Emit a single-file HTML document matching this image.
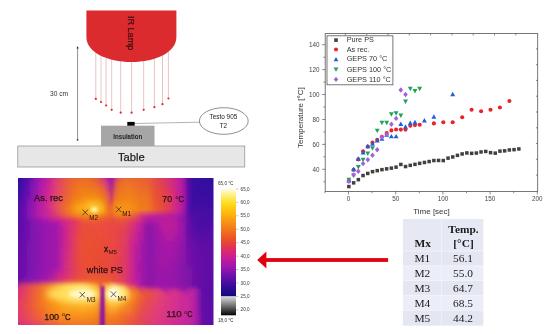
<!DOCTYPE html>
<html><head><meta charset="utf-8"><title>IR heating figure</title>
<style>
html,body{margin:0;padding:0;background:#fff;}
body{width:550px;height:334px;overflow:hidden;}
svg{display:block;}
.tk{font-family:"Liberation Sans",Arial,sans-serif;font-size:6.3px;fill:#444;}
.ax{font-family:"Liberation Sans",Arial,sans-serif;font-size:8px;fill:#333;}
.lg{font-family:"Liberation Sans",Arial,sans-serif;font-size:7.3px;fill:#333;}
.cal{font-family:"Liberation Sans",Arial,sans-serif;}
.c{width:3.2px;height:3.2px;}
.ser{font-family:"Liberation Serif","Times New Roman",serif;}
</style></head><body>
<svg width="550" height="334" viewBox="0 0 550 334">
<rect width="550" height="334" fill="#fff"/>
<g id="diagram">
<line x1="95.8" y1="45" x2="95.8" y2="98.9" stroke="#dfa4a4" stroke-width="0.65"/><circle cx="95.8" cy="98.9" r="1.1" fill="#e0262c"/><line x1="101.0" y1="45" x2="101.0" y2="102" stroke="#dfa4a4" stroke-width="0.65"/><circle cx="101.0" cy="102" r="1.1" fill="#e0262c"/><line x1="106.1" y1="45" x2="106.1" y2="105.5" stroke="#dfa4a4" stroke-width="0.65"/><circle cx="106.1" cy="105.5" r="1.1" fill="#e0262c"/><line x1="111.7" y1="45" x2="111.7" y2="109.8" stroke="#dfa4a4" stroke-width="0.65"/><circle cx="111.7" cy="109.8" r="1.1" fill="#e0262c"/><line x1="120.7" y1="45" x2="120.7" y2="112.7" stroke="#dfa4a4" stroke-width="0.65"/><circle cx="120.7" cy="112.7" r="1.1" fill="#e0262c"/><line x1="131.6" y1="45" x2="131.6" y2="112.7" stroke="#dfa4a4" stroke-width="0.65"/><circle cx="131.6" cy="112.7" r="1.1" fill="#e0262c"/><line x1="143.7" y1="45" x2="143.7" y2="109.8" stroke="#dfa4a4" stroke-width="0.65"/><circle cx="143.7" cy="109.8" r="1.1" fill="#e0262c"/><line x1="154.4" y1="45" x2="154.4" y2="107.2" stroke="#dfa4a4" stroke-width="0.65"/><circle cx="154.4" cy="107.2" r="1.1" fill="#e0262c"/><line x1="162.5" y1="45" x2="162.5" y2="104.2" stroke="#dfa4a4" stroke-width="0.65"/><circle cx="162.5" cy="104.2" r="1.1" fill="#e0262c"/><line x1="168.4" y1="45" x2="168.4" y2="98.5" stroke="#dfa4a4" stroke-width="0.65"/><circle cx="168.4" cy="98.5" r="1.1" fill="#e0262c"/>
<path d="M86.4,10.5 H176.4 V37 C176.4,52 156,62 131.4,62 C106.8,62 86.4,52 86.4,37 Z" fill="#dc2b2f"/>
<text transform="translate(127.9,15.9) rotate(90)" class="cal" font-size="8.4" textLength="34.4" lengthAdjust="spacingAndGlyphs" fill="#3a0c10" stroke="#3a0c10" stroke-width="0.2">IR Lamp</text>
<line x1="77.6" y1="48" x2="77.6" y2="139.5" stroke="#444" stroke-width="0.6"/>
<polygon points="77.6,46 76.5,48.6 78.7,48.6" fill="#333"/>
<circle cx="77.6" cy="139.8" r="0.9" fill="#333"/>
<text x="50" y="96.3" class="cal" font-size="6.6" textLength="18" lengthAdjust="spacingAndGlyphs" fill="#333">30 cm</text>
<rect x="17.8" y="146" width="227" height="21" fill="#e7e7e7" stroke="#8a8a8a" stroke-width="0.7"/>
<rect x="101" y="125.7" width="53.5" height="20.3" fill="#a6a6a6"/>
<rect x="127.3" y="121.9" width="7.4" height="3.8" fill="#000"/>
<line x1="134.7" y1="123.5" x2="199.5" y2="122.2" stroke="#666" stroke-width="0.5"/>
<ellipse cx="223.8" cy="121" rx="24.4" ry="13.3" fill="#fff" stroke="#444" stroke-width="0.6"/>
<text x="223.4" y="119.4" text-anchor="middle" class="cal" font-size="6.4" fill="#222">Testo 905</text>
<text x="223.4" y="128.1" text-anchor="middle" class="cal" font-size="6.4" fill="#222">T2</text>
<text x="113.3" y="138.5" class="cal" font-size="6.4" font-weight="bold" textLength="29" lengthAdjust="spacingAndGlyphs" fill="#222">Insulation</text>
<text x="117.9" y="160.8" class="cal" font-size="11.8" textLength="26.8" lengthAdjust="spacingAndGlyphs" fill="#222" stroke="#222" stroke-width="0.25">Table</text>
</g>
<g id="thermal">
<defs>
<clipPath id="tc"><rect x="18" y="178" width="195.5" height="147"/></clipPath>
<filter id="b8" x="-50%" y="-50%" width="200%" height="200%"><feGaussianBlur stdDeviation="8"/></filter>
<filter id="b5" x="-50%" y="-50%" width="200%" height="200%"><feGaussianBlur stdDeviation="5"/></filter>
<filter id="b3" x="-50%" y="-50%" width="200%" height="200%"><feGaussianBlur stdDeviation="3"/></filter>
<filter id="b2" x="-50%" y="-50%" width="200%" height="200%"><feGaussianBlur stdDeviation="1.8"/></filter>
<filter id="bc" x="-5%" y="-5%" width="110%" height="110%"><feGaussianBlur stdDeviation="1.3"/></filter>
<filter id="b1" x="-50%" y="-50%" width="200%" height="200%"><feGaussianBlur stdDeviation="1"/></filter>
<linearGradient id="bg" x1="0" x2="1" y1="0" y2="0">
<stop offset="0" stop-color="#4a0ca6"/><stop offset="0.12" stop-color="#7410ae"/><stop offset="0.25" stop-color="#a018b0"/>
<stop offset="0.7" stop-color="#a818a8"/><stop offset="0.86" stop-color="#8012a8"/><stop offset="0.92" stop-color="#5a0ea6"/><stop offset="1" stop-color="#4a0ca4"/>
</linearGradient>
<linearGradient id="cb" x1="0" x2="0" y1="0" y2="1">
<stop offset="0" stop-color="#fffbe6"/><stop offset="0.06" stop-color="#fff07a"/><stop offset="0.14" stop-color="#ffd91a"/>
<stop offset="0.24" stop-color="#fdb10c"/><stop offset="0.34" stop-color="#f6851a"/><stop offset="0.46" stop-color="#ec5424"/>
<stop offset="0.55" stop-color="#e0305a"/><stop offset="0.63" stop-color="#cc1e92"/><stop offset="0.72" stop-color="#a216b0"/>
<stop offset="0.82" stop-color="#6410a8"/><stop offset="0.92" stop-color="#2e0a96"/><stop offset="1" stop-color="#12087a"/>
</linearGradient>
<linearGradient id="cg" x1="0" x2="0" y1="0" y2="1">
<stop offset="0" stop-color="#dcdcdc"/><stop offset="1" stop-color="#050505"/>
</linearGradient>
</defs>
<g clip-path="url(#tc)"><g filter="url(#bc)"><rect class="c" x="12" y="172" fill="#2c08a0"/><rect class="c" x="15" y="172" fill="#2c08a0"/><rect class="c" x="18" y="172" fill="#3008a1"/><rect class="c" x="21" y="172" fill="#3408a2"/><rect class="c" x="24" y="172" fill="#4c0ca9"/><rect class="c" x="27" y="172" fill="#6410b0"/><rect class="c" x="30" y="172" fill="#6410b0"/><rect class="c" x="33" y="172" fill="#8014b0"/><rect class="c" x="36" y="172" fill="#9c18b0"/><rect class="c" x="39" y="172" fill="#9c18b0"/><rect class="c" x="42" y="172" fill="#b01ca6"/><rect class="c" x="45" y="172" fill="#c4209c"/><rect class="c" x="48" y="172" fill="#c4209c"/><rect class="c" x="51" y="172" fill="#d03086"/><rect class="c" x="54" y="172" fill="#dc4070"/><rect class="c" x="57" y="172" fill="#dc4070"/><rect class="c" x="60" y="172" fill="#e14b5c"/><rect class="c" x="63" y="172" fill="#e65648"/><rect class="c" x="66" y="172" fill="#e65648"/><rect class="c" x="69" y="172" fill="#e85e3c"/><rect class="c" x="72" y="172" fill="#ea6630"/><rect class="c" x="75" y="172" fill="#ea6630"/><rect class="c" x="78" y="172" fill="#eb6a2a"/><rect class="c" x="81" y="172" fill="#ec6e24"/><rect class="c" x="84" y="172" fill="#ec6e24"/><rect class="c" x="87" y="172" fill="#ea672c"/><rect class="c" x="90" y="172" fill="#e86034"/><rect class="c" x="93" y="172" fill="#e86034"/><rect class="c" x="96" y="172" fill="#e86034"/><rect class="c" x="99" y="172" fill="#de465c"/><rect class="c" x="102" y="172" fill="#d42c84"/><rect class="c" x="105" y="172" fill="#d42c84"/><rect class="c" x="108" y="172" fill="#b82296"/><rect class="c" x="111" y="172" fill="#9c18a8"/><rect class="c" x="114" y="172" fill="#c03976"/><rect class="c" x="117" y="172" fill="#e45a44"/><rect class="c" x="120" y="172" fill="#e86337"/><rect class="c" x="123" y="172" fill="#ec6c2a"/><rect class="c" x="126" y="172" fill="#ec6c2a"/><rect class="c" x="129" y="172" fill="#eb692d"/><rect class="c" x="132" y="172" fill="#ea6630"/><rect class="c" x="135" y="172" fill="#ea6630"/><rect class="c" x="138" y="172" fill="#ea6630"/><rect class="c" x="141" y="172" fill="#e86234"/><rect class="c" x="144" y="172" fill="#e65e38"/><rect class="c" x="147" y="172" fill="#e65e38"/><rect class="c" x="150" y="172" fill="#e65e38"/><rect class="c" x="153" y="172" fill="#e34f46"/><rect class="c" x="156" y="172" fill="#e04054"/><rect class="c" x="159" y="172" fill="#e04054"/><rect class="c" x="162" y="172" fill="#da366a"/><rect class="c" x="165" y="172" fill="#d42c80"/><rect class="c" x="168" y="172" fill="#d42c80"/><rect class="c" x="171" y="172" fill="#cb268d"/><rect class="c" x="174" y="172" fill="#c2209a"/><rect class="c" x="177" y="172" fill="#c2209a"/><rect class="c" x="180" y="172" fill="#b31ca1"/><rect class="c" x="183" y="172" fill="#8614a8"/><rect class="c" x="186" y="172" fill="#510da4"/><rect class="c" x="189" y="172" fill="#3a0aa0"/><rect class="c" x="192" y="172" fill="#3809a0"/><rect class="c" x="195" y="172" fill="#3608a0"/><rect class="c" x="198" y="172" fill="#3608a0"/><rect class="c" x="201" y="172" fill="#3308a0"/><rect class="c" x="204" y="172" fill="#3008a0"/><rect class="c" x="207" y="172" fill="#3008a0"/><rect class="c" x="210" y="172" fill="#3008a0"/><rect class="c" x="213" y="172" fill="#3008a0"/><rect class="c" x="216" y="172" fill="#3008a0"/><rect class="c" x="12" y="175" fill="#2c08a0"/><rect class="c" x="15" y="175" fill="#2c08a0"/><rect class="c" x="18" y="175" fill="#3008a1"/><rect class="c" x="21" y="175" fill="#3c09a4"/><rect class="c" x="24" y="175" fill="#440ba7"/><rect class="c" x="27" y="175" fill="#6410b0"/><rect class="c" x="30" y="175" fill="#6d11b0"/><rect class="c" x="33" y="175" fill="#7713b0"/><rect class="c" x="36" y="175" fill="#9c18b0"/><rect class="c" x="39" y="175" fill="#a319ad"/><rect class="c" x="42" y="175" fill="#a91ba9"/><rect class="c" x="45" y="175" fill="#c4209c"/><rect class="c" x="48" y="175" fill="#c82595"/><rect class="c" x="51" y="175" fill="#cc2b8d"/><rect class="c" x="54" y="175" fill="#dc4070"/><rect class="c" x="57" y="175" fill="#de4469"/><rect class="c" x="60" y="175" fill="#df4763"/><rect class="c" x="63" y="175" fill="#e65648"/><rect class="c" x="66" y="175" fill="#e75944"/><rect class="c" x="69" y="175" fill="#e75b40"/><rect class="c" x="72" y="175" fill="#ea6630"/><rect class="c" x="75" y="175" fill="#ea672e"/><rect class="c" x="78" y="175" fill="#eb692c"/><rect class="c" x="81" y="175" fill="#ec6e24"/><rect class="c" x="84" y="175" fill="#eb6c26"/><rect class="c" x="87" y="175" fill="#eb6a28"/><rect class="c" x="90" y="175" fill="#e86133"/><rect class="c" x="93" y="175" fill="#e75d38"/><rect class="c" x="96" y="175" fill="#e45644"/><rect class="c" x="99" y="175" fill="#e14e50"/><rect class="c" x="102" y="175" fill="#d42c84"/><rect class="c" x="105" y="175" fill="#c6278d"/><rect class="c" x="108" y="175" fill="#b82296"/><rect class="c" x="111" y="175" fill="#ab2693"/><rect class="c" x="114" y="175" fill="#bb347d"/><rect class="c" x="117" y="175" fill="#e55d40"/><rect class="c" x="120" y="175" fill="#e7603b"/><rect class="c" x="123" y="175" fill="#ec6c2a"/><rect class="c" x="126" y="175" fill="#ec6b2b"/><rect class="c" x="129" y="175" fill="#eb6a2c"/><rect class="c" x="132" y="175" fill="#ea6630"/><rect class="c" x="135" y="175" fill="#ea6531"/><rect class="c" x="138" y="175" fill="#e96432"/><rect class="c" x="141" y="175" fill="#e96333"/><rect class="c" x="144" y="175" fill="#e65e38"/><rect class="c" x="147" y="175" fill="#e65c3a"/><rect class="c" x="150" y="175" fill="#e5583e"/><rect class="c" x="153" y="175" fill="#e45441"/><rect class="c" x="156" y="175" fill="#e04153"/><rect class="c" x="159" y="175" fill="#df3e58"/><rect class="c" x="162" y="175" fill="#dd3b5f"/><rect class="c" x="165" y="175" fill="#d52e7c"/><rect class="c" x="168" y="175" fill="#d32b82"/><rect class="c" x="171" y="175" fill="#d02986"/><rect class="c" x="174" y="175" fill="#c32198"/><rect class="c" x="177" y="175" fill="#bd1f9c"/><rect class="c" x="180" y="175" fill="#b61da0"/><rect class="c" x="183" y="175" fill="#9015a8"/><rect class="c" x="186" y="175" fill="#590ea5"/><rect class="c" x="189" y="175" fill="#390aa0"/><rect class="c" x="192" y="175" fill="#3809a0"/><rect class="c" x="195" y="175" fill="#3608a0"/><rect class="c" x="198" y="175" fill="#3508a0"/><rect class="c" x="201" y="175" fill="#3408a0"/><rect class="c" x="204" y="175" fill="#3108a0"/><rect class="c" x="207" y="175" fill="#3008a0"/><rect class="c" x="210" y="175" fill="#3008a0"/><rect class="c" x="213" y="175" fill="#3008a0"/><rect class="c" x="216" y="175" fill="#3008a0"/><rect class="c" x="12" y="178" fill="#2e08a1"/><rect class="c" x="15" y="178" fill="#2e08a1"/><rect class="c" x="18" y="178" fill="#3309a2"/><rect class="c" x="21" y="178" fill="#3f0aa5"/><rect class="c" x="24" y="178" fill="#4f0ca9"/><rect class="c" x="27" y="178" fill="#5f0fae"/><rect class="c" x="30" y="178" fill="#7011b0"/><rect class="c" x="33" y="178" fill="#8214b0"/><rect class="c" x="36" y="178" fill="#9517b0"/><rect class="c" x="39" y="178" fill="#a519ac"/><rect class="c" x="42" y="178" fill="#b21ca5"/><rect class="c" x="45" y="178" fill="#bf1f9e"/><rect class="c" x="48" y="178" fill="#ca2594"/><rect class="c" x="51" y="178" fill="#d23086"/><rect class="c" x="54" y="178" fill="#da3b77"/><rect class="c" x="57" y="178" fill="#df4468"/><rect class="c" x="60" y="178" fill="#e24c5a"/><rect class="c" x="63" y="178" fill="#e5534c"/><rect class="c" x="66" y="178" fill="#e85a41"/><rect class="c" x="69" y="178" fill="#e96038"/><rect class="c" x="72" y="178" fill="#ea6530"/><rect class="c" x="75" y="178" fill="#eb692b"/><rect class="c" x="78" y="178" fill="#ec6c27"/><rect class="c" x="81" y="178" fill="#ed6e24"/><rect class="c" x="84" y="178" fill="#ed6e24"/><rect class="c" x="87" y="178" fill="#eb6a28"/><rect class="c" x="90" y="178" fill="#ea672d"/><rect class="c" x="93" y="178" fill="#e86134"/><rect class="c" x="96" y="178" fill="#e45844"/><rect class="c" x="99" y="178" fill="#df4b5b"/><rect class="c" x="102" y="178" fill="#d93e72"/><rect class="c" x="105" y="178" fill="#c82c8a"/><rect class="c" x="108" y="178" fill="#ac1d9f"/><rect class="c" x="111" y="178" fill="#ad2790"/><rect class="c" x="114" y="178" fill="#cc4563"/><rect class="c" x="117" y="178" fill="#e25b43"/><rect class="c" x="120" y="178" fill="#e96535"/><rect class="c" x="123" y="178" fill="#ec6b2d"/><rect class="c" x="126" y="178" fill="#ec6c2a"/><rect class="c" x="129" y="178" fill="#ec6b2c"/><rect class="c" x="132" y="178" fill="#eb692d"/><rect class="c" x="135" y="178" fill="#eb672f"/><rect class="c" x="138" y="178" fill="#ea6531"/><rect class="c" x="141" y="178" fill="#e96333"/><rect class="c" x="144" y="178" fill="#e86134"/><rect class="c" x="147" y="178" fill="#e75d38"/><rect class="c" x="150" y="178" fill="#e5563e"/><rect class="c" x="153" y="178" fill="#e44f45"/><rect class="c" x="156" y="178" fill="#e2474c"/><rect class="c" x="159" y="178" fill="#e04055"/><rect class="c" x="162" y="178" fill="#dd3a61"/><rect class="c" x="165" y="178" fill="#d9346f"/><rect class="c" x="168" y="178" fill="#d52e7b"/><rect class="c" x="171" y="178" fill="#cf2987"/><rect class="c" x="174" y="178" fill="#c92491"/><rect class="c" x="177" y="178" fill="#bf1f9a"/><rect class="c" x="180" y="178" fill="#b21ba2"/><rect class="c" x="183" y="178" fill="#9416a7"/><rect class="c" x="186" y="178" fill="#640fa5"/><rect class="c" x="189" y="178" fill="#420ba1"/><rect class="c" x="192" y="178" fill="#390aa0"/><rect class="c" x="195" y="178" fill="#3709a0"/><rect class="c" x="198" y="178" fill="#3609a0"/><rect class="c" x="201" y="178" fill="#3508a0"/><rect class="c" x="204" y="178" fill="#3408a0"/><rect class="c" x="207" y="178" fill="#3308a0"/><rect class="c" x="210" y="178" fill="#3208a0"/><rect class="c" x="213" y="178" fill="#3108a0"/><rect class="c" x="216" y="178" fill="#3108a0"/><rect class="c" x="12" y="181" fill="#3008a2"/><rect class="c" x="15" y="181" fill="#3208a3"/><rect class="c" x="18" y="181" fill="#3609a3"/><rect class="c" x="21" y="181" fill="#440ba6"/><rect class="c" x="24" y="181" fill="#540daa"/><rect class="c" x="27" y="181" fill="#640fae"/><rect class="c" x="30" y="181" fill="#7412b0"/><rect class="c" x="33" y="181" fill="#8614b0"/><rect class="c" x="36" y="181" fill="#9817af"/><rect class="c" x="39" y="181" fill="#a71aab"/><rect class="c" x="42" y="181" fill="#b51da4"/><rect class="c" x="45" y="181" fill="#c21f9d"/><rect class="c" x="48" y="181" fill="#cd2692"/><rect class="c" x="51" y="181" fill="#d53184"/><rect class="c" x="54" y="181" fill="#dc3c76"/><rect class="c" x="57" y="181" fill="#e24567"/><rect class="c" x="60" y="181" fill="#e44d58"/><rect class="c" x="63" y="181" fill="#e75549"/><rect class="c" x="66" y="181" fill="#e95c3d"/><rect class="c" x="69" y="181" fill="#ea6234"/><rect class="c" x="72" y="181" fill="#ec682b"/><rect class="c" x="75" y="181" fill="#ed6d25"/><rect class="c" x="78" y="181" fill="#ee7023"/><rect class="c" x="81" y="181" fill="#ee7220"/><rect class="c" x="84" y="181" fill="#ee7221"/><rect class="c" x="87" y="181" fill="#ed6f25"/><rect class="c" x="90" y="181" fill="#ec6b29"/><rect class="c" x="93" y="181" fill="#eb682c"/><rect class="c" x="96" y="181" fill="#e8603a"/><rect class="c" x="99" y="181" fill="#e2554f"/><rect class="c" x="102" y="181" fill="#dd4a65"/><rect class="c" x="105" y="181" fill="#cc3b7c"/><rect class="c" x="108" y="181" fill="#b32696"/><rect class="c" x="111" y="181" fill="#b32c89"/><rect class="c" x="114" y="181" fill="#d24b59"/><rect class="c" x="117" y="181" fill="#e4603b"/><rect class="c" x="120" y="181" fill="#ec6b2d"/><rect class="c" x="123" y="181" fill="#ee6f29"/><rect class="c" x="126" y="181" fill="#ee7027"/><rect class="c" x="129" y="181" fill="#ed6f29"/><rect class="c" x="132" y="181" fill="#ed6c2a"/><rect class="c" x="135" y="181" fill="#ec6a2c"/><rect class="c" x="138" y="181" fill="#eb682d"/><rect class="c" x="141" y="181" fill="#ea662f"/><rect class="c" x="144" y="181" fill="#e96331"/><rect class="c" x="147" y="181" fill="#e85e34"/><rect class="c" x="150" y="181" fill="#e7583a"/><rect class="c" x="153" y="181" fill="#e55041"/><rect class="c" x="156" y="181" fill="#e44948"/><rect class="c" x="159" y="181" fill="#e24250"/><rect class="c" x="162" y="181" fill="#df3c5c"/><rect class="c" x="165" y="181" fill="#db3669"/><rect class="c" x="168" y="181" fill="#d73077"/><rect class="c" x="171" y="181" fill="#d12b82"/><rect class="c" x="174" y="181" fill="#cb258d"/><rect class="c" x="177" y="181" fill="#c12098"/><rect class="c" x="180" y="181" fill="#b41ba1"/><rect class="c" x="183" y="181" fill="#9716a6"/><rect class="c" x="186" y="181" fill="#650fa6"/><rect class="c" x="189" y="181" fill="#440ba2"/><rect class="c" x="192" y="181" fill="#3b0aa0"/><rect class="c" x="195" y="181" fill="#390aa0"/><rect class="c" x="198" y="181" fill="#380aa0"/><rect class="c" x="201" y="181" fill="#3709a0"/><rect class="c" x="204" y="181" fill="#3509a0"/><rect class="c" x="207" y="181" fill="#3409a0"/><rect class="c" x="210" y="181" fill="#3308a0"/><rect class="c" x="213" y="181" fill="#3208a0"/><rect class="c" x="216" y="181" fill="#3208a0"/><rect class="c" x="12" y="184" fill="#3008a2"/><rect class="c" x="15" y="184" fill="#3409a3"/><rect class="c" x="18" y="184" fill="#3a0aa4"/><rect class="c" x="21" y="184" fill="#460ca6"/><rect class="c" x="24" y="184" fill="#560eaa"/><rect class="c" x="27" y="184" fill="#6610ae"/><rect class="c" x="30" y="184" fill="#7812b0"/><rect class="c" x="33" y="184" fill="#8a15b0"/><rect class="c" x="36" y="184" fill="#9c17ae"/><rect class="c" x="39" y="184" fill="#aa1baa"/><rect class="c" x="42" y="184" fill="#b61ea2"/><rect class="c" x="45" y="184" fill="#c4219b"/><rect class="c" x="48" y="184" fill="#ce2890"/><rect class="c" x="51" y="184" fill="#d63282"/><rect class="c" x="54" y="184" fill="#dd3d75"/><rect class="c" x="57" y="184" fill="#e24666"/><rect class="c" x="60" y="184" fill="#e54e56"/><rect class="c" x="63" y="184" fill="#e75647"/><rect class="c" x="66" y="184" fill="#e95d3b"/><rect class="c" x="69" y="184" fill="#eb6332"/><rect class="c" x="72" y="184" fill="#ec6b28"/><rect class="c" x="75" y="184" fill="#ee7123"/><rect class="c" x="78" y="184" fill="#ef7420"/><rect class="c" x="81" y="184" fill="#ef771e"/><rect class="c" x="84" y="184" fill="#ef761e"/><rect class="c" x="87" y="184" fill="#ee7322"/><rect class="c" x="90" y="184" fill="#ed7125"/><rect class="c" x="93" y="184" fill="#ed6e28"/><rect class="c" x="96" y="184" fill="#eb692c"/><rect class="c" x="99" y="184" fill="#e65f3f"/><rect class="c" x="102" y="184" fill="#e15454"/><rect class="c" x="105" y="184" fill="#d0456b"/><rect class="c" x="108" y="184" fill="#bb3088"/><rect class="c" x="111" y="184" fill="#bd357c"/><rect class="c" x="114" y="184" fill="#d8534e"/><rect class="c" x="117" y="184" fill="#e96731"/><rect class="c" x="120" y="184" fill="#ed6f28"/><rect class="c" x="123" y="184" fill="#ef7324"/><rect class="c" x="126" y="184" fill="#ef7424"/><rect class="c" x="129" y="184" fill="#ee7325"/><rect class="c" x="132" y="184" fill="#ee7027"/><rect class="c" x="135" y="184" fill="#ed6d29"/><rect class="c" x="138" y="184" fill="#ec6a2b"/><rect class="c" x="141" y="184" fill="#eb682c"/><rect class="c" x="144" y="184" fill="#ea672e"/><rect class="c" x="147" y="184" fill="#e96131"/><rect class="c" x="150" y="184" fill="#e85936"/><rect class="c" x="153" y="184" fill="#e6513d"/><rect class="c" x="156" y="184" fill="#e54a44"/><rect class="c" x="159" y="184" fill="#e3444a"/><rect class="c" x="162" y="184" fill="#e03e55"/><rect class="c" x="165" y="184" fill="#dc3862"/><rect class="c" x="168" y="184" fill="#d93271"/><rect class="c" x="171" y="184" fill="#d32c7d"/><rect class="c" x="174" y="184" fill="#cc268a"/><rect class="c" x="177" y="184" fill="#c32095"/><rect class="c" x="180" y="184" fill="#b61ba0"/><rect class="c" x="183" y="184" fill="#9916a5"/><rect class="c" x="186" y="184" fill="#670fa5"/><rect class="c" x="189" y="184" fill="#440ba2"/><rect class="c" x="192" y="184" fill="#3b0aa0"/><rect class="c" x="195" y="184" fill="#390aa0"/><rect class="c" x="198" y="184" fill="#380aa0"/><rect class="c" x="201" y="184" fill="#3709a0"/><rect class="c" x="204" y="184" fill="#3609a0"/><rect class="c" x="207" y="184" fill="#3509a0"/><rect class="c" x="210" y="184" fill="#3409a0"/><rect class="c" x="213" y="184" fill="#3308a0"/><rect class="c" x="216" y="184" fill="#3208a0"/><rect class="c" x="12" y="187" fill="#3b0aa5"/><rect class="c" x="15" y="187" fill="#3609a4"/><rect class="c" x="18" y="187" fill="#3e0aa5"/><rect class="c" x="21" y="187" fill="#4a0ca7"/><rect class="c" x="24" y="187" fill="#5a0eaa"/><rect class="c" x="27" y="187" fill="#6a10ae"/><rect class="c" x="30" y="187" fill="#7a12b0"/><rect class="c" x="33" y="187" fill="#8c15af"/><rect class="c" x="36" y="187" fill="#9e18ae"/><rect class="c" x="39" y="187" fill="#ad1ba8"/><rect class="c" x="42" y="187" fill="#b820a0"/><rect class="c" x="45" y="187" fill="#c52299"/><rect class="c" x="48" y="187" fill="#d0298e"/><rect class="c" x="51" y="187" fill="#d73481"/><rect class="c" x="54" y="187" fill="#dd3f73"/><rect class="c" x="57" y="187" fill="#e24864"/><rect class="c" x="60" y="187" fill="#e55054"/><rect class="c" x="63" y="187" fill="#e85845"/><rect class="c" x="66" y="187" fill="#ea5f39"/><rect class="c" x="69" y="187" fill="#eb6630"/><rect class="c" x="72" y="187" fill="#ed6d26"/><rect class="c" x="75" y="187" fill="#ef7420"/><rect class="c" x="78" y="187" fill="#f0781e"/><rect class="c" x="81" y="187" fill="#f07b1b"/><rect class="c" x="84" y="187" fill="#f07a1c"/><rect class="c" x="87" y="187" fill="#ef781f"/><rect class="c" x="90" y="187" fill="#ef7621"/><rect class="c" x="93" y="187" fill="#ee7523"/><rect class="c" x="96" y="187" fill="#ed7125"/><rect class="c" x="99" y="187" fill="#ea692e"/><rect class="c" x="102" y="187" fill="#e55e44"/><rect class="c" x="105" y="187" fill="#d54e5c"/><rect class="c" x="108" y="187" fill="#c2397a"/><rect class="c" x="111" y="187" fill="#c63e70"/><rect class="c" x="114" y="187" fill="#dd5a44"/><rect class="c" x="117" y="187" fill="#ec6d2a"/><rect class="c" x="120" y="187" fill="#ee7323"/><rect class="c" x="123" y="187" fill="#ef7720"/><rect class="c" x="126" y="187" fill="#f07821"/><rect class="c" x="129" y="187" fill="#ef7722"/><rect class="c" x="132" y="187" fill="#ee7424"/><rect class="c" x="135" y="187" fill="#ed7026"/><rect class="c" x="138" y="187" fill="#ec6d28"/><rect class="c" x="141" y="187" fill="#eb6b29"/><rect class="c" x="144" y="187" fill="#eb6a2a"/><rect class="c" x="147" y="187" fill="#ea652d"/><rect class="c" x="150" y="187" fill="#e95a33"/><rect class="c" x="153" y="187" fill="#e7523a"/><rect class="c" x="156" y="187" fill="#e64c40"/><rect class="c" x="159" y="187" fill="#e44646"/><rect class="c" x="162" y="187" fill="#e2414e"/><rect class="c" x="165" y="187" fill="#de3b5b"/><rect class="c" x="168" y="187" fill="#da346a"/><rect class="c" x="171" y="187" fill="#d52e78"/><rect class="c" x="174" y="187" fill="#ce2786"/><rect class="c" x="177" y="187" fill="#c42094"/><rect class="c" x="180" y="187" fill="#b81b9e"/><rect class="c" x="183" y="187" fill="#9a16a5"/><rect class="c" x="186" y="187" fill="#680fa5"/><rect class="c" x="189" y="187" fill="#450ba2"/><rect class="c" x="192" y="187" fill="#3b0aa0"/><rect class="c" x="195" y="187" fill="#390aa0"/><rect class="c" x="198" y="187" fill="#380aa0"/><rect class="c" x="201" y="187" fill="#3709a0"/><rect class="c" x="204" y="187" fill="#3609a0"/><rect class="c" x="207" y="187" fill="#3609a0"/><rect class="c" x="210" y="187" fill="#3609a1"/><rect class="c" x="213" y="187" fill="#3809a1"/><rect class="c" x="216" y="187" fill="#3609a1"/><rect class="c" x="12" y="190" fill="#460ca8"/><rect class="c" x="15" y="190" fill="#430ca7"/><rect class="c" x="18" y="190" fill="#410ba6"/><rect class="c" x="21" y="190" fill="#4c0ca8"/><rect class="c" x="24" y="190" fill="#5c0eab"/><rect class="c" x="27" y="190" fill="#6c10ae"/><rect class="c" x="30" y="190" fill="#7e13b0"/><rect class="c" x="33" y="190" fill="#9015ae"/><rect class="c" x="36" y="190" fill="#a218ac"/><rect class="c" x="39" y="190" fill="#b01ca7"/><rect class="c" x="42" y="190" fill="#ba209f"/><rect class="c" x="45" y="190" fill="#c72497"/><rect class="c" x="48" y="190" fill="#d12b8d"/><rect class="c" x="51" y="190" fill="#d8367f"/><rect class="c" x="54" y="190" fill="#dd4171"/><rect class="c" x="57" y="190" fill="#e24a63"/><rect class="c" x="60" y="190" fill="#e55253"/><rect class="c" x="63" y="190" fill="#e85943"/><rect class="c" x="66" y="190" fill="#ea6137"/><rect class="c" x="69" y="190" fill="#ec682d"/><rect class="c" x="72" y="190" fill="#ee7023"/><rect class="c" x="75" y="190" fill="#ef771d"/><rect class="c" x="78" y="190" fill="#f17b1b"/><rect class="c" x="81" y="190" fill="#f27f18"/><rect class="c" x="84" y="190" fill="#f17f19"/><rect class="c" x="87" y="190" fill="#f17e1b"/><rect class="c" x="90" y="190" fill="#f17d1c"/><rect class="c" x="93" y="190" fill="#f07d1d"/><rect class="c" x="96" y="190" fill="#ef7820"/><rect class="c" x="99" y="190" fill="#ed7124"/><rect class="c" x="102" y="190" fill="#e96833"/><rect class="c" x="105" y="190" fill="#dd584d"/><rect class="c" x="108" y="190" fill="#ca426c"/><rect class="c" x="111" y="190" fill="#cf4763"/><rect class="c" x="114" y="190" fill="#e2613b"/><rect class="c" x="117" y="190" fill="#ed7224"/><rect class="c" x="120" y="190" fill="#ef771f"/><rect class="c" x="123" y="190" fill="#f07a1e"/><rect class="c" x="126" y="190" fill="#f07b1e"/><rect class="c" x="129" y="190" fill="#f07a1f"/><rect class="c" x="132" y="190" fill="#ef7720"/><rect class="c" x="135" y="190" fill="#ee7323"/><rect class="c" x="138" y="190" fill="#ed7025"/><rect class="c" x="141" y="190" fill="#ec6e26"/><rect class="c" x="144" y="190" fill="#ec6d27"/><rect class="c" x="147" y="190" fill="#eb6929"/><rect class="c" x="150" y="190" fill="#ea5d2f"/><rect class="c" x="153" y="190" fill="#e85336"/><rect class="c" x="156" y="190" fill="#e74d3c"/><rect class="c" x="159" y="190" fill="#e54841"/><rect class="c" x="162" y="190" fill="#e34348"/><rect class="c" x="165" y="190" fill="#e03d55"/><rect class="c" x="168" y="190" fill="#dc3665"/><rect class="c" x="171" y="190" fill="#d72f74"/><rect class="c" x="174" y="190" fill="#d02883"/><rect class="c" x="177" y="190" fill="#c62092"/><rect class="c" x="180" y="190" fill="#ba1b9d"/><rect class="c" x="183" y="190" fill="#9c16a5"/><rect class="c" x="186" y="190" fill="#690fa5"/><rect class="c" x="189" y="190" fill="#460ba2"/><rect class="c" x="192" y="190" fill="#3c0aa1"/><rect class="c" x="195" y="190" fill="#390aa0"/><rect class="c" x="198" y="190" fill="#380aa0"/><rect class="c" x="201" y="190" fill="#3809a0"/><rect class="c" x="204" y="190" fill="#3709a0"/><rect class="c" x="207" y="190" fill="#3709a1"/><rect class="c" x="210" y="190" fill="#3709a1"/><rect class="c" x="213" y="190" fill="#380aa2"/><rect class="c" x="216" y="190" fill="#3a0aa2"/><rect class="c" x="12" y="193" fill="#460ca8"/><rect class="c" x="15" y="193" fill="#450ca8"/><rect class="c" x="18" y="193" fill="#450ba7"/><rect class="c" x="21" y="193" fill="#500da9"/><rect class="c" x="24" y="193" fill="#600fab"/><rect class="c" x="27" y="193" fill="#7011ae"/><rect class="c" x="30" y="193" fill="#8013af"/><rect class="c" x="33" y="193" fill="#9216ad"/><rect class="c" x="36" y="193" fill="#a418ab"/><rect class="c" x="39" y="193" fill="#b31ca5"/><rect class="c" x="42" y="193" fill="#be219d"/><rect class="c" x="45" y="193" fill="#c82595"/><rect class="c" x="48" y="193" fill="#d22c8b"/><rect class="c" x="51" y="193" fill="#d8377d"/><rect class="c" x="54" y="193" fill="#dd4370"/><rect class="c" x="57" y="193" fill="#e24c61"/><rect class="c" x="60" y="193" fill="#e55351"/><rect class="c" x="63" y="193" fill="#e85b41"/><rect class="c" x="66" y="193" fill="#eb6334"/><rect class="c" x="69" y="193" fill="#ec6a2a"/><rect class="c" x="72" y="193" fill="#ee7320"/><rect class="c" x="75" y="193" fill="#f07a1a"/><rect class="c" x="78" y="193" fill="#f17e18"/><rect class="c" x="81" y="193" fill="#f38316"/><rect class="c" x="84" y="193" fill="#f38415"/><rect class="c" x="87" y="193" fill="#f28317"/><rect class="c" x="90" y="193" fill="#f28417"/><rect class="c" x="93" y="193" fill="#f28417"/><rect class="c" x="96" y="193" fill="#f1801a"/><rect class="c" x="99" y="193" fill="#ef791e"/><rect class="c" x="102" y="193" fill="#ed7124"/><rect class="c" x="105" y="193" fill="#e4613f"/><rect class="c" x="108" y="193" fill="#d54c60"/><rect class="c" x="111" y="193" fill="#d95056"/><rect class="c" x="114" y="193" fill="#e76831"/><rect class="c" x="117" y="193" fill="#ee7620"/><rect class="c" x="120" y="193" fill="#f07b1a"/><rect class="c" x="123" y="193" fill="#f17d1a"/><rect class="c" x="126" y="193" fill="#f17e1a"/><rect class="c" x="129" y="193" fill="#f17e1b"/><rect class="c" x="132" y="193" fill="#f07a1d"/><rect class="c" x="135" y="193" fill="#ef7620"/><rect class="c" x="138" y="193" fill="#ee7322"/><rect class="c" x="141" y="193" fill="#ed7123"/><rect class="c" x="144" y="193" fill="#ed7123"/><rect class="c" x="147" y="193" fill="#ec6c25"/><rect class="c" x="150" y="193" fill="#eb612b"/><rect class="c" x="153" y="193" fill="#e95532"/><rect class="c" x="156" y="193" fill="#e84f38"/><rect class="c" x="159" y="193" fill="#e64a3d"/><rect class="c" x="162" y="193" fill="#e44542"/><rect class="c" x="165" y="193" fill="#e13f4e"/><rect class="c" x="168" y="193" fill="#de385f"/><rect class="c" x="171" y="193" fill="#d93070"/><rect class="c" x="174" y="193" fill="#d12881"/><rect class="c" x="177" y="193" fill="#c82091"/><rect class="c" x="180" y="193" fill="#bc1b9c"/><rect class="c" x="183" y="193" fill="#9e16a4"/><rect class="c" x="186" y="193" fill="#6a0fa5"/><rect class="c" x="189" y="193" fill="#460ba3"/><rect class="c" x="192" y="193" fill="#3c0aa1"/><rect class="c" x="195" y="193" fill="#3a0aa0"/><rect class="c" x="198" y="193" fill="#390aa0"/><rect class="c" x="201" y="193" fill="#390aa1"/><rect class="c" x="204" y="193" fill="#390aa1"/><rect class="c" x="207" y="193" fill="#390aa1"/><rect class="c" x="210" y="193" fill="#390aa2"/><rect class="c" x="213" y="193" fill="#390aa2"/><rect class="c" x="216" y="193" fill="#3a0aa2"/><rect class="c" x="12" y="196" fill="#460ca8"/><rect class="c" x="15" y="196" fill="#470ca8"/><rect class="c" x="18" y="196" fill="#490ca8"/><rect class="c" x="21" y="196" fill="#530da9"/><rect class="c" x="24" y="196" fill="#630fac"/><rect class="c" x="27" y="196" fill="#7311af"/><rect class="c" x="30" y="196" fill="#8313af"/><rect class="c" x="33" y="196" fill="#9516ac"/><rect class="c" x="36" y="196" fill="#a719aa"/><rect class="c" x="39" y="196" fill="#b51ca4"/><rect class="c" x="42" y="196" fill="#c0219c"/><rect class="c" x="45" y="196" fill="#ca2694"/><rect class="c" x="48" y="196" fill="#d22e8a"/><rect class="c" x="51" y="196" fill="#d8397c"/><rect class="c" x="54" y="196" fill="#de456e"/><rect class="c" x="57" y="196" fill="#e24f5f"/><rect class="c" x="60" y="196" fill="#e6564f"/><rect class="c" x="63" y="196" fill="#e95d3f"/><rect class="c" x="66" y="196" fill="#eb6532"/><rect class="c" x="69" y="196" fill="#ed6e27"/><rect class="c" x="72" y="196" fill="#f0781d"/><rect class="c" x="75" y="196" fill="#f17f17"/><rect class="c" x="78" y="196" fill="#f28315"/><rect class="c" x="81" y="196" fill="#f48814"/><rect class="c" x="84" y="196" fill="#f58d14"/><rect class="c" x="87" y="196" fill="#f48e15"/><rect class="c" x="90" y="196" fill="#f48f15"/><rect class="c" x="93" y="196" fill="#f48f15"/><rect class="c" x="96" y="196" fill="#f38b18"/><rect class="c" x="99" y="196" fill="#f1841c"/><rect class="c" x="102" y="196" fill="#ef791e"/><rect class="c" x="105" y="196" fill="#e86933"/><rect class="c" x="108" y="196" fill="#dd5453"/><rect class="c" x="111" y="196" fill="#e0584c"/><rect class="c" x="114" y="196" fill="#eb7027"/><rect class="c" x="117" y="196" fill="#f07b1c"/><rect class="c" x="120" y="196" fill="#f17f18"/><rect class="c" x="123" y="196" fill="#f18018"/><rect class="c" x="126" y="196" fill="#f28218"/><rect class="c" x="129" y="196" fill="#f28119"/><rect class="c" x="132" y="196" fill="#f17e1b"/><rect class="c" x="135" y="196" fill="#f07a1d"/><rect class="c" x="138" y="196" fill="#ee7520"/><rect class="c" x="141" y="196" fill="#ee7420"/><rect class="c" x="144" y="196" fill="#ee7420"/><rect class="c" x="147" y="196" fill="#ed6f23"/><rect class="c" x="150" y="196" fill="#ec6429"/><rect class="c" x="153" y="196" fill="#ea572f"/><rect class="c" x="156" y="196" fill="#e85035"/><rect class="c" x="159" y="196" fill="#e74b3a"/><rect class="c" x="162" y="196" fill="#e5463f"/><rect class="c" x="165" y="196" fill="#e2404a"/><rect class="c" x="168" y="196" fill="#df3a5b"/><rect class="c" x="171" y="196" fill="#d9316d"/><rect class="c" x="174" y="196" fill="#d22880"/><rect class="c" x="177" y="196" fill="#c82090"/><rect class="c" x="180" y="196" fill="#bd1b9c"/><rect class="c" x="183" y="196" fill="#9e16a4"/><rect class="c" x="186" y="196" fill="#6b0fa5"/><rect class="c" x="189" y="196" fill="#470ba3"/><rect class="c" x="192" y="196" fill="#3d0aa1"/><rect class="c" x="195" y="196" fill="#3b0aa0"/><rect class="c" x="198" y="196" fill="#3b0aa1"/><rect class="c" x="201" y="196" fill="#3b0aa1"/><rect class="c" x="204" y="196" fill="#3b0aa1"/><rect class="c" x="207" y="196" fill="#3b0aa2"/><rect class="c" x="210" y="196" fill="#3a0aa2"/><rect class="c" x="213" y="196" fill="#3a0aa2"/><rect class="c" x="216" y="196" fill="#3a0aa2"/><rect class="c" x="12" y="199" fill="#460ca8"/><rect class="c" x="15" y="199" fill="#490ca8"/><rect class="c" x="18" y="199" fill="#4d0da9"/><rect class="c" x="21" y="199" fill="#570eaa"/><rect class="c" x="24" y="199" fill="#6710ac"/><rect class="c" x="27" y="199" fill="#7712af"/><rect class="c" x="30" y="199" fill="#8614af"/><rect class="c" x="33" y="199" fill="#9717ac"/><rect class="c" x="36" y="199" fill="#a919a9"/><rect class="c" x="39" y="199" fill="#b61da4"/><rect class="c" x="42" y="199" fill="#c0229c"/><rect class="c" x="45" y="199" fill="#cb2694"/><rect class="c" x="48" y="199" fill="#d32e89"/><rect class="c" x="51" y="199" fill="#d83a7b"/><rect class="c" x="54" y="199" fill="#de466b"/><rect class="c" x="57" y="199" fill="#e3515b"/><rect class="c" x="60" y="199" fill="#e75a4b"/><rect class="c" x="63" y="199" fill="#ea613b"/><rect class="c" x="66" y="199" fill="#ed692e"/><rect class="c" x="69" y="199" fill="#ef7224"/><rect class="c" x="72" y="199" fill="#f17e1a"/><rect class="c" x="75" y="199" fill="#f38616"/><rect class="c" x="78" y="199" fill="#f48b15"/><rect class="c" x="81" y="199" fill="#f59013"/><rect class="c" x="84" y="199" fill="#f69a17"/><rect class="c" x="87" y="199" fill="#f79e18"/><rect class="c" x="90" y="199" fill="#f79f19"/><rect class="c" x="93" y="199" fill="#f7a11a"/><rect class="c" x="96" y="199" fill="#f69c1b"/><rect class="c" x="99" y="199" fill="#f4951f"/><rect class="c" x="102" y="199" fill="#f1841d"/><rect class="c" x="105" y="199" fill="#eb702d"/><rect class="c" x="108" y="199" fill="#e15a49"/><rect class="c" x="111" y="199" fill="#e35f43"/><rect class="c" x="114" y="199" fill="#ee7821"/><rect class="c" x="117" y="199" fill="#f18118"/><rect class="c" x="120" y="199" fill="#f28416"/><rect class="c" x="123" y="199" fill="#f28516"/><rect class="c" x="126" y="199" fill="#f38616"/><rect class="c" x="129" y="199" fill="#f38517"/><rect class="c" x="132" y="199" fill="#f28118"/><rect class="c" x="135" y="199" fill="#f17d1b"/><rect class="c" x="138" y="199" fill="#ef781e"/><rect class="c" x="141" y="199" fill="#ef761f"/><rect class="c" x="144" y="199" fill="#ef761f"/><rect class="c" x="147" y="199" fill="#ee7122"/><rect class="c" x="150" y="199" fill="#ed6628"/><rect class="c" x="153" y="199" fill="#eb592f"/><rect class="c" x="156" y="199" fill="#e95135"/><rect class="c" x="159" y="199" fill="#e74c3a"/><rect class="c" x="162" y="199" fill="#e5473f"/><rect class="c" x="165" y="199" fill="#e2414a"/><rect class="c" x="168" y="199" fill="#df3a5b"/><rect class="c" x="171" y="199" fill="#d9326e"/><rect class="c" x="174" y="199" fill="#d22981"/><rect class="c" x="177" y="199" fill="#c82091"/><rect class="c" x="180" y="199" fill="#bc1b9c"/><rect class="c" x="183" y="199" fill="#9d16a4"/><rect class="c" x="186" y="199" fill="#6a0fa6"/><rect class="c" x="189" y="199" fill="#470ba3"/><rect class="c" x="192" y="199" fill="#3e0ba2"/><rect class="c" x="195" y="199" fill="#3d0ba1"/><rect class="c" x="198" y="199" fill="#3d0ba2"/><rect class="c" x="201" y="199" fill="#3d0ba2"/><rect class="c" x="204" y="199" fill="#3d0ba2"/><rect class="c" x="207" y="199" fill="#3d0ba2"/><rect class="c" x="210" y="199" fill="#3c0ba3"/><rect class="c" x="213" y="199" fill="#3b0aa2"/><rect class="c" x="216" y="199" fill="#3a0aa2"/><rect class="c" x="12" y="202" fill="#4e0da9"/><rect class="c" x="15" y="202" fill="#4b0da9"/><rect class="c" x="18" y="202" fill="#510da9"/><rect class="c" x="21" y="202" fill="#5b0eaa"/><rect class="c" x="24" y="202" fill="#6b10ad"/><rect class="c" x="27" y="202" fill="#7b12af"/><rect class="c" x="30" y="202" fill="#8a14af"/><rect class="c" x="33" y="202" fill="#9a17ac"/><rect class="c" x="36" y="202" fill="#ab1aa9"/><rect class="c" x="39" y="202" fill="#b81da4"/><rect class="c" x="42" y="202" fill="#c0229c"/><rect class="c" x="45" y="202" fill="#cb2794"/><rect class="c" x="48" y="202" fill="#d32f89"/><rect class="c" x="51" y="202" fill="#d93b79"/><rect class="c" x="54" y="202" fill="#df4769"/><rect class="c" x="57" y="202" fill="#e45357"/><rect class="c" x="60" y="202" fill="#e85d47"/><rect class="c" x="63" y="202" fill="#ec6537"/><rect class="c" x="66" y="202" fill="#ee6d2a"/><rect class="c" x="69" y="202" fill="#f17821"/><rect class="c" x="72" y="202" fill="#f38418"/><rect class="c" x="75" y="202" fill="#f58e14"/><rect class="c" x="78" y="202" fill="#f59414"/><rect class="c" x="81" y="202" fill="#f69912"/><rect class="c" x="84" y="202" fill="#f8a317"/><rect class="c" x="87" y="202" fill="#f9af1e"/><rect class="c" x="90" y="202" fill="#f9b626"/><rect class="c" x="93" y="202" fill="#f9b524"/><rect class="c" x="96" y="202" fill="#f8af21"/><rect class="c" x="99" y="202" fill="#f7a51d"/><rect class="c" x="102" y="202" fill="#f3911e"/><rect class="c" x="105" y="202" fill="#ed7628"/><rect class="c" x="108" y="202" fill="#e45f3f"/><rect class="c" x="111" y="202" fill="#e66539"/><rect class="c" x="114" y="202" fill="#f07f1e"/><rect class="c" x="117" y="202" fill="#f38915"/><rect class="c" x="120" y="202" fill="#f38a15"/><rect class="c" x="123" y="202" fill="#f48a15"/><rect class="c" x="126" y="202" fill="#f48a15"/><rect class="c" x="129" y="202" fill="#f48915"/><rect class="c" x="132" y="202" fill="#f38516"/><rect class="c" x="135" y="202" fill="#f1801a"/><rect class="c" x="138" y="202" fill="#f07b1e"/><rect class="c" x="141" y="202" fill="#ef771f"/><rect class="c" x="144" y="202" fill="#ef771f"/><rect class="c" x="147" y="202" fill="#ef7321"/><rect class="c" x="150" y="202" fill="#ed6728"/><rect class="c" x="153" y="202" fill="#eb5b2f"/><rect class="c" x="156" y="202" fill="#e95235"/><rect class="c" x="159" y="202" fill="#e74c3b"/><rect class="c" x="162" y="202" fill="#e54740"/><rect class="c" x="165" y="202" fill="#e2424b"/><rect class="c" x="168" y="202" fill="#de3a5d"/><rect class="c" x="171" y="202" fill="#d93270"/><rect class="c" x="174" y="202" fill="#d12983"/><rect class="c" x="177" y="202" fill="#c72292"/><rect class="c" x="180" y="202" fill="#ba1c9d"/><rect class="c" x="183" y="202" fill="#9c16a4"/><rect class="c" x="186" y="202" fill="#6a10a6"/><rect class="c" x="189" y="202" fill="#470ca3"/><rect class="c" x="192" y="202" fill="#3f0ba2"/><rect class="c" x="195" y="202" fill="#3f0ba2"/><rect class="c" x="198" y="202" fill="#3f0ba2"/><rect class="c" x="201" y="202" fill="#3f0ba3"/><rect class="c" x="204" y="202" fill="#3f0ba3"/><rect class="c" x="207" y="202" fill="#3f0ba3"/><rect class="c" x="210" y="202" fill="#3f0ba3"/><rect class="c" x="213" y="202" fill="#400ba3"/><rect class="c" x="216" y="202" fill="#3e0ba3"/><rect class="c" x="12" y="205" fill="#560eaa"/><rect class="c" x="15" y="205" fill="#550eaa"/><rect class="c" x="18" y="205" fill="#550eaa"/><rect class="c" x="21" y="205" fill="#5f0fab"/><rect class="c" x="24" y="205" fill="#6f11ad"/><rect class="c" x="27" y="205" fill="#7f13af"/><rect class="c" x="30" y="205" fill="#8e15af"/><rect class="c" x="33" y="205" fill="#9e18ac"/><rect class="c" x="36" y="205" fill="#ad1aa9"/><rect class="c" x="39" y="205" fill="#ba1ea4"/><rect class="c" x="42" y="205" fill="#c2239c"/><rect class="c" x="45" y="205" fill="#cb2794"/><rect class="c" x="48" y="205" fill="#d33087"/><rect class="c" x="51" y="205" fill="#d93c77"/><rect class="c" x="54" y="205" fill="#e04865"/><rect class="c" x="57" y="205" fill="#e55453"/><rect class="c" x="60" y="205" fill="#e95f43"/><rect class="c" x="63" y="205" fill="#ed6933"/><rect class="c" x="66" y="205" fill="#f07327"/><rect class="c" x="69" y="205" fill="#f27e1e"/><rect class="c" x="72" y="205" fill="#f58c16"/><rect class="c" x="75" y="205" fill="#f79612"/><rect class="c" x="78" y="205" fill="#f79c12"/><rect class="c" x="81" y="205" fill="#f8a112"/><rect class="c" x="84" y="205" fill="#f9ac16"/><rect class="c" x="87" y="205" fill="#fbbd21"/><rect class="c" x="90" y="205" fill="#fccc33"/><rect class="c" x="93" y="205" fill="#fcce36"/><rect class="c" x="96" y="205" fill="#fbc429"/><rect class="c" x="99" y="205" fill="#fab51b"/><rect class="c" x="102" y="205" fill="#f69b19"/><rect class="c" x="105" y="205" fill="#ef7d20"/><rect class="c" x="108" y="205" fill="#e86534"/><rect class="c" x="111" y="205" fill="#e96b30"/><rect class="c" x="114" y="205" fill="#f2861a"/><rect class="c" x="117" y="205" fill="#f59113"/><rect class="c" x="120" y="205" fill="#f59113"/><rect class="c" x="123" y="205" fill="#f58f13"/><rect class="c" x="126" y="205" fill="#f58e14"/><rect class="c" x="129" y="205" fill="#f48c14"/><rect class="c" x="132" y="205" fill="#f48915"/><rect class="c" x="135" y="205" fill="#f28319"/><rect class="c" x="138" y="205" fill="#f07d1d"/><rect class="c" x="141" y="205" fill="#ef791f"/><rect class="c" x="144" y="205" fill="#f0791f"/><rect class="c" x="147" y="205" fill="#ef7421"/><rect class="c" x="150" y="205" fill="#ee6927"/><rect class="c" x="153" y="205" fill="#ec5c2f"/><rect class="c" x="156" y="205" fill="#ea5435"/><rect class="c" x="159" y="205" fill="#e74e3b"/><rect class="c" x="162" y="205" fill="#e54841"/><rect class="c" x="165" y="205" fill="#e2424c"/><rect class="c" x="168" y="205" fill="#de3a5f"/><rect class="c" x="171" y="205" fill="#d83271"/><rect class="c" x="174" y="205" fill="#d02a84"/><rect class="c" x="177" y="205" fill="#c62293"/><rect class="c" x="180" y="205" fill="#b81c9e"/><rect class="c" x="183" y="205" fill="#9a16a5"/><rect class="c" x="186" y="205" fill="#6910a6"/><rect class="c" x="189" y="205" fill="#480ca4"/><rect class="c" x="192" y="205" fill="#410ca3"/><rect class="c" x="195" y="205" fill="#410ca3"/><rect class="c" x="198" y="205" fill="#420ca3"/><rect class="c" x="201" y="205" fill="#420ca3"/><rect class="c" x="204" y="205" fill="#410ca4"/><rect class="c" x="207" y="205" fill="#410ca4"/><rect class="c" x="210" y="205" fill="#410ca4"/><rect class="c" x="213" y="205" fill="#410ca4"/><rect class="c" x="216" y="205" fill="#420ca4"/><rect class="c" x="12" y="208" fill="#560eaa"/><rect class="c" x="15" y="208" fill="#560eaa"/><rect class="c" x="18" y="208" fill="#570eaa"/><rect class="c" x="21" y="208" fill="#610fab"/><rect class="c" x="24" y="208" fill="#7111ad"/><rect class="c" x="27" y="208" fill="#8113af"/><rect class="c" x="30" y="208" fill="#9015af"/><rect class="c" x="33" y="208" fill="#a018ac"/><rect class="c" x="36" y="208" fill="#af1ba9"/><rect class="c" x="39" y="208" fill="#bb1ea4"/><rect class="c" x="42" y="208" fill="#c3239c"/><rect class="c" x="45" y="208" fill="#ca2795"/><rect class="c" x="48" y="208" fill="#d22e8a"/><rect class="c" x="51" y="208" fill="#d83b78"/><rect class="c" x="54" y="208" fill="#df4766"/><rect class="c" x="57" y="208" fill="#e45354"/><rect class="c" x="60" y="208" fill="#e85e44"/><rect class="c" x="63" y="208" fill="#ed6834"/><rect class="c" x="66" y="208" fill="#f07327"/><rect class="c" x="69" y="208" fill="#f3801e"/><rect class="c" x="72" y="208" fill="#f58e16"/><rect class="c" x="75" y="208" fill="#f79612"/><rect class="c" x="78" y="208" fill="#f89b12"/><rect class="c" x="81" y="208" fill="#f8a112"/><rect class="c" x="84" y="208" fill="#f9ad17"/><rect class="c" x="87" y="208" fill="#fbb91f"/><rect class="c" x="90" y="208" fill="#fcc72c"/><rect class="c" x="93" y="208" fill="#fcd039"/><rect class="c" x="96" y="208" fill="#fbc72f"/><rect class="c" x="99" y="208" fill="#fab820"/><rect class="c" x="102" y="208" fill="#f79f16"/><rect class="c" x="105" y="208" fill="#f1821c"/><rect class="c" x="108" y="208" fill="#eb6a2a"/><rect class="c" x="111" y="208" fill="#ec7127"/><rect class="c" x="114" y="208" fill="#f2881a"/><rect class="c" x="117" y="208" fill="#f69514"/><rect class="c" x="120" y="208" fill="#f69513"/><rect class="c" x="123" y="208" fill="#f59214"/><rect class="c" x="126" y="208" fill="#f58f14"/><rect class="c" x="129" y="208" fill="#f48c15"/><rect class="c" x="132" y="208" fill="#f38915"/><rect class="c" x="135" y="208" fill="#f38518"/><rect class="c" x="138" y="208" fill="#f17e1d"/><rect class="c" x="141" y="208" fill="#f07a20"/><rect class="c" x="144" y="208" fill="#ef7822"/><rect class="c" x="147" y="208" fill="#ef7323"/><rect class="c" x="150" y="208" fill="#ed6829"/><rect class="c" x="153" y="208" fill="#eb5c30"/><rect class="c" x="156" y="208" fill="#e95436"/><rect class="c" x="159" y="208" fill="#e74e3c"/><rect class="c" x="162" y="208" fill="#e44842"/><rect class="c" x="165" y="208" fill="#e1414f"/><rect class="c" x="168" y="208" fill="#dd3a61"/><rect class="c" x="171" y="208" fill="#d73373"/><rect class="c" x="174" y="208" fill="#cf2a85"/><rect class="c" x="177" y="208" fill="#c42394"/><rect class="c" x="180" y="208" fill="#b71d9e"/><rect class="c" x="183" y="208" fill="#9816a5"/><rect class="c" x="186" y="208" fill="#6910a6"/><rect class="c" x="189" y="208" fill="#4a0da5"/><rect class="c" x="192" y="208" fill="#440ca4"/><rect class="c" x="195" y="208" fill="#450ca4"/><rect class="c" x="198" y="208" fill="#440ca4"/><rect class="c" x="201" y="208" fill="#440ca4"/><rect class="c" x="204" y="208" fill="#440ca4"/><rect class="c" x="207" y="208" fill="#430ca4"/><rect class="c" x="210" y="208" fill="#420ca4"/><rect class="c" x="213" y="208" fill="#420ca4"/><rect class="c" x="216" y="208" fill="#420ca4"/><rect class="c" x="12" y="211" fill="#570eaa"/><rect class="c" x="15" y="211" fill="#570eaa"/><rect class="c" x="18" y="211" fill="#580eaa"/><rect class="c" x="21" y="211" fill="#620fab"/><rect class="c" x="24" y="211" fill="#7211ad"/><rect class="c" x="27" y="211" fill="#8213af"/><rect class="c" x="30" y="211" fill="#9115af"/><rect class="c" x="33" y="211" fill="#9f18ac"/><rect class="c" x="36" y="211" fill="#ae1ba9"/><rect class="c" x="39" y="211" fill="#b91ea5"/><rect class="c" x="42" y="211" fill="#c0219e"/><rect class="c" x="45" y="211" fill="#c82598"/><rect class="c" x="48" y="211" fill="#ce2c8e"/><rect class="c" x="51" y="211" fill="#d5367f"/><rect class="c" x="54" y="211" fill="#dc426e"/><rect class="c" x="57" y="211" fill="#e14e5d"/><rect class="c" x="60" y="211" fill="#e6584c"/><rect class="c" x="63" y="211" fill="#ea633d"/><rect class="c" x="66" y="211" fill="#ee6e2f"/><rect class="c" x="69" y="211" fill="#f07825"/><rect class="c" x="72" y="211" fill="#f3851c"/><rect class="c" x="75" y="211" fill="#f58e17"/><rect class="c" x="78" y="211" fill="#f59016"/><rect class="c" x="81" y="211" fill="#f69415"/><rect class="c" x="84" y="211" fill="#f79a16"/><rect class="c" x="87" y="211" fill="#f8a41c"/><rect class="c" x="90" y="211" fill="#f8a91e"/><rect class="c" x="93" y="211" fill="#f9ae25"/><rect class="c" x="96" y="211" fill="#f8a925"/><rect class="c" x="99" y="211" fill="#f69f21"/><rect class="c" x="102" y="211" fill="#f4931c"/><rect class="c" x="105" y="211" fill="#f07c1e"/><rect class="c" x="108" y="211" fill="#ec6d26"/><rect class="c" x="111" y="211" fill="#ec6f26"/><rect class="c" x="114" y="211" fill="#f1841b"/><rect class="c" x="117" y="211" fill="#f38d19"/><rect class="c" x="120" y="211" fill="#f48d18"/><rect class="c" x="123" y="211" fill="#f38918"/><rect class="c" x="126" y="211" fill="#f2841b"/><rect class="c" x="129" y="211" fill="#f07e1f"/><rect class="c" x="132" y="211" fill="#ef7824"/><rect class="c" x="135" y="211" fill="#e96c36"/><rect class="c" x="138" y="211" fill="#e66343"/><rect class="c" x="141" y="211" fill="#e25c4b"/><rect class="c" x="144" y="211" fill="#de5950"/><rect class="c" x="147" y="211" fill="#dd5353"/><rect class="c" x="150" y="211" fill="#db4d56"/><rect class="c" x="153" y="211" fill="#d94659"/><rect class="c" x="156" y="211" fill="#d7405e"/><rect class="c" x="159" y="211" fill="#d53c62"/><rect class="c" x="162" y="211" fill="#d33867"/><rect class="c" x="165" y="211" fill="#d0336e"/><rect class="c" x="168" y="211" fill="#cd2f78"/><rect class="c" x="171" y="211" fill="#c92a85"/><rect class="c" x="174" y="211" fill="#c3268e"/><rect class="c" x="177" y="211" fill="#ba2099"/><rect class="c" x="180" y="211" fill="#ad1ca0"/><rect class="c" x="183" y="211" fill="#9216a6"/><rect class="c" x="186" y="211" fill="#6c11a7"/><rect class="c" x="189" y="211" fill="#4f0da5"/><rect class="c" x="192" y="211" fill="#490da5"/><rect class="c" x="195" y="211" fill="#490da5"/><rect class="c" x="198" y="211" fill="#490ca4"/><rect class="c" x="201" y="211" fill="#470ca4"/><rect class="c" x="204" y="211" fill="#460ca4"/><rect class="c" x="207" y="211" fill="#450ca4"/><rect class="c" x="210" y="211" fill="#440ca4"/><rect class="c" x="213" y="211" fill="#430ca4"/><rect class="c" x="216" y="211" fill="#430ca4"/><rect class="c" x="12" y="214" fill="#590eaa"/><rect class="c" x="15" y="214" fill="#590eaa"/><rect class="c" x="18" y="214" fill="#590eaa"/><rect class="c" x="21" y="214" fill="#620fab"/><rect class="c" x="24" y="214" fill="#7211ad"/><rect class="c" x="27" y="214" fill="#8213af"/><rect class="c" x="30" y="214" fill="#9215af"/><rect class="c" x="33" y="214" fill="#a018ac"/><rect class="c" x="36" y="214" fill="#af1ba9"/><rect class="c" x="39" y="214" fill="#b91ea5"/><rect class="c" x="42" y="214" fill="#c0219f"/><rect class="c" x="45" y="214" fill="#c72599"/><rect class="c" x="48" y="214" fill="#cd2a90"/><rect class="c" x="51" y="214" fill="#d33183"/><rect class="c" x="54" y="214" fill="#d93876"/><rect class="c" x="57" y="214" fill="#df4366"/><rect class="c" x="60" y="214" fill="#e34d54"/><rect class="c" x="63" y="214" fill="#e75743"/><rect class="c" x="66" y="214" fill="#eb6237"/><rect class="c" x="69" y="214" fill="#ed6c2e"/><rect class="c" x="72" y="214" fill="#f07726"/><rect class="c" x="75" y="214" fill="#f27e21"/><rect class="c" x="78" y="214" fill="#f27f20"/><rect class="c" x="81" y="214" fill="#f2801f"/><rect class="c" x="84" y="214" fill="#f3811d"/><rect class="c" x="87" y="214" fill="#f3851d"/><rect class="c" x="90" y="214" fill="#f4871d"/><rect class="c" x="93" y="214" fill="#f4881e"/><rect class="c" x="96" y="214" fill="#f3831f"/><rect class="c" x="99" y="214" fill="#f17d21"/><rect class="c" x="102" y="214" fill="#f07724"/><rect class="c" x="105" y="214" fill="#ee6f25"/><rect class="c" x="108" y="214" fill="#eb642b"/><rect class="c" x="111" y="214" fill="#eb642c"/><rect class="c" x="114" y="214" fill="#ef7424"/><rect class="c" x="117" y="214" fill="#f07821"/><rect class="c" x="120" y="214" fill="#f07722"/><rect class="c" x="123" y="214" fill="#ef7325"/><rect class="c" x="126" y="214" fill="#ee6e29"/><rect class="c" x="129" y="214" fill="#ec6730"/><rect class="c" x="132" y="214" fill="#e85f3c"/><rect class="c" x="135" y="214" fill="#e4564a"/><rect class="c" x="138" y="214" fill="#da416c"/><rect class="c" x="141" y="214" fill="#d1367d"/><rect class="c" x="144" y="214" fill="#c93087"/><rect class="c" x="147" y="214" fill="#c52b8e"/><rect class="c" x="150" y="214" fill="#c22790"/><rect class="c" x="153" y="214" fill="#c12690"/><rect class="c" x="156" y="214" fill="#c02491"/><rect class="c" x="159" y="214" fill="#bf2393"/><rect class="c" x="162" y="214" fill="#bf2393"/><rect class="c" x="165" y="214" fill="#bd2196"/><rect class="c" x="168" y="214" fill="#ba1f9b"/><rect class="c" x="171" y="214" fill="#b71e9c"/><rect class="c" x="174" y="214" fill="#b21ca1"/><rect class="c" x="177" y="214" fill="#ab1aa2"/><rect class="c" x="180" y="214" fill="#a018a5"/><rect class="c" x="183" y="214" fill="#8b15a7"/><rect class="c" x="186" y="214" fill="#6c11a7"/><rect class="c" x="189" y="214" fill="#550ea6"/><rect class="c" x="192" y="214" fill="#500ea6"/><rect class="c" x="195" y="214" fill="#4e0da5"/><rect class="c" x="198" y="214" fill="#4c0da5"/><rect class="c" x="201" y="214" fill="#490ca4"/><rect class="c" x="204" y="214" fill="#470ca4"/><rect class="c" x="207" y="214" fill="#460ca4"/><rect class="c" x="210" y="214" fill="#450ca4"/><rect class="c" x="213" y="214" fill="#450ca4"/><rect class="c" x="216" y="214" fill="#450ca4"/><rect class="c" x="12" y="217" fill="#5a0eaa"/><rect class="c" x="15" y="217" fill="#5a0eaa"/><rect class="c" x="18" y="217" fill="#5a0eaa"/><rect class="c" x="21" y="217" fill="#600fab"/><rect class="c" x="24" y="217" fill="#6e10ad"/><rect class="c" x="27" y="217" fill="#7c12af"/><rect class="c" x="30" y="217" fill="#8814b0"/><rect class="c" x="33" y="217" fill="#9516ae"/><rect class="c" x="36" y="217" fill="#a017ad"/><rect class="c" x="39" y="217" fill="#ab19ab"/><rect class="c" x="42" y="217" fill="#b11ca7"/><rect class="c" x="45" y="217" fill="#b81ea3"/><rect class="c" x="48" y="217" fill="#bf219d"/><rect class="c" x="51" y="217" fill="#c72693"/><rect class="c" x="54" y="217" fill="#cc298c"/><rect class="c" x="57" y="217" fill="#d42d82"/><rect class="c" x="60" y="217" fill="#d93476"/><rect class="c" x="63" y="217" fill="#dd3b68"/><rect class="c" x="66" y="217" fill="#e24259"/><rect class="c" x="69" y="217" fill="#e54950"/><rect class="c" x="72" y="217" fill="#e85147"/><rect class="c" x="75" y="217" fill="#eb5c3c"/><rect class="c" x="78" y="217" fill="#ed6334"/><rect class="c" x="81" y="217" fill="#ef682d"/><rect class="c" x="84" y="217" fill="#ef692b"/><rect class="c" x="87" y="217" fill="#ef6928"/><rect class="c" x="90" y="217" fill="#ef6a26"/><rect class="c" x="93" y="217" fill="#ef6b26"/><rect class="c" x="96" y="217" fill="#ef6828"/><rect class="c" x="99" y="217" fill="#ed622b"/><rect class="c" x="102" y="217" fill="#ec5e2e"/><rect class="c" x="105" y="217" fill="#eb5b31"/><rect class="c" x="108" y="217" fill="#ea5733"/><rect class="c" x="111" y="217" fill="#e95335"/><rect class="c" x="114" y="217" fill="#eb5c31"/><rect class="c" x="117" y="217" fill="#ec602f"/><rect class="c" x="120" y="217" fill="#ec5f31"/><rect class="c" x="123" y="217" fill="#eb5b35"/><rect class="c" x="126" y="217" fill="#ea563c"/><rect class="c" x="129" y="217" fill="#e74f48"/><rect class="c" x="132" y="217" fill="#e34755"/><rect class="c" x="135" y="217" fill="#de4065"/><rect class="c" x="138" y="217" fill="#d63875"/><rect class="c" x="141" y="217" fill="#ca2a8a"/><rect class="c" x="144" y="217" fill="#be2396"/><rect class="c" x="147" y="217" fill="#b91f9d"/><rect class="c" x="150" y="217" fill="#b61d9f"/><rect class="c" x="153" y="217" fill="#b41c9f"/><rect class="c" x="156" y="217" fill="#b61c9f"/><rect class="c" x="159" y="217" fill="#ba1d9e"/><rect class="c" x="162" y="217" fill="#ba1d9e"/><rect class="c" x="165" y="217" fill="#ba1d9d"/><rect class="c" x="168" y="217" fill="#b71c9f"/><rect class="c" x="171" y="217" fill="#b41ba1"/><rect class="c" x="174" y="217" fill="#ae1aa4"/><rect class="c" x="177" y="217" fill="#a618a5"/><rect class="c" x="180" y="217" fill="#9a17a6"/><rect class="c" x="183" y="217" fill="#8b14a7"/><rect class="c" x="186" y="217" fill="#7111a7"/><rect class="c" x="189" y="217" fill="#5c0fa6"/><rect class="c" x="192" y="217" fill="#520ea6"/><rect class="c" x="195" y="217" fill="#500da5"/><rect class="c" x="198" y="217" fill="#4d0da5"/><rect class="c" x="201" y="217" fill="#4a0ca4"/><rect class="c" x="204" y="217" fill="#490ca4"/><rect class="c" x="207" y="217" fill="#480ca4"/><rect class="c" x="210" y="217" fill="#470ca4"/><rect class="c" x="213" y="217" fill="#460ca4"/><rect class="c" x="216" y="217" fill="#460ca4"/><rect class="c" x="12" y="220" fill="#590eaa"/><rect class="c" x="15" y="220" fill="#590eaa"/><rect class="c" x="18" y="220" fill="#5b0eaa"/><rect class="c" x="21" y="220" fill="#600fab"/><rect class="c" x="24" y="220" fill="#6a10ac"/><rect class="c" x="27" y="220" fill="#7611ae"/><rect class="c" x="30" y="220" fill="#8113af"/><rect class="c" x="33" y="220" fill="#8814af"/><rect class="c" x="36" y="220" fill="#9015af"/><rect class="c" x="39" y="220" fill="#9716ae"/><rect class="c" x="42" y="220" fill="#9d17ad"/><rect class="c" x="45" y="220" fill="#a318ac"/><rect class="c" x="48" y="220" fill="#a91aa9"/><rect class="c" x="51" y="220" fill="#b01ba5"/><rect class="c" x="54" y="220" fill="#b51ca2"/><rect class="c" x="57" y="220" fill="#c01f9b"/><rect class="c" x="60" y="220" fill="#cc2392"/><rect class="c" x="63" y="220" fill="#d12789"/><rect class="c" x="66" y="220" fill="#d72c7e"/><rect class="c" x="69" y="220" fill="#dc3272"/><rect class="c" x="72" y="220" fill="#e03766"/><rect class="c" x="75" y="220" fill="#e43e5a"/><rect class="c" x="78" y="220" fill="#e8494b"/><rect class="c" x="81" y="220" fill="#ea523e"/><rect class="c" x="84" y="220" fill="#ec5834"/><rect class="c" x="87" y="220" fill="#ec5932"/><rect class="c" x="90" y="220" fill="#ec5931"/><rect class="c" x="93" y="220" fill="#ec5931"/><rect class="c" x="96" y="220" fill="#ec5832"/><rect class="c" x="99" y="220" fill="#eb5435"/><rect class="c" x="102" y="220" fill="#ea5238"/><rect class="c" x="105" y="220" fill="#ea503a"/><rect class="c" x="108" y="220" fill="#e94e3c"/><rect class="c" x="111" y="220" fill="#e84b3d"/><rect class="c" x="114" y="220" fill="#e94e3c"/><rect class="c" x="117" y="220" fill="#e9503c"/><rect class="c" x="120" y="220" fill="#e9513d"/><rect class="c" x="123" y="220" fill="#e84d43"/><rect class="c" x="126" y="220" fill="#e5474d"/><rect class="c" x="129" y="220" fill="#e24158"/><rect class="c" x="132" y="220" fill="#de3969"/><rect class="c" x="135" y="220" fill="#d73278"/><rect class="c" x="138" y="220" fill="#ce2b86"/><rect class="c" x="141" y="220" fill="#bc2591"/><rect class="c" x="144" y="220" fill="#b11e9c"/><rect class="c" x="147" y="220" fill="#a91aa2"/><rect class="c" x="150" y="220" fill="#ad19a3"/><rect class="c" x="153" y="220" fill="#ac19a3"/><rect class="c" x="156" y="220" fill="#b01aa1"/><rect class="c" x="159" y="220" fill="#b61c9f"/><rect class="c" x="162" y="220" fill="#bc1d9c"/><rect class="c" x="165" y="220" fill="#bc1d9c"/><rect class="c" x="168" y="220" fill="#ba1d9c"/><rect class="c" x="171" y="220" fill="#b71c9f"/><rect class="c" x="174" y="220" fill="#b11aa2"/><rect class="c" x="177" y="220" fill="#a618a6"/><rect class="c" x="180" y="220" fill="#9b16a7"/><rect class="c" x="183" y="220" fill="#8914a7"/><rect class="c" x="186" y="220" fill="#7311a7"/><rect class="c" x="189" y="220" fill="#600fa6"/><rect class="c" x="192" y="220" fill="#530ea6"/><rect class="c" x="195" y="220" fill="#4f0da5"/><rect class="c" x="198" y="220" fill="#4c0da5"/><rect class="c" x="201" y="220" fill="#4a0ca4"/><rect class="c" x="204" y="220" fill="#4a0ca4"/><rect class="c" x="207" y="220" fill="#4b0da5"/><rect class="c" x="210" y="220" fill="#4b0da5"/><rect class="c" x="213" y="220" fill="#4c0da5"/><rect class="c" x="216" y="220" fill="#4b0da5"/><rect class="c" x="12" y="223" fill="#580eaa"/><rect class="c" x="15" y="223" fill="#580eaa"/><rect class="c" x="18" y="223" fill="#5b0eaa"/><rect class="c" x="21" y="223" fill="#610fab"/><rect class="c" x="24" y="223" fill="#6b10ac"/><rect class="c" x="27" y="223" fill="#7511ad"/><rect class="c" x="30" y="223" fill="#7d12ae"/><rect class="c" x="33" y="223" fill="#8513ae"/><rect class="c" x="36" y="223" fill="#8a14ae"/><rect class="c" x="39" y="223" fill="#9015ae"/><rect class="c" x="42" y="223" fill="#9516ad"/><rect class="c" x="45" y="223" fill="#9b17ac"/><rect class="c" x="48" y="223" fill="#a018ac"/><rect class="c" x="51" y="223" fill="#a419a9"/><rect class="c" x="54" y="223" fill="#a619a7"/><rect class="c" x="57" y="223" fill="#af1ba2"/><rect class="c" x="60" y="223" fill="#c02098"/><rect class="c" x="63" y="223" fill="#cd258e"/><rect class="c" x="66" y="223" fill="#d32a83"/><rect class="c" x="69" y="223" fill="#da3075"/><rect class="c" x="72" y="223" fill="#df3768"/><rect class="c" x="75" y="223" fill="#e33e5a"/><rect class="c" x="78" y="223" fill="#e7454c"/><rect class="c" x="81" y="223" fill="#ea4d40"/><rect class="c" x="84" y="223" fill="#ea503a"/><rect class="c" x="87" y="223" fill="#eb5138"/><rect class="c" x="90" y="223" fill="#eb5138"/><rect class="c" x="93" y="223" fill="#eb5039"/><rect class="c" x="96" y="223" fill="#eb503a"/><rect class="c" x="99" y="223" fill="#ea4f3b"/><rect class="c" x="102" y="223" fill="#ea4d3d"/><rect class="c" x="105" y="223" fill="#e94c3f"/><rect class="c" x="108" y="223" fill="#e94b41"/><rect class="c" x="111" y="223" fill="#e84a42"/><rect class="c" x="114" y="223" fill="#e84845"/><rect class="c" x="117" y="223" fill="#e84a45"/><rect class="c" x="120" y="223" fill="#e64948"/><rect class="c" x="123" y="223" fill="#e4464e"/><rect class="c" x="126" y="223" fill="#e24058"/><rect class="c" x="129" y="223" fill="#dd3967"/><rect class="c" x="132" y="223" fill="#d83275"/><rect class="c" x="135" y="223" fill="#d12a84"/><rect class="c" x="138" y="223" fill="#c62491"/><rect class="c" x="141" y="223" fill="#b41e9b"/><rect class="c" x="144" y="223" fill="#a01aa1"/><rect class="c" x="147" y="223" fill="#9516a7"/><rect class="c" x="150" y="223" fill="#9a16a7"/><rect class="c" x="153" y="223" fill="#a517a6"/><rect class="c" x="156" y="223" fill="#a918a4"/><rect class="c" x="159" y="223" fill="#b21ba0"/><rect class="c" x="162" y="223" fill="#bc1d9b"/><rect class="c" x="165" y="223" fill="#be1d9a"/><rect class="c" x="168" y="223" fill="#bc1d9b"/><rect class="c" x="171" y="223" fill="#ba1c9d"/><rect class="c" x="174" y="223" fill="#b51b9f"/><rect class="c" x="177" y="223" fill="#ab19a3"/><rect class="c" x="180" y="223" fill="#9e17a7"/><rect class="c" x="183" y="223" fill="#8b14a7"/><rect class="c" x="186" y="223" fill="#7111a7"/><rect class="c" x="189" y="223" fill="#5e0fa6"/><rect class="c" x="192" y="223" fill="#540da5"/><rect class="c" x="195" y="223" fill="#4f0da5"/><rect class="c" x="198" y="223" fill="#4b0ca4"/><rect class="c" x="201" y="223" fill="#4a0ca4"/><rect class="c" x="204" y="223" fill="#4b0da5"/><rect class="c" x="207" y="223" fill="#4d0da5"/><rect class="c" x="210" y="223" fill="#4f0ea6"/><rect class="c" x="213" y="223" fill="#4e0ea6"/><rect class="c" x="216" y="223" fill="#500ea6"/><rect class="c" x="12" y="226" fill="#580eaa"/><rect class="c" x="15" y="226" fill="#590eaa"/><rect class="c" x="18" y="226" fill="#5b0eaa"/><rect class="c" x="21" y="226" fill="#620fab"/><rect class="c" x="24" y="226" fill="#6c10ac"/><rect class="c" x="27" y="226" fill="#7511ad"/><rect class="c" x="30" y="226" fill="#7d12ae"/><rect class="c" x="33" y="226" fill="#8213ae"/><rect class="c" x="36" y="226" fill="#8814ae"/><rect class="c" x="39" y="226" fill="#8d14ae"/><rect class="c" x="42" y="226" fill="#9215ad"/><rect class="c" x="45" y="226" fill="#9817ad"/><rect class="c" x="48" y="226" fill="#9c18ac"/><rect class="c" x="51" y="226" fill="#9f18ab"/><rect class="c" x="54" y="226" fill="#a017aa"/><rect class="c" x="57" y="226" fill="#a91aa5"/><rect class="c" x="60" y="226" fill="#b91e9b"/><rect class="c" x="63" y="226" fill="#c82491"/><rect class="c" x="66" y="226" fill="#d22984"/><rect class="c" x="69" y="226" fill="#d93076"/><rect class="c" x="72" y="226" fill="#de3767"/><rect class="c" x="75" y="226" fill="#e33e59"/><rect class="c" x="78" y="226" fill="#e7454b"/><rect class="c" x="81" y="226" fill="#e94b40"/><rect class="c" x="84" y="226" fill="#ea4d3a"/><rect class="c" x="87" y="226" fill="#ea4e39"/><rect class="c" x="90" y="226" fill="#ea4d3a"/><rect class="c" x="93" y="226" fill="#ea4d3b"/><rect class="c" x="96" y="226" fill="#ea4d3c"/><rect class="c" x="99" y="226" fill="#ea4c3d"/><rect class="c" x="102" y="226" fill="#ea4b3e"/><rect class="c" x="105" y="226" fill="#e94b40"/><rect class="c" x="108" y="226" fill="#e94a42"/><rect class="c" x="111" y="226" fill="#e84944"/><rect class="c" x="114" y="226" fill="#e74748"/><rect class="c" x="117" y="226" fill="#e6464c"/><rect class="c" x="120" y="226" fill="#e5444e"/><rect class="c" x="123" y="226" fill="#e34254"/><rect class="c" x="126" y="226" fill="#df3c60"/><rect class="c" x="129" y="226" fill="#da356e"/><rect class="c" x="132" y="226" fill="#d42d7d"/><rect class="c" x="135" y="226" fill="#cc268b"/><rect class="c" x="138" y="226" fill="#c22196"/><rect class="c" x="141" y="226" fill="#b11c9f"/><rect class="c" x="144" y="226" fill="#9c17a5"/><rect class="c" x="147" y="226" fill="#8e15a8"/><rect class="c" x="150" y="226" fill="#9115a8"/><rect class="c" x="153" y="226" fill="#9c16a8"/><rect class="c" x="156" y="226" fill="#a517a6"/><rect class="c" x="159" y="226" fill="#af1aa1"/><rect class="c" x="162" y="226" fill="#b81c9c"/><rect class="c" x="165" y="226" fill="#bd1d9a"/><rect class="c" x="168" y="226" fill="#bb1d9b"/><rect class="c" x="171" y="226" fill="#ba1c9c"/><rect class="c" x="174" y="226" fill="#b51b9f"/><rect class="c" x="177" y="226" fill="#aa19a2"/><rect class="c" x="180" y="226" fill="#9f17a6"/><rect class="c" x="183" y="226" fill="#8b14a8"/><rect class="c" x="186" y="226" fill="#7011a7"/><rect class="c" x="189" y="226" fill="#5f0fa6"/><rect class="c" x="192" y="226" fill="#570ea6"/><rect class="c" x="195" y="226" fill="#510da5"/><rect class="c" x="198" y="226" fill="#4d0da5"/><rect class="c" x="201" y="226" fill="#4d0da5"/><rect class="c" x="204" y="226" fill="#4e0da5"/><rect class="c" x="207" y="226" fill="#500ea6"/><rect class="c" x="210" y="226" fill="#510ea6"/><rect class="c" x="213" y="226" fill="#500ea6"/><rect class="c" x="216" y="226" fill="#500ea6"/><rect class="c" x="12" y="229" fill="#580eaa"/><rect class="c" x="15" y="229" fill="#590eaa"/><rect class="c" x="18" y="229" fill="#5d0eaa"/><rect class="c" x="21" y="229" fill="#620fab"/><rect class="c" x="24" y="229" fill="#6c10ac"/><rect class="c" x="27" y="229" fill="#7511ad"/><rect class="c" x="30" y="229" fill="#7d12ae"/><rect class="c" x="33" y="229" fill="#8213ae"/><rect class="c" x="36" y="229" fill="#8814ae"/><rect class="c" x="39" y="229" fill="#8d14ae"/><rect class="c" x="42" y="229" fill="#9215ad"/><rect class="c" x="45" y="229" fill="#9817ad"/><rect class="c" x="48" y="229" fill="#9c18ac"/><rect class="c" x="51" y="229" fill="#9f18ab"/><rect class="c" x="54" y="229" fill="#a017aa"/><rect class="c" x="57" y="229" fill="#a91aa5"/><rect class="c" x="60" y="229" fill="#ba1f9b"/><rect class="c" x="63" y="229" fill="#c82490"/><rect class="c" x="66" y="229" fill="#d22a84"/><rect class="c" x="69" y="229" fill="#d93076"/><rect class="c" x="72" y="229" fill="#df3866"/><rect class="c" x="75" y="229" fill="#e33f57"/><rect class="c" x="78" y="229" fill="#e74649"/><rect class="c" x="81" y="229" fill="#e94c3d"/><rect class="c" x="84" y="229" fill="#ea4e38"/><rect class="c" x="87" y="229" fill="#ea4e38"/><rect class="c" x="90" y="229" fill="#ea4e38"/><rect class="c" x="93" y="229" fill="#ea4d39"/><rect class="c" x="96" y="229" fill="#ea4d3a"/><rect class="c" x="99" y="229" fill="#ea4c3b"/><rect class="c" x="102" y="229" fill="#ea4c3d"/><rect class="c" x="105" y="229" fill="#e94b3e"/><rect class="c" x="108" y="229" fill="#e94a40"/><rect class="c" x="111" y="229" fill="#e84942"/><rect class="c" x="114" y="229" fill="#e74747"/><rect class="c" x="117" y="229" fill="#e6444e"/><rect class="c" x="120" y="229" fill="#e44351"/><rect class="c" x="123" y="229" fill="#e24156"/><rect class="c" x="126" y="229" fill="#dd3b63"/><rect class="c" x="129" y="229" fill="#d83372"/><rect class="c" x="132" y="229" fill="#d32c81"/><rect class="c" x="135" y="229" fill="#ca258e"/><rect class="c" x="138" y="229" fill="#c02098"/><rect class="c" x="141" y="229" fill="#b01c9f"/><rect class="c" x="144" y="229" fill="#9c17a5"/><rect class="c" x="147" y="229" fill="#8e15a8"/><rect class="c" x="150" y="229" fill="#9115a8"/><rect class="c" x="153" y="229" fill="#9b16a8"/><rect class="c" x="156" y="229" fill="#a217a7"/><rect class="c" x="159" y="229" fill="#ab19a3"/><rect class="c" x="162" y="229" fill="#b51b9e"/><rect class="c" x="165" y="229" fill="#b91c9c"/><rect class="c" x="168" y="229" fill="#b81c9d"/><rect class="c" x="171" y="229" fill="#b71b9e"/><rect class="c" x="174" y="229" fill="#b21aa0"/><rect class="c" x="177" y="229" fill="#a718a4"/><rect class="c" x="180" y="229" fill="#9c16a7"/><rect class="c" x="183" y="229" fill="#8914a8"/><rect class="c" x="186" y="229" fill="#7111a7"/><rect class="c" x="189" y="229" fill="#610fa6"/><rect class="c" x="192" y="229" fill="#5a0ea6"/><rect class="c" x="195" y="229" fill="#550da5"/><rect class="c" x="198" y="229" fill="#510da5"/><rect class="c" x="201" y="229" fill="#500da5"/><rect class="c" x="204" y="229" fill="#520da5"/><rect class="c" x="207" y="229" fill="#530ea6"/><rect class="c" x="210" y="229" fill="#540ea6"/><rect class="c" x="213" y="229" fill="#510ea6"/><rect class="c" x="216" y="229" fill="#500ea6"/><rect class="c" x="12" y="232" fill="#5c0eaa"/><rect class="c" x="15" y="232" fill="#5a0eaa"/><rect class="c" x="18" y="232" fill="#5e0faa"/><rect class="c" x="21" y="232" fill="#640fab"/><rect class="c" x="24" y="232" fill="#6c10ac"/><rect class="c" x="27" y="232" fill="#7511ad"/><rect class="c" x="30" y="232" fill="#7d12ae"/><rect class="c" x="33" y="232" fill="#8213ae"/><rect class="c" x="36" y="232" fill="#8814ae"/><rect class="c" x="39" y="232" fill="#8d14ae"/><rect class="c" x="42" y="232" fill="#9215ad"/><rect class="c" x="45" y="232" fill="#9817ad"/><rect class="c" x="48" y="232" fill="#9c18ac"/><rect class="c" x="51" y="232" fill="#9f18ab"/><rect class="c" x="54" y="232" fill="#a017aa"/><rect class="c" x="57" y="232" fill="#a91aa5"/><rect class="c" x="60" y="232" fill="#bb1f9b"/><rect class="c" x="63" y="232" fill="#c82490"/><rect class="c" x="66" y="232" fill="#d22a84"/><rect class="c" x="69" y="232" fill="#d93175"/><rect class="c" x="72" y="232" fill="#df3965"/><rect class="c" x="75" y="232" fill="#e44155"/><rect class="c" x="78" y="232" fill="#e74746"/><rect class="c" x="81" y="232" fill="#e94c3b"/><rect class="c" x="84" y="232" fill="#ea4f36"/><rect class="c" x="87" y="232" fill="#ea4e36"/><rect class="c" x="90" y="232" fill="#ea4e37"/><rect class="c" x="93" y="232" fill="#ea4e37"/><rect class="c" x="96" y="232" fill="#ea4d38"/><rect class="c" x="99" y="232" fill="#ea4d39"/><rect class="c" x="102" y="232" fill="#ea4c3b"/><rect class="c" x="105" y="232" fill="#e94b3c"/><rect class="c" x="108" y="232" fill="#e94a3f"/><rect class="c" x="111" y="232" fill="#e84842"/><rect class="c" x="114" y="232" fill="#e74647"/><rect class="c" x="117" y="232" fill="#e5444f"/><rect class="c" x="120" y="232" fill="#e44253"/><rect class="c" x="123" y="232" fill="#e14059"/><rect class="c" x="126" y="232" fill="#dc3966"/><rect class="c" x="129" y="232" fill="#d73176"/><rect class="c" x="132" y="232" fill="#d12a84"/><rect class="c" x="135" y="232" fill="#c82491"/><rect class="c" x="138" y="232" fill="#bd1f9b"/><rect class="c" x="141" y="232" fill="#af1ba0"/><rect class="c" x="144" y="232" fill="#9c17a5"/><rect class="c" x="147" y="232" fill="#8e15a8"/><rect class="c" x="150" y="232" fill="#9015a8"/><rect class="c" x="153" y="232" fill="#9a16a8"/><rect class="c" x="156" y="232" fill="#a116a8"/><rect class="c" x="159" y="232" fill="#a718a5"/><rect class="c" x="162" y="232" fill="#b11aa0"/><rect class="c" x="165" y="232" fill="#b61b9e"/><rect class="c" x="168" y="232" fill="#b51b9e"/><rect class="c" x="171" y="232" fill="#b41b9f"/><rect class="c" x="174" y="232" fill="#af1aa2"/><rect class="c" x="177" y="232" fill="#a418a5"/><rect class="c" x="180" y="232" fill="#9a16a8"/><rect class="c" x="183" y="232" fill="#8713a8"/><rect class="c" x="186" y="232" fill="#7211a7"/><rect class="c" x="189" y="232" fill="#640fa7"/><rect class="c" x="192" y="232" fill="#5e0ea6"/><rect class="c" x="195" y="232" fill="#580ea6"/><rect class="c" x="198" y="232" fill="#540da5"/><rect class="c" x="201" y="232" fill="#540da5"/><rect class="c" x="204" y="232" fill="#550ea6"/><rect class="c" x="207" y="232" fill="#560ea6"/><rect class="c" x="210" y="232" fill="#560ea6"/><rect class="c" x="213" y="232" fill="#520ea6"/><rect class="c" x="216" y="232" fill="#500ea6"/><rect class="c" x="12" y="235" fill="#600eaa"/><rect class="c" x="15" y="235" fill="#5f0eaa"/><rect class="c" x="18" y="235" fill="#5f0faa"/><rect class="c" x="21" y="235" fill="#6510ab"/><rect class="c" x="24" y="235" fill="#6c10ac"/><rect class="c" x="27" y="235" fill="#7511ad"/><rect class="c" x="30" y="235" fill="#7d12ae"/><rect class="c" x="33" y="235" fill="#8213ae"/><rect class="c" x="36" y="235" fill="#8814ae"/><rect class="c" x="39" y="235" fill="#8d14ae"/><rect class="c" x="42" y="235" fill="#9215ad"/><rect class="c" x="45" y="235" fill="#9817ad"/><rect class="c" x="48" y="235" fill="#9c18ac"/><rect class="c" x="51" y="235" fill="#9f18ab"/><rect class="c" x="54" y="235" fill="#a017aa"/><rect class="c" x="57" y="235" fill="#aa1aa5"/><rect class="c" x="60" y="235" fill="#bb1f9a"/><rect class="c" x="63" y="235" fill="#c82490"/><rect class="c" x="66" y="235" fill="#d22a83"/><rect class="c" x="69" y="235" fill="#d93175"/><rect class="c" x="72" y="235" fill="#df3a63"/><rect class="c" x="75" y="235" fill="#e44253"/><rect class="c" x="78" y="235" fill="#e84844"/><rect class="c" x="81" y="235" fill="#ea4d39"/><rect class="c" x="84" y="235" fill="#ea4f35"/><rect class="c" x="87" y="235" fill="#ea4f35"/><rect class="c" x="90" y="235" fill="#ea4e35"/><rect class="c" x="93" y="235" fill="#ea4e36"/><rect class="c" x="96" y="235" fill="#ea4d36"/><rect class="c" x="99" y="235" fill="#ea4d38"/><rect class="c" x="102" y="235" fill="#ea4c39"/><rect class="c" x="105" y="235" fill="#e94b3b"/><rect class="c" x="108" y="235" fill="#e94a3e"/><rect class="c" x="111" y="235" fill="#e84841"/><rect class="c" x="114" y="235" fill="#e74646"/><rect class="c" x="117" y="235" fill="#e5434e"/><rect class="c" x="120" y="235" fill="#e34156"/><rect class="c" x="123" y="235" fill="#e13e5b"/><rect class="c" x="126" y="235" fill="#db3868"/><rect class="c" x="129" y="235" fill="#d52f79"/><rect class="c" x="132" y="235" fill="#cf2888"/><rect class="c" x="135" y="235" fill="#c62294"/><rect class="c" x="138" y="235" fill="#ba1e9c"/><rect class="c" x="141" y="235" fill="#ae1ba1"/><rect class="c" x="144" y="235" fill="#9c17a5"/><rect class="c" x="147" y="235" fill="#8e15a8"/><rect class="c" x="150" y="235" fill="#9015a8"/><rect class="c" x="153" y="235" fill="#9916a8"/><rect class="c" x="156" y="235" fill="#9f16a8"/><rect class="c" x="159" y="235" fill="#a517a7"/><rect class="c" x="162" y="235" fill="#ad19a2"/><rect class="c" x="165" y="235" fill="#b21ba0"/><rect class="c" x="168" y="235" fill="#b11ba0"/><rect class="c" x="171" y="235" fill="#b01aa1"/><rect class="c" x="174" y="235" fill="#ab19a3"/><rect class="c" x="177" y="235" fill="#a217a6"/><rect class="c" x="180" y="235" fill="#9816a8"/><rect class="c" x="183" y="235" fill="#8713a8"/><rect class="c" x="186" y="235" fill="#7311a7"/><rect class="c" x="189" y="235" fill="#670fa7"/><rect class="c" x="192" y="235" fill="#610ea6"/><rect class="c" x="195" y="235" fill="#5c0ea6"/><rect class="c" x="198" y="235" fill="#580da5"/><rect class="c" x="201" y="235" fill="#570ea6"/><rect class="c" x="204" y="235" fill="#580ea6"/><rect class="c" x="207" y="235" fill="#580ea6"/><rect class="c" x="210" y="235" fill="#570ea6"/><rect class="c" x="213" y="235" fill="#590ea6"/><rect class="c" x="216" y="235" fill="#560ea6"/><rect class="c" x="12" y="238" fill="#600eaa"/><rect class="c" x="15" y="238" fill="#5f0eaa"/><rect class="c" x="18" y="238" fill="#610faa"/><rect class="c" x="21" y="238" fill="#6710ab"/><rect class="c" x="24" y="238" fill="#6d11ac"/><rect class="c" x="27" y="238" fill="#7511ad"/><rect class="c" x="30" y="238" fill="#7d12ae"/><rect class="c" x="33" y="238" fill="#8213ae"/><rect class="c" x="36" y="238" fill="#8814ae"/><rect class="c" x="39" y="238" fill="#8d14ae"/><rect class="c" x="42" y="238" fill="#9215ad"/><rect class="c" x="45" y="238" fill="#9817ad"/><rect class="c" x="48" y="238" fill="#9c18ac"/><rect class="c" x="51" y="238" fill="#9f18ab"/><rect class="c" x="54" y="238" fill="#a017aa"/><rect class="c" x="57" y="238" fill="#aa1aa5"/><rect class="c" x="60" y="238" fill="#bb1f9a"/><rect class="c" x="63" y="238" fill="#c8248f"/><rect class="c" x="66" y="238" fill="#d12a83"/><rect class="c" x="69" y="238" fill="#d93274"/><rect class="c" x="72" y="238" fill="#df3a62"/><rect class="c" x="75" y="238" fill="#e44351"/><rect class="c" x="78" y="238" fill="#e84942"/><rect class="c" x="81" y="238" fill="#ea4e37"/><rect class="c" x="84" y="238" fill="#ea4f33"/><rect class="c" x="87" y="238" fill="#ea4f33"/><rect class="c" x="90" y="238" fill="#ea4f34"/><rect class="c" x="93" y="238" fill="#ea4e34"/><rect class="c" x="96" y="238" fill="#ea4e35"/><rect class="c" x="99" y="238" fill="#ea4d36"/><rect class="c" x="102" y="238" fill="#ea4c38"/><rect class="c" x="105" y="238" fill="#e94b3a"/><rect class="c" x="108" y="238" fill="#e9493d"/><rect class="c" x="111" y="238" fill="#e84840"/><rect class="c" x="114" y="238" fill="#e74646"/><rect class="c" x="117" y="238" fill="#e5434e"/><rect class="c" x="120" y="238" fill="#e34057"/><rect class="c" x="123" y="238" fill="#e03d5e"/><rect class="c" x="126" y="238" fill="#db376b"/><rect class="c" x="129" y="238" fill="#d42e7c"/><rect class="c" x="132" y="238" fill="#cd278b"/><rect class="c" x="135" y="238" fill="#c32196"/><rect class="c" x="138" y="238" fill="#b71d9e"/><rect class="c" x="141" y="238" fill="#ab1aa2"/><rect class="c" x="144" y="238" fill="#9c17a5"/><rect class="c" x="147" y="238" fill="#8e15a8"/><rect class="c" x="150" y="238" fill="#8f15a8"/><rect class="c" x="153" y="238" fill="#9816a8"/><rect class="c" x="156" y="238" fill="#9e16a8"/><rect class="c" x="159" y="238" fill="#a317a7"/><rect class="c" x="162" y="238" fill="#aa18a5"/><rect class="c" x="165" y="238" fill="#ae1aa2"/><rect class="c" x="168" y="238" fill="#ae1aa2"/><rect class="c" x="171" y="238" fill="#ad1aa2"/><rect class="c" x="174" y="238" fill="#a818a4"/><rect class="c" x="177" y="238" fill="#9f17a6"/><rect class="c" x="180" y="238" fill="#9615a8"/><rect class="c" x="183" y="238" fill="#8713a8"/><rect class="c" x="186" y="238" fill="#7511a7"/><rect class="c" x="189" y="238" fill="#6a10a7"/><rect class="c" x="192" y="238" fill="#640fa7"/><rect class="c" x="195" y="238" fill="#600ea6"/><rect class="c" x="198" y="238" fill="#5c0ea6"/><rect class="c" x="201" y="238" fill="#5a0ea6"/><rect class="c" x="204" y="238" fill="#5b0ea6"/><rect class="c" x="207" y="238" fill="#5a0ea6"/><rect class="c" x="210" y="238" fill="#590ea6"/><rect class="c" x="213" y="238" fill="#5a0ea6"/><rect class="c" x="216" y="238" fill="#5c0ea6"/><rect class="c" x="12" y="241" fill="#600eaa"/><rect class="c" x="15" y="241" fill="#600eaa"/><rect class="c" x="18" y="241" fill="#620faa"/><rect class="c" x="21" y="241" fill="#6810ab"/><rect class="c" x="24" y="241" fill="#6f11ac"/><rect class="c" x="27" y="241" fill="#7612ad"/><rect class="c" x="30" y="241" fill="#7d12ae"/><rect class="c" x="33" y="241" fill="#8213ae"/><rect class="c" x="36" y="241" fill="#8814ae"/><rect class="c" x="39" y="241" fill="#8d14ae"/><rect class="c" x="42" y="241" fill="#9215ad"/><rect class="c" x="45" y="241" fill="#9817ad"/><rect class="c" x="48" y="241" fill="#9c18ac"/><rect class="c" x="51" y="241" fill="#9f18ab"/><rect class="c" x="54" y="241" fill="#a017aa"/><rect class="c" x="57" y="241" fill="#aa1aa5"/><rect class="c" x="60" y="241" fill="#bb1f9a"/><rect class="c" x="63" y="241" fill="#c8258e"/><rect class="c" x="66" y="241" fill="#d12b82"/><rect class="c" x="69" y="241" fill="#d93274"/><rect class="c" x="72" y="241" fill="#df3b61"/><rect class="c" x="75" y="241" fill="#e4444f"/><rect class="c" x="78" y="241" fill="#e84a40"/><rect class="c" x="81" y="241" fill="#ea4e35"/><rect class="c" x="84" y="241" fill="#ea5032"/><rect class="c" x="87" y="241" fill="#ea4f32"/><rect class="c" x="90" y="241" fill="#ea4f32"/><rect class="c" x="93" y="241" fill="#ea4e33"/><rect class="c" x="96" y="241" fill="#ea4e33"/><rect class="c" x="99" y="241" fill="#ea4d34"/><rect class="c" x="102" y="241" fill="#ea4c36"/><rect class="c" x="105" y="241" fill="#e94b39"/><rect class="c" x="108" y="241" fill="#e9493d"/><rect class="c" x="111" y="241" fill="#e84840"/><rect class="c" x="114" y="241" fill="#e74645"/><rect class="c" x="117" y="241" fill="#e5434d"/><rect class="c" x="120" y="241" fill="#e34056"/><rect class="c" x="123" y="241" fill="#e03c60"/><rect class="c" x="126" y="241" fill="#da366d"/><rect class="c" x="129" y="241" fill="#d32c7f"/><rect class="c" x="132" y="241" fill="#ca258e"/><rect class="c" x="135" y="241" fill="#c02098"/><rect class="c" x="138" y="241" fill="#b41ca0"/><rect class="c" x="141" y="241" fill="#a819a4"/><rect class="c" x="144" y="241" fill="#9b17a6"/><rect class="c" x="147" y="241" fill="#8e15a8"/><rect class="c" x="150" y="241" fill="#8e15a8"/><rect class="c" x="153" y="241" fill="#9716a8"/><rect class="c" x="156" y="241" fill="#9d16a8"/><rect class="c" x="159" y="241" fill="#a217a7"/><rect class="c" x="162" y="241" fill="#a718a6"/><rect class="c" x="165" y="241" fill="#ab19a4"/><rect class="c" x="168" y="241" fill="#aa19a4"/><rect class="c" x="171" y="241" fill="#aa19a4"/><rect class="c" x="174" y="241" fill="#a618a5"/><rect class="c" x="177" y="241" fill="#9d16a7"/><rect class="c" x="180" y="241" fill="#9415a8"/><rect class="c" x="183" y="241" fill="#8813a8"/><rect class="c" x="186" y="241" fill="#7811a8"/><rect class="c" x="189" y="241" fill="#6e10a8"/><rect class="c" x="192" y="241" fill="#680fa7"/><rect class="c" x="195" y="241" fill="#630ea6"/><rect class="c" x="198" y="241" fill="#5f0ea6"/><rect class="c" x="201" y="241" fill="#5d0ea6"/><rect class="c" x="204" y="241" fill="#5d0ea6"/><rect class="c" x="207" y="241" fill="#5c0ea6"/><rect class="c" x="210" y="241" fill="#5b0ea6"/><rect class="c" x="213" y="241" fill="#5b0ea6"/><rect class="c" x="216" y="241" fill="#5c0ea6"/><rect class="c" x="12" y="244" fill="#600eaa"/><rect class="c" x="15" y="244" fill="#600eaa"/><rect class="c" x="18" y="244" fill="#630faa"/><rect class="c" x="21" y="244" fill="#6910ab"/><rect class="c" x="24" y="244" fill="#7011ac"/><rect class="c" x="27" y="244" fill="#7612ad"/><rect class="c" x="30" y="244" fill="#7d12ae"/><rect class="c" x="33" y="244" fill="#8213ae"/><rect class="c" x="36" y="244" fill="#8814ae"/><rect class="c" x="39" y="244" fill="#8d14ae"/><rect class="c" x="42" y="244" fill="#9215ad"/><rect class="c" x="45" y="244" fill="#9817ad"/><rect class="c" x="48" y="244" fill="#9c18ac"/><rect class="c" x="51" y="244" fill="#9f18ab"/><rect class="c" x="54" y="244" fill="#a017aa"/><rect class="c" x="57" y="244" fill="#aa1aa5"/><rect class="c" x="60" y="244" fill="#bb1f99"/><rect class="c" x="63" y="244" fill="#c8258e"/><rect class="c" x="66" y="244" fill="#d12b82"/><rect class="c" x="69" y="244" fill="#d93373"/><rect class="c" x="72" y="244" fill="#df3c60"/><rect class="c" x="75" y="244" fill="#e4444e"/><rect class="c" x="78" y="244" fill="#e84b3f"/><rect class="c" x="81" y="244" fill="#ea4f34"/><rect class="c" x="84" y="244" fill="#ea5031"/><rect class="c" x="87" y="244" fill="#ea4f31"/><rect class="c" x="90" y="244" fill="#ea4f31"/><rect class="c" x="93" y="244" fill="#ea4e32"/><rect class="c" x="96" y="244" fill="#ea4e32"/><rect class="c" x="99" y="244" fill="#ea4d33"/><rect class="c" x="102" y="244" fill="#ea4c36"/><rect class="c" x="105" y="244" fill="#e94a39"/><rect class="c" x="108" y="244" fill="#e9493c"/><rect class="c" x="111" y="244" fill="#e8473f"/><rect class="c" x="114" y="244" fill="#e74545"/><rect class="c" x="117" y="244" fill="#e5424d"/><rect class="c" x="120" y="244" fill="#e33f56"/><rect class="c" x="123" y="244" fill="#df3b60"/><rect class="c" x="126" y="244" fill="#da356f"/><rect class="c" x="129" y="244" fill="#d22c81"/><rect class="c" x="132" y="244" fill="#c92490"/><rect class="c" x="135" y="244" fill="#be1f9a"/><rect class="c" x="138" y="244" fill="#b21ba1"/><rect class="c" x="141" y="244" fill="#a518a6"/><rect class="c" x="144" y="244" fill="#9917a7"/><rect class="c" x="147" y="244" fill="#8e15a8"/><rect class="c" x="150" y="244" fill="#8e15a8"/><rect class="c" x="153" y="244" fill="#9616a8"/><rect class="c" x="156" y="244" fill="#9c16a8"/><rect class="c" x="159" y="244" fill="#a117a7"/><rect class="c" x="162" y="244" fill="#a618a6"/><rect class="c" x="165" y="244" fill="#a818a6"/><rect class="c" x="168" y="244" fill="#a818a6"/><rect class="c" x="171" y="244" fill="#a718a6"/><rect class="c" x="174" y="244" fill="#a318a6"/><rect class="c" x="177" y="244" fill="#9b16a7"/><rect class="c" x="180" y="244" fill="#9215a8"/><rect class="c" x="183" y="244" fill="#8813a8"/><rect class="c" x="186" y="244" fill="#7a11a8"/><rect class="c" x="189" y="244" fill="#7010a8"/><rect class="c" x="192" y="244" fill="#6a0fa7"/><rect class="c" x="195" y="244" fill="#650fa7"/><rect class="c" x="198" y="244" fill="#610ea6"/><rect class="c" x="201" y="244" fill="#5f0ea6"/><rect class="c" x="204" y="244" fill="#5e0ea6"/><rect class="c" x="207" y="244" fill="#5d0ea6"/><rect class="c" x="210" y="244" fill="#5c0ea6"/><rect class="c" x="213" y="244" fill="#5c0ea6"/><rect class="c" x="216" y="244" fill="#5c0ea6"/><rect class="c" x="12" y="247" fill="#600eaa"/><rect class="c" x="15" y="247" fill="#610eaa"/><rect class="c" x="18" y="247" fill="#640faa"/><rect class="c" x="21" y="247" fill="#6a10ab"/><rect class="c" x="24" y="247" fill="#7011ac"/><rect class="c" x="27" y="247" fill="#7712ad"/><rect class="c" x="30" y="247" fill="#7d12ae"/><rect class="c" x="33" y="247" fill="#8213ae"/><rect class="c" x="36" y="247" fill="#8814ae"/><rect class="c" x="39" y="247" fill="#8d14ae"/><rect class="c" x="42" y="247" fill="#9215ad"/><rect class="c" x="45" y="247" fill="#9817ad"/><rect class="c" x="48" y="247" fill="#9c18ac"/><rect class="c" x="51" y="247" fill="#9f18ab"/><rect class="c" x="54" y="247" fill="#a017aa"/><rect class="c" x="57" y="247" fill="#aa1aa5"/><rect class="c" x="60" y="247" fill="#bc2099"/><rect class="c" x="63" y="247" fill="#c9268d"/><rect class="c" x="66" y="247" fill="#d22c81"/><rect class="c" x="69" y="247" fill="#d93372"/><rect class="c" x="72" y="247" fill="#e03d5f"/><rect class="c" x="75" y="247" fill="#e4454e"/><rect class="c" x="78" y="247" fill="#e84b3e"/><rect class="c" x="81" y="247" fill="#ea4f34"/><rect class="c" x="84" y="247" fill="#ea4f31"/><rect class="c" x="87" y="247" fill="#ea4f31"/><rect class="c" x="90" y="247" fill="#ea4e32"/><rect class="c" x="93" y="247" fill="#ea4e32"/><rect class="c" x="96" y="247" fill="#ea4e32"/><rect class="c" x="99" y="247" fill="#ea4d33"/><rect class="c" x="102" y="247" fill="#ea4c36"/><rect class="c" x="105" y="247" fill="#e94a39"/><rect class="c" x="108" y="247" fill="#e9493c"/><rect class="c" x="111" y="247" fill="#e8473f"/><rect class="c" x="114" y="247" fill="#e74545"/><rect class="c" x="117" y="247" fill="#e5424d"/><rect class="c" x="120" y="247" fill="#e23f56"/><rect class="c" x="123" y="247" fill="#df3b61"/><rect class="c" x="126" y="247" fill="#d93470"/><rect class="c" x="129" y="247" fill="#d22b82"/><rect class="c" x="132" y="247" fill="#c82491"/><rect class="c" x="135" y="247" fill="#bd1f9b"/><rect class="c" x="138" y="247" fill="#b01ba2"/><rect class="c" x="141" y="247" fill="#a418a6"/><rect class="c" x="144" y="247" fill="#9816a8"/><rect class="c" x="147" y="247" fill="#8e15a8"/><rect class="c" x="150" y="247" fill="#8e15a8"/><rect class="c" x="153" y="247" fill="#9616a8"/><rect class="c" x="156" y="247" fill="#9c16a8"/><rect class="c" x="159" y="247" fill="#a117a7"/><rect class="c" x="162" y="247" fill="#a518a6"/><rect class="c" x="165" y="247" fill="#a718a6"/><rect class="c" x="168" y="247" fill="#a618a6"/><rect class="c" x="171" y="247" fill="#a518a6"/><rect class="c" x="174" y="247" fill="#a117a6"/><rect class="c" x="177" y="247" fill="#9916a7"/><rect class="c" x="180" y="247" fill="#9114a8"/><rect class="c" x="183" y="247" fill="#8713a8"/><rect class="c" x="186" y="247" fill="#7a11a8"/><rect class="c" x="189" y="247" fill="#7110a8"/><rect class="c" x="192" y="247" fill="#6b0fa7"/><rect class="c" x="195" y="247" fill="#660fa7"/><rect class="c" x="198" y="247" fill="#620ea6"/><rect class="c" x="201" y="247" fill="#600ea6"/><rect class="c" x="204" y="247" fill="#5f0ea6"/><rect class="c" x="207" y="247" fill="#5e0ea6"/><rect class="c" x="210" y="247" fill="#5d0ea6"/><rect class="c" x="213" y="247" fill="#5c0ea6"/><rect class="c" x="216" y="247" fill="#5c0ea6"/><rect class="c" x="12" y="250" fill="#600eaa"/><rect class="c" x="15" y="250" fill="#610eaa"/><rect class="c" x="18" y="250" fill="#650fab"/><rect class="c" x="21" y="250" fill="#6a10ab"/><rect class="c" x="24" y="250" fill="#7011ac"/><rect class="c" x="27" y="250" fill="#7712ad"/><rect class="c" x="30" y="250" fill="#7d12ae"/><rect class="c" x="33" y="250" fill="#8213ae"/><rect class="c" x="36" y="250" fill="#8814ae"/><rect class="c" x="39" y="250" fill="#8d14ae"/><rect class="c" x="42" y="250" fill="#9215ad"/><rect class="c" x="45" y="250" fill="#9817ad"/><rect class="c" x="48" y="250" fill="#9c18ac"/><rect class="c" x="51" y="250" fill="#9f18ab"/><rect class="c" x="54" y="250" fill="#a017aa"/><rect class="c" x="57" y="250" fill="#aa1aa5"/><rect class="c" x="60" y="250" fill="#bc2099"/><rect class="c" x="63" y="250" fill="#ca268d"/><rect class="c" x="66" y="250" fill="#d22d80"/><rect class="c" x="69" y="250" fill="#da3470"/><rect class="c" x="72" y="250" fill="#e03d5e"/><rect class="c" x="75" y="250" fill="#e4454d"/><rect class="c" x="78" y="250" fill="#e84b3e"/><rect class="c" x="81" y="250" fill="#ea4f34"/><rect class="c" x="84" y="250" fill="#ea4f31"/><rect class="c" x="87" y="250" fill="#ea4e32"/><rect class="c" x="90" y="250" fill="#e94e32"/><rect class="c" x="93" y="250" fill="#e94d33"/><rect class="c" x="96" y="250" fill="#e94d33"/><rect class="c" x="99" y="250" fill="#e94c34"/><rect class="c" x="102" y="250" fill="#e94b36"/><rect class="c" x="105" y="250" fill="#e94a39"/><rect class="c" x="108" y="250" fill="#e9483c"/><rect class="c" x="111" y="250" fill="#e8473f"/><rect class="c" x="114" y="250" fill="#e74545"/><rect class="c" x="117" y="250" fill="#e5424e"/><rect class="c" x="120" y="250" fill="#e23f57"/><rect class="c" x="123" y="250" fill="#df3b61"/><rect class="c" x="126" y="250" fill="#d93470"/><rect class="c" x="129" y="250" fill="#d12b82"/><rect class="c" x="132" y="250" fill="#c82391"/><rect class="c" x="135" y="250" fill="#bb1e9b"/><rect class="c" x="138" y="250" fill="#af1aa3"/><rect class="c" x="141" y="250" fill="#a318a7"/><rect class="c" x="144" y="250" fill="#9816a8"/><rect class="c" x="147" y="250" fill="#8e15a8"/><rect class="c" x="150" y="250" fill="#8e15a8"/><rect class="c" x="153" y="250" fill="#9616a8"/><rect class="c" x="156" y="250" fill="#9d16a8"/><rect class="c" x="159" y="250" fill="#a117a7"/><rect class="c" x="162" y="250" fill="#a518a6"/><rect class="c" x="165" y="250" fill="#a618a6"/><rect class="c" x="168" y="250" fill="#a618a6"/><rect class="c" x="171" y="250" fill="#a418a6"/><rect class="c" x="174" y="250" fill="#9f17a7"/><rect class="c" x="177" y="250" fill="#9716a8"/><rect class="c" x="180" y="250" fill="#8f14a8"/><rect class="c" x="183" y="250" fill="#8613a8"/><rect class="c" x="186" y="250" fill="#7b11a8"/><rect class="c" x="189" y="250" fill="#7110a8"/><rect class="c" x="192" y="250" fill="#6b10a8"/><rect class="c" x="195" y="250" fill="#660fa7"/><rect class="c" x="198" y="250" fill="#630fa7"/><rect class="c" x="201" y="250" fill="#610ea6"/><rect class="c" x="204" y="250" fill="#600ea6"/><rect class="c" x="207" y="250" fill="#5f0ea6"/><rect class="c" x="210" y="250" fill="#5e0ea6"/><rect class="c" x="213" y="250" fill="#5c0ea6"/><rect class="c" x="216" y="250" fill="#5c0ea6"/><rect class="c" x="12" y="253" fill="#630fab"/><rect class="c" x="15" y="253" fill="#620fab"/><rect class="c" x="18" y="253" fill="#6610ab"/><rect class="c" x="21" y="253" fill="#6b10ab"/><rect class="c" x="24" y="253" fill="#7011ac"/><rect class="c" x="27" y="253" fill="#7712ad"/><rect class="c" x="30" y="253" fill="#7d12ae"/><rect class="c" x="33" y="253" fill="#8213ae"/><rect class="c" x="36" y="253" fill="#8814ae"/><rect class="c" x="39" y="253" fill="#8d14ae"/><rect class="c" x="42" y="253" fill="#9215ad"/><rect class="c" x="45" y="253" fill="#9817ad"/><rect class="c" x="48" y="253" fill="#9c18ac"/><rect class="c" x="51" y="253" fill="#9f18ab"/><rect class="c" x="54" y="253" fill="#a017aa"/><rect class="c" x="57" y="253" fill="#a91aa4"/><rect class="c" x="60" y="253" fill="#bc2099"/><rect class="c" x="63" y="253" fill="#cb278c"/><rect class="c" x="66" y="253" fill="#d32d7f"/><rect class="c" x="69" y="253" fill="#db356f"/><rect class="c" x="72" y="253" fill="#e03d5d"/><rect class="c" x="75" y="253" fill="#e4454c"/><rect class="c" x="78" y="253" fill="#e74b3e"/><rect class="c" x="81" y="253" fill="#ea4e34"/><rect class="c" x="84" y="253" fill="#ea4f32"/><rect class="c" x="87" y="253" fill="#ea4e32"/><rect class="c" x="90" y="253" fill="#e94d33"/><rect class="c" x="93" y="253" fill="#e94d33"/><rect class="c" x="96" y="253" fill="#e94c34"/><rect class="c" x="99" y="253" fill="#e94c35"/><rect class="c" x="102" y="253" fill="#e94b37"/><rect class="c" x="105" y="253" fill="#e94a39"/><rect class="c" x="108" y="253" fill="#e9483c"/><rect class="c" x="111" y="253" fill="#e8463f"/><rect class="c" x="114" y="253" fill="#e74445"/><rect class="c" x="117" y="253" fill="#e4424e"/><rect class="c" x="120" y="253" fill="#e23f57"/><rect class="c" x="123" y="253" fill="#df3b62"/><rect class="c" x="126" y="253" fill="#d93471"/><rect class="c" x="129" y="253" fill="#d12b83"/><rect class="c" x="132" y="253" fill="#c72392"/><rect class="c" x="135" y="253" fill="#ba1e9c"/><rect class="c" x="138" y="253" fill="#ae1aa3"/><rect class="c" x="141" y="253" fill="#a218a7"/><rect class="c" x="144" y="253" fill="#9816a8"/><rect class="c" x="147" y="253" fill="#8e15a8"/><rect class="c" x="150" y="253" fill="#8e15a8"/><rect class="c" x="153" y="253" fill="#9716a8"/><rect class="c" x="156" y="253" fill="#9d16a8"/><rect class="c" x="159" y="253" fill="#a117a7"/><rect class="c" x="162" y="253" fill="#a518a6"/><rect class="c" x="165" y="253" fill="#a618a6"/><rect class="c" x="168" y="253" fill="#a418a6"/><rect class="c" x="171" y="253" fill="#a218a6"/><rect class="c" x="174" y="253" fill="#9d17a7"/><rect class="c" x="177" y="253" fill="#9515a8"/><rect class="c" x="180" y="253" fill="#8e14a8"/><rect class="c" x="183" y="253" fill="#8513a8"/><rect class="c" x="186" y="253" fill="#7b11a8"/><rect class="c" x="189" y="253" fill="#7210a8"/><rect class="c" x="192" y="253" fill="#6b10a8"/><rect class="c" x="195" y="253" fill="#670fa7"/><rect class="c" x="198" y="253" fill="#640fa7"/><rect class="c" x="201" y="253" fill="#620ea6"/><rect class="c" x="204" y="253" fill="#600ea6"/><rect class="c" x="207" y="253" fill="#5f0ea6"/><rect class="c" x="210" y="253" fill="#5e0ea6"/><rect class="c" x="213" y="253" fill="#5f0ea6"/><rect class="c" x="216" y="253" fill="#5e0ea6"/><rect class="c" x="12" y="256" fill="#6610ac"/><rect class="c" x="15" y="256" fill="#6510ac"/><rect class="c" x="18" y="256" fill="#6710ab"/><rect class="c" x="21" y="256" fill="#6c10ac"/><rect class="c" x="24" y="256" fill="#7111ac"/><rect class="c" x="27" y="256" fill="#7712ad"/><rect class="c" x="30" y="256" fill="#7d12ae"/><rect class="c" x="33" y="256" fill="#8213ae"/><rect class="c" x="36" y="256" fill="#8814ae"/><rect class="c" x="39" y="256" fill="#8d14ae"/><rect class="c" x="42" y="256" fill="#9215ad"/><rect class="c" x="45" y="256" fill="#9817ad"/><rect class="c" x="48" y="256" fill="#9c18ac"/><rect class="c" x="51" y="256" fill="#9f18ab"/><rect class="c" x="54" y="256" fill="#a017aa"/><rect class="c" x="57" y="256" fill="#a91aa4"/><rect class="c" x="60" y="256" fill="#bc2198"/><rect class="c" x="63" y="256" fill="#cb278c"/><rect class="c" x="66" y="256" fill="#d42e7d"/><rect class="c" x="69" y="256" fill="#db366d"/><rect class="c" x="72" y="256" fill="#e13e5c"/><rect class="c" x="75" y="256" fill="#e4454c"/><rect class="c" x="78" y="256" fill="#e74b3e"/><rect class="c" x="81" y="256" fill="#e94e34"/><rect class="c" x="84" y="256" fill="#ea4e32"/><rect class="c" x="87" y="256" fill="#ea4e32"/><rect class="c" x="90" y="256" fill="#e94d33"/><rect class="c" x="93" y="256" fill="#e94c34"/><rect class="c" x="96" y="256" fill="#e94c34"/><rect class="c" x="99" y="256" fill="#e94b35"/><rect class="c" x="102" y="256" fill="#e94a37"/><rect class="c" x="105" y="256" fill="#e9493a"/><rect class="c" x="108" y="256" fill="#e9483c"/><rect class="c" x="111" y="256" fill="#e8463f"/><rect class="c" x="114" y="256" fill="#e74445"/><rect class="c" x="117" y="256" fill="#e4414e"/><rect class="c" x="120" y="256" fill="#e23e58"/><rect class="c" x="123" y="256" fill="#de3a62"/><rect class="c" x="126" y="256" fill="#d83372"/><rect class="c" x="129" y="256" fill="#d02a84"/><rect class="c" x="132" y="256" fill="#c62392"/><rect class="c" x="135" y="256" fill="#ba1e9c"/><rect class="c" x="138" y="256" fill="#ad1aa4"/><rect class="c" x="141" y="256" fill="#a217a7"/><rect class="c" x="144" y="256" fill="#9816a8"/><rect class="c" x="147" y="256" fill="#8e15a8"/><rect class="c" x="150" y="256" fill="#8e15a8"/><rect class="c" x="153" y="256" fill="#9716a8"/><rect class="c" x="156" y="256" fill="#9d17a8"/><rect class="c" x="159" y="256" fill="#a117a7"/><rect class="c" x="162" y="256" fill="#a418a6"/><rect class="c" x="165" y="256" fill="#a518a6"/><rect class="c" x="168" y="256" fill="#a318a6"/><rect class="c" x="171" y="256" fill="#a017a7"/><rect class="c" x="174" y="256" fill="#9b16a7"/><rect class="c" x="177" y="256" fill="#9415a8"/><rect class="c" x="180" y="256" fill="#8d14a8"/><rect class="c" x="183" y="256" fill="#8413a8"/><rect class="c" x="186" y="256" fill="#7b11a8"/><rect class="c" x="189" y="256" fill="#7311a8"/><rect class="c" x="192" y="256" fill="#6c10a8"/><rect class="c" x="195" y="256" fill="#680fa7"/><rect class="c" x="198" y="256" fill="#650fa7"/><rect class="c" x="201" y="256" fill="#630fa7"/><rect class="c" x="204" y="256" fill="#610ea6"/><rect class="c" x="207" y="256" fill="#600ea6"/><rect class="c" x="210" y="256" fill="#5f0ea6"/><rect class="c" x="213" y="256" fill="#5f0ea6"/><rect class="c" x="216" y="256" fill="#600ea6"/><rect class="c" x="12" y="259" fill="#6610ac"/><rect class="c" x="15" y="259" fill="#6610ac"/><rect class="c" x="18" y="259" fill="#6710ac"/><rect class="c" x="21" y="259" fill="#6d10ac"/><rect class="c" x="24" y="259" fill="#7111ad"/><rect class="c" x="27" y="259" fill="#7712ad"/><rect class="c" x="30" y="259" fill="#7d12ae"/><rect class="c" x="33" y="259" fill="#8213ae"/><rect class="c" x="36" y="259" fill="#8814ae"/><rect class="c" x="39" y="259" fill="#8d14ae"/><rect class="c" x="42" y="259" fill="#9215ad"/><rect class="c" x="45" y="259" fill="#9817ad"/><rect class="c" x="48" y="259" fill="#9c18ac"/><rect class="c" x="51" y="259" fill="#9f18ab"/><rect class="c" x="54" y="259" fill="#a017aa"/><rect class="c" x="57" y="259" fill="#a91aa4"/><rect class="c" x="60" y="259" fill="#bb2198"/><rect class="c" x="63" y="259" fill="#cb288b"/><rect class="c" x="66" y="259" fill="#d52f7c"/><rect class="c" x="69" y="259" fill="#dc376b"/><rect class="c" x="72" y="259" fill="#e13e5b"/><rect class="c" x="75" y="259" fill="#e4454b"/><rect class="c" x="78" y="259" fill="#e74a3e"/><rect class="c" x="81" y="259" fill="#e94e35"/><rect class="c" x="84" y="259" fill="#ea4e32"/><rect class="c" x="87" y="259" fill="#ea4e32"/><rect class="c" x="90" y="259" fill="#e94d33"/><rect class="c" x="93" y="259" fill="#e94c34"/><rect class="c" x="96" y="259" fill="#e84b35"/><rect class="c" x="99" y="259" fill="#e84b36"/><rect class="c" x="102" y="259" fill="#e84a38"/><rect class="c" x="105" y="259" fill="#e8483a"/><rect class="c" x="108" y="259" fill="#e8473d"/><rect class="c" x="111" y="259" fill="#e8463f"/><rect class="c" x="114" y="259" fill="#e74445"/><rect class="c" x="117" y="259" fill="#e4414e"/><rect class="c" x="120" y="259" fill="#e23e58"/><rect class="c" x="123" y="259" fill="#de3a63"/><rect class="c" x="126" y="259" fill="#d83372"/><rect class="c" x="129" y="259" fill="#d02a84"/><rect class="c" x="132" y="259" fill="#c62393"/><rect class="c" x="135" y="259" fill="#b91d9d"/><rect class="c" x="138" y="259" fill="#ac1aa5"/><rect class="c" x="141" y="259" fill="#a117a8"/><rect class="c" x="144" y="259" fill="#9816a8"/><rect class="c" x="147" y="259" fill="#8e15a8"/><rect class="c" x="150" y="259" fill="#8f15a8"/><rect class="c" x="153" y="259" fill="#9716a8"/><rect class="c" x="156" y="259" fill="#9d16a8"/><rect class="c" x="159" y="259" fill="#a017a7"/><rect class="c" x="162" y="259" fill="#a318a6"/><rect class="c" x="165" y="259" fill="#a418a6"/><rect class="c" x="168" y="259" fill="#a218a6"/><rect class="c" x="171" y="259" fill="#9e17a7"/><rect class="c" x="174" y="259" fill="#9916a8"/><rect class="c" x="177" y="259" fill="#9215a8"/><rect class="c" x="180" y="259" fill="#8b14a8"/><rect class="c" x="183" y="259" fill="#8412a8"/><rect class="c" x="186" y="259" fill="#7b11a8"/><rect class="c" x="189" y="259" fill="#7311a8"/><rect class="c" x="192" y="259" fill="#6d10a8"/><rect class="c" x="195" y="259" fill="#6810a8"/><rect class="c" x="198" y="259" fill="#660fa7"/><rect class="c" x="201" y="259" fill="#640fa7"/><rect class="c" x="204" y="259" fill="#630fa7"/><rect class="c" x="207" y="259" fill="#610ea6"/><rect class="c" x="210" y="259" fill="#600ea6"/><rect class="c" x="213" y="259" fill="#5f0ea6"/><rect class="c" x="216" y="259" fill="#600ea6"/><rect class="c" x="12" y="262" fill="#6610ac"/><rect class="c" x="15" y="262" fill="#6610ac"/><rect class="c" x="18" y="262" fill="#6810ac"/><rect class="c" x="21" y="262" fill="#6e10ac"/><rect class="c" x="24" y="262" fill="#7211ad"/><rect class="c" x="27" y="262" fill="#7712ae"/><rect class="c" x="30" y="262" fill="#7d12ae"/><rect class="c" x="33" y="262" fill="#8213ae"/><rect class="c" x="36" y="262" fill="#8814ae"/><rect class="c" x="39" y="262" fill="#8d14ae"/><rect class="c" x="42" y="262" fill="#9215ad"/><rect class="c" x="45" y="262" fill="#9817ad"/><rect class="c" x="48" y="262" fill="#9c18ac"/><rect class="c" x="51" y="262" fill="#9f18ab"/><rect class="c" x="54" y="262" fill="#a017aa"/><rect class="c" x="57" y="262" fill="#a91ba4"/><rect class="c" x="60" y="262" fill="#bb2197"/><rect class="c" x="63" y="262" fill="#cb298a"/><rect class="c" x="66" y="262" fill="#d5307b"/><rect class="c" x="69" y="262" fill="#dc386a"/><rect class="c" x="72" y="262" fill="#e13f5a"/><rect class="c" x="75" y="262" fill="#e4454b"/><rect class="c" x="78" y="262" fill="#e74a3e"/><rect class="c" x="81" y="262" fill="#e94d36"/><rect class="c" x="84" y="262" fill="#ea4e33"/><rect class="c" x="87" y="262" fill="#ea4d33"/><rect class="c" x="90" y="262" fill="#e94c34"/><rect class="c" x="93" y="262" fill="#e94c34"/><rect class="c" x="96" y="262" fill="#e84b35"/><rect class="c" x="99" y="262" fill="#e84a36"/><rect class="c" x="102" y="262" fill="#e84938"/><rect class="c" x="105" y="262" fill="#e8483b"/><rect class="c" x="108" y="262" fill="#e8463d"/><rect class="c" x="111" y="262" fill="#e84540"/><rect class="c" x="114" y="262" fill="#e74345"/><rect class="c" x="117" y="262" fill="#e4414e"/><rect class="c" x="120" y="262" fill="#e23e58"/><rect class="c" x="123" y="262" fill="#de3a64"/><rect class="c" x="126" y="262" fill="#d73373"/><rect class="c" x="129" y="262" fill="#cf2a85"/><rect class="c" x="132" y="262" fill="#c52294"/><rect class="c" x="135" y="262" fill="#b81d9e"/><rect class="c" x="138" y="262" fill="#ab19a5"/><rect class="c" x="141" y="262" fill="#a017a8"/><rect class="c" x="144" y="262" fill="#9816a8"/><rect class="c" x="147" y="262" fill="#8e15a8"/><rect class="c" x="150" y="262" fill="#8f15a8"/><rect class="c" x="153" y="262" fill="#9716a8"/><rect class="c" x="156" y="262" fill="#9d16a8"/><rect class="c" x="159" y="262" fill="#a017a7"/><rect class="c" x="162" y="262" fill="#a318a6"/><rect class="c" x="165" y="262" fill="#a218a6"/><rect class="c" x="168" y="262" fill="#a017a7"/><rect class="c" x="171" y="262" fill="#9c17a7"/><rect class="c" x="174" y="262" fill="#9716a8"/><rect class="c" x="177" y="262" fill="#9115a8"/><rect class="c" x="180" y="262" fill="#8a13a8"/><rect class="c" x="183" y="262" fill="#8412a8"/><rect class="c" x="186" y="262" fill="#7c11a8"/><rect class="c" x="189" y="262" fill="#7411a8"/><rect class="c" x="192" y="262" fill="#6d10a8"/><rect class="c" x="195" y="262" fill="#6910a8"/><rect class="c" x="198" y="262" fill="#670fa7"/><rect class="c" x="201" y="262" fill="#650fa7"/><rect class="c" x="204" y="262" fill="#640fa7"/><rect class="c" x="207" y="262" fill="#620ea6"/><rect class="c" x="210" y="262" fill="#600ea6"/><rect class="c" x="213" y="262" fill="#600ea6"/><rect class="c" x="216" y="262" fill="#600ea6"/><rect class="c" x="12" y="265" fill="#6610ac"/><rect class="c" x="15" y="265" fill="#6610ac"/><rect class="c" x="18" y="265" fill="#6810ac"/><rect class="c" x="21" y="265" fill="#6e10ac"/><rect class="c" x="24" y="265" fill="#7311ad"/><rect class="c" x="27" y="265" fill="#7812ae"/><rect class="c" x="30" y="265" fill="#7d12ae"/><rect class="c" x="33" y="265" fill="#8213ae"/><rect class="c" x="36" y="265" fill="#8814ae"/><rect class="c" x="39" y="265" fill="#8d14ae"/><rect class="c" x="42" y="265" fill="#9215ad"/><rect class="c" x="45" y="265" fill="#9817ad"/><rect class="c" x="48" y="265" fill="#9c18ac"/><rect class="c" x="51" y="265" fill="#9f18ab"/><rect class="c" x="54" y="265" fill="#a519a8"/><rect class="c" x="57" y="265" fill="#ae1ba2"/><rect class="c" x="60" y="265" fill="#bf2295"/><rect class="c" x="63" y="265" fill="#cb2989"/><rect class="c" x="66" y="265" fill="#d6307b"/><rect class="c" x="69" y="265" fill="#dc376a"/><rect class="c" x="72" y="265" fill="#e13e5b"/><rect class="c" x="75" y="265" fill="#e4444c"/><rect class="c" x="78" y="265" fill="#e74940"/><rect class="c" x="81" y="265" fill="#e94c38"/><rect class="c" x="84" y="265" fill="#ea4e35"/><rect class="c" x="87" y="265" fill="#ea4e34"/><rect class="c" x="90" y="265" fill="#e94d35"/><rect class="c" x="93" y="265" fill="#e94c36"/><rect class="c" x="96" y="265" fill="#e94c36"/><rect class="c" x="99" y="265" fill="#e84b38"/><rect class="c" x="102" y="265" fill="#e8493a"/><rect class="c" x="105" y="265" fill="#e8483c"/><rect class="c" x="108" y="265" fill="#e8473e"/><rect class="c" x="111" y="265" fill="#e84541"/><rect class="c" x="114" y="265" fill="#e74446"/><rect class="c" x="117" y="265" fill="#e4414f"/><rect class="c" x="120" y="265" fill="#e23e58"/><rect class="c" x="123" y="265" fill="#de3a64"/><rect class="c" x="126" y="265" fill="#d73273"/><rect class="c" x="129" y="265" fill="#cf2a85"/><rect class="c" x="132" y="265" fill="#c52294"/><rect class="c" x="135" y="265" fill="#b81d9e"/><rect class="c" x="138" y="265" fill="#ab19a5"/><rect class="c" x="141" y="265" fill="#a017a8"/><rect class="c" x="144" y="265" fill="#9816a8"/><rect class="c" x="147" y="265" fill="#8e15a8"/><rect class="c" x="150" y="265" fill="#8f15a8"/><rect class="c" x="153" y="265" fill="#9615a8"/><rect class="c" x="156" y="265" fill="#9c16a8"/><rect class="c" x="159" y="265" fill="#9f17a7"/><rect class="c" x="162" y="265" fill="#a017a7"/><rect class="c" x="165" y="265" fill="#a118a6"/><rect class="c" x="168" y="265" fill="#9e17a7"/><rect class="c" x="171" y="265" fill="#9b16a8"/><rect class="c" x="174" y="265" fill="#9616a8"/><rect class="c" x="177" y="265" fill="#9015a8"/><rect class="c" x="180" y="265" fill="#8a14a8"/><rect class="c" x="183" y="265" fill="#8413a8"/><rect class="c" x="186" y="265" fill="#7d12a8"/><rect class="c" x="189" y="265" fill="#7611a8"/><rect class="c" x="192" y="265" fill="#6f10a8"/><rect class="c" x="195" y="265" fill="#6910a8"/><rect class="c" x="198" y="265" fill="#670fa7"/><rect class="c" x="201" y="265" fill="#650fa7"/><rect class="c" x="204" y="265" fill="#630fa7"/><rect class="c" x="207" y="265" fill="#620ea6"/><rect class="c" x="210" y="265" fill="#600ea6"/><rect class="c" x="213" y="265" fill="#600ea6"/><rect class="c" x="216" y="265" fill="#600ea6"/><rect class="c" x="12" y="268" fill="#6610ac"/><rect class="c" x="15" y="268" fill="#6610ac"/><rect class="c" x="18" y="268" fill="#6810ac"/><rect class="c" x="21" y="268" fill="#6d10ac"/><rect class="c" x="24" y="268" fill="#7311ad"/><rect class="c" x="27" y="268" fill="#7812ae"/><rect class="c" x="30" y="268" fill="#7d12ae"/><rect class="c" x="33" y="268" fill="#8213ae"/><rect class="c" x="36" y="268" fill="#8814ae"/><rect class="c" x="39" y="268" fill="#8d14ae"/><rect class="c" x="42" y="268" fill="#9215ad"/><rect class="c" x="45" y="268" fill="#9817ad"/><rect class="c" x="48" y="268" fill="#9c18ac"/><rect class="c" x="51" y="268" fill="#a519a8"/><rect class="c" x="54" y="268" fill="#ab1aa5"/><rect class="c" x="57" y="268" fill="#b81d9e"/><rect class="c" x="60" y="268" fill="#c52293"/><rect class="c" x="63" y="268" fill="#d02987"/><rect class="c" x="66" y="268" fill="#d62f7b"/><rect class="c" x="69" y="268" fill="#dc366c"/><rect class="c" x="72" y="268" fill="#e13c5d"/><rect class="c" x="75" y="268" fill="#e44250"/><rect class="c" x="78" y="268" fill="#e74843"/><rect class="c" x="81" y="268" fill="#e94b3c"/><rect class="c" x="84" y="268" fill="#e94d39"/><rect class="c" x="87" y="268" fill="#ea4f37"/><rect class="c" x="90" y="268" fill="#ea4f38"/><rect class="c" x="93" y="268" fill="#e94e38"/><rect class="c" x="96" y="268" fill="#e94e39"/><rect class="c" x="99" y="268" fill="#e94d39"/><rect class="c" x="102" y="268" fill="#e94c3b"/><rect class="c" x="105" y="268" fill="#e84a3e"/><rect class="c" x="108" y="268" fill="#e84840"/><rect class="c" x="111" y="268" fill="#e84643"/><rect class="c" x="114" y="268" fill="#e74447"/><rect class="c" x="117" y="268" fill="#e44150"/><rect class="c" x="120" y="268" fill="#e23e59"/><rect class="c" x="123" y="268" fill="#de3a64"/><rect class="c" x="126" y="268" fill="#d73273"/><rect class="c" x="129" y="268" fill="#cf2a85"/><rect class="c" x="132" y="268" fill="#c52294"/><rect class="c" x="135" y="268" fill="#b81d9e"/><rect class="c" x="138" y="268" fill="#ab19a5"/><rect class="c" x="141" y="268" fill="#a017a8"/><rect class="c" x="144" y="268" fill="#9816a8"/><rect class="c" x="147" y="268" fill="#8e15a8"/><rect class="c" x="150" y="268" fill="#8d14a8"/><rect class="c" x="153" y="268" fill="#9515a8"/><rect class="c" x="156" y="268" fill="#9a16a8"/><rect class="c" x="159" y="268" fill="#9d16a8"/><rect class="c" x="162" y="268" fill="#9e17a7"/><rect class="c" x="165" y="268" fill="#9d17a7"/><rect class="c" x="168" y="268" fill="#9c17a7"/><rect class="c" x="171" y="268" fill="#9a16a8"/><rect class="c" x="174" y="268" fill="#9516a8"/><rect class="c" x="177" y="268" fill="#9015a8"/><rect class="c" x="180" y="268" fill="#8a14a8"/><rect class="c" x="183" y="268" fill="#8413a8"/><rect class="c" x="186" y="268" fill="#7e12a8"/><rect class="c" x="189" y="268" fill="#7812a8"/><rect class="c" x="192" y="268" fill="#7211a8"/><rect class="c" x="195" y="268" fill="#6c10a7"/><rect class="c" x="198" y="268" fill="#670fa7"/><rect class="c" x="201" y="268" fill="#630fa7"/><rect class="c" x="204" y="268" fill="#610ea6"/><rect class="c" x="207" y="268" fill="#600ea6"/><rect class="c" x="210" y="268" fill="#5e0ea6"/><rect class="c" x="213" y="268" fill="#5d0ea6"/><rect class="c" x="216" y="268" fill="#5e0ea6"/><rect class="c" x="12" y="271" fill="#6610ac"/><rect class="c" x="15" y="271" fill="#6610ac"/><rect class="c" x="18" y="271" fill="#6910ac"/><rect class="c" x="21" y="271" fill="#6d10ac"/><rect class="c" x="24" y="271" fill="#7311ad"/><rect class="c" x="27" y="271" fill="#7912ae"/><rect class="c" x="30" y="271" fill="#7e13ae"/><rect class="c" x="33" y="271" fill="#8313ae"/><rect class="c" x="36" y="271" fill="#8914ae"/><rect class="c" x="39" y="271" fill="#8f15ad"/><rect class="c" x="42" y="271" fill="#9416ad"/><rect class="c" x="45" y="271" fill="#9a17ac"/><rect class="c" x="48" y="271" fill="#a019a9"/><rect class="c" x="51" y="271" fill="#a81ba4"/><rect class="c" x="54" y="271" fill="#b51e9e"/><rect class="c" x="57" y="271" fill="#c12097"/><rect class="c" x="60" y="271" fill="#cb258e"/><rect class="c" x="63" y="271" fill="#d22b82"/><rect class="c" x="66" y="271" fill="#d83177"/><rect class="c" x="69" y="271" fill="#dd376a"/><rect class="c" x="72" y="271" fill="#e13d5c"/><rect class="c" x="75" y="271" fill="#e5434e"/><rect class="c" x="78" y="271" fill="#e74844"/><rect class="c" x="81" y="271" fill="#e94b3d"/><rect class="c" x="84" y="271" fill="#e94e3b"/><rect class="c" x="87" y="271" fill="#ea5039"/><rect class="c" x="90" y="271" fill="#ea5138"/><rect class="c" x="93" y="271" fill="#ea5038"/><rect class="c" x="96" y="271" fill="#ea5038"/><rect class="c" x="99" y="271" fill="#ea5039"/><rect class="c" x="102" y="271" fill="#ea4e3b"/><rect class="c" x="105" y="271" fill="#e94c3d"/><rect class="c" x="108" y="271" fill="#e94a40"/><rect class="c" x="111" y="271" fill="#e84842"/><rect class="c" x="114" y="271" fill="#e74648"/><rect class="c" x="117" y="271" fill="#e54250"/><rect class="c" x="120" y="271" fill="#e23f59"/><rect class="c" x="123" y="271" fill="#de3a64"/><rect class="c" x="126" y="271" fill="#d73373"/><rect class="c" x="129" y="271" fill="#cf2a85"/><rect class="c" x="132" y="271" fill="#c52294"/><rect class="c" x="135" y="271" fill="#b91d9e"/><rect class="c" x="138" y="271" fill="#ac1aa5"/><rect class="c" x="141" y="271" fill="#a117a8"/><rect class="c" x="144" y="271" fill="#9816a8"/><rect class="c" x="147" y="271" fill="#8f15a8"/><rect class="c" x="150" y="271" fill="#8d14a8"/><rect class="c" x="153" y="271" fill="#9315a8"/><rect class="c" x="156" y="271" fill="#9816a8"/><rect class="c" x="159" y="271" fill="#9b16a8"/><rect class="c" x="162" y="271" fill="#9b16a8"/><rect class="c" x="165" y="271" fill="#9a16a8"/><rect class="c" x="168" y="271" fill="#9916a8"/><rect class="c" x="171" y="271" fill="#9816a8"/><rect class="c" x="174" y="271" fill="#9516a8"/><rect class="c" x="177" y="271" fill="#8f15a8"/><rect class="c" x="180" y="271" fill="#8a14a8"/><rect class="c" x="183" y="271" fill="#8413a8"/><rect class="c" x="186" y="271" fill="#7f13a8"/><rect class="c" x="189" y="271" fill="#7912a8"/><rect class="c" x="192" y="271" fill="#7311a8"/><rect class="c" x="195" y="271" fill="#6e10a7"/><rect class="c" x="198" y="271" fill="#690fa7"/><rect class="c" x="201" y="271" fill="#630fa6"/><rect class="c" x="204" y="271" fill="#600ea6"/><rect class="c" x="207" y="271" fill="#5f0ea6"/><rect class="c" x="210" y="271" fill="#5d0ea6"/><rect class="c" x="213" y="271" fill="#5c0ea6"/><rect class="c" x="216" y="271" fill="#5c0ea6"/><rect class="c" x="12" y="274" fill="#6810ac"/><rect class="c" x="15" y="274" fill="#6710ac"/><rect class="c" x="18" y="274" fill="#6a10ac"/><rect class="c" x="21" y="274" fill="#6f10ac"/><rect class="c" x="24" y="274" fill="#7511ad"/><rect class="c" x="27" y="274" fill="#7b12ae"/><rect class="c" x="30" y="274" fill="#8113ae"/><rect class="c" x="33" y="274" fill="#8714ae"/><rect class="c" x="36" y="274" fill="#8d15ad"/><rect class="c" x="39" y="274" fill="#9416ad"/><rect class="c" x="42" y="274" fill="#9a17ac"/><rect class="c" x="45" y="274" fill="#a018aa"/><rect class="c" x="48" y="274" fill="#a61aa7"/><rect class="c" x="51" y="274" fill="#af1e9e"/><rect class="c" x="54" y="274" fill="#ba2295"/><rect class="c" x="57" y="274" fill="#c7258e"/><rect class="c" x="60" y="274" fill="#d02985"/><rect class="c" x="63" y="274" fill="#d62f7a"/><rect class="c" x="66" y="274" fill="#db356e"/><rect class="c" x="69" y="274" fill="#df3b62"/><rect class="c" x="72" y="274" fill="#e34154"/><rect class="c" x="75" y="274" fill="#e64748"/><rect class="c" x="78" y="274" fill="#e84b3e"/><rect class="c" x="81" y="274" fill="#e94e3a"/><rect class="c" x="84" y="274" fill="#ea5038"/><rect class="c" x="87" y="274" fill="#ea5235"/><rect class="c" x="90" y="274" fill="#ea5335"/><rect class="c" x="93" y="274" fill="#ea5335"/><rect class="c" x="96" y="274" fill="#ea5335"/><rect class="c" x="99" y="274" fill="#ea5335"/><rect class="c" x="102" y="274" fill="#ea5237"/><rect class="c" x="105" y="274" fill="#ea5039"/><rect class="c" x="108" y="274" fill="#e94e3c"/><rect class="c" x="111" y="274" fill="#e94b40"/><rect class="c" x="114" y="274" fill="#e84846"/><rect class="c" x="117" y="274" fill="#e5444f"/><rect class="c" x="120" y="274" fill="#e24058"/><rect class="c" x="123" y="274" fill="#de3a64"/><rect class="c" x="126" y="274" fill="#d83374"/><rect class="c" x="129" y="274" fill="#d02a85"/><rect class="c" x="132" y="274" fill="#c62393"/><rect class="c" x="135" y="274" fill="#ba1e9d"/><rect class="c" x="138" y="274" fill="#ad1aa4"/><rect class="c" x="141" y="274" fill="#a218a7"/><rect class="c" x="144" y="274" fill="#9816a8"/><rect class="c" x="147" y="274" fill="#8f15a8"/><rect class="c" x="150" y="274" fill="#8d14a8"/><rect class="c" x="153" y="274" fill="#9315a8"/><rect class="c" x="156" y="274" fill="#9816a8"/><rect class="c" x="159" y="274" fill="#9b16a8"/><rect class="c" x="162" y="274" fill="#9b16a8"/><rect class="c" x="165" y="274" fill="#9916a8"/><rect class="c" x="168" y="274" fill="#9816a8"/><rect class="c" x="171" y="274" fill="#9716a8"/><rect class="c" x="174" y="274" fill="#9416a8"/><rect class="c" x="177" y="274" fill="#8f15a8"/><rect class="c" x="180" y="274" fill="#8a14a8"/><rect class="c" x="183" y="274" fill="#8413a8"/><rect class="c" x="186" y="274" fill="#7f13a8"/><rect class="c" x="189" y="274" fill="#7812a8"/><rect class="c" x="192" y="274" fill="#7211a7"/><rect class="c" x="195" y="274" fill="#6d10a7"/><rect class="c" x="198" y="274" fill="#680fa7"/><rect class="c" x="201" y="274" fill="#630ea6"/><rect class="c" x="204" y="274" fill="#600ea6"/><rect class="c" x="207" y="274" fill="#5e0ea6"/><rect class="c" x="210" y="274" fill="#5d0ea6"/><rect class="c" x="213" y="274" fill="#5c0ea6"/><rect class="c" x="216" y="274" fill="#5c0ea6"/><rect class="c" x="12" y="277" fill="#6a10ac"/><rect class="c" x="15" y="277" fill="#6a10ac"/><rect class="c" x="18" y="277" fill="#6b10ac"/><rect class="c" x="21" y="277" fill="#7111ac"/><rect class="c" x="24" y="277" fill="#7712ad"/><rect class="c" x="27" y="277" fill="#7e13ae"/><rect class="c" x="30" y="277" fill="#8514ae"/><rect class="c" x="33" y="277" fill="#8c15ad"/><rect class="c" x="36" y="277" fill="#9316ac"/><rect class="c" x="39" y="277" fill="#9a17ab"/><rect class="c" x="42" y="277" fill="#a118a9"/><rect class="c" x="45" y="277" fill="#a719a7"/><rect class="c" x="48" y="277" fill="#af1ba3"/><rect class="c" x="51" y="277" fill="#b7209a"/><rect class="c" x="54" y="277" fill="#c0268e"/><rect class="c" x="57" y="277" fill="#cb2a85"/><rect class="c" x="60" y="277" fill="#d42e7c"/><rect class="c" x="63" y="277" fill="#d93470"/><rect class="c" x="66" y="277" fill="#de3b65"/><rect class="c" x="69" y="277" fill="#e24158"/><rect class="c" x="72" y="277" fill="#e5464c"/><rect class="c" x="75" y="277" fill="#e74b40"/><rect class="c" x="78" y="277" fill="#e94f38"/><rect class="c" x="81" y="277" fill="#ea5234"/><rect class="c" x="84" y="277" fill="#ea5332"/><rect class="c" x="87" y="277" fill="#eb5630"/><rect class="c" x="90" y="277" fill="#eb5630"/><rect class="c" x="93" y="277" fill="#ea5630"/><rect class="c" x="96" y="277" fill="#ea5531"/><rect class="c" x="99" y="277" fill="#ea5531"/><rect class="c" x="102" y="277" fill="#ea5432"/><rect class="c" x="105" y="277" fill="#ea5434"/><rect class="c" x="108" y="277" fill="#ea5236"/><rect class="c" x="111" y="277" fill="#e94e3c"/><rect class="c" x="114" y="277" fill="#e84b44"/><rect class="c" x="117" y="277" fill="#e6464e"/><rect class="c" x="120" y="277" fill="#e34258"/><rect class="c" x="123" y="277" fill="#de3b65"/><rect class="c" x="126" y="277" fill="#d93374"/><rect class="c" x="129" y="277" fill="#d02b85"/><rect class="c" x="132" y="277" fill="#c72492"/><rect class="c" x="135" y="277" fill="#bc1f9c"/><rect class="c" x="138" y="277" fill="#af1ba3"/><rect class="c" x="141" y="277" fill="#a319a7"/><rect class="c" x="144" y="277" fill="#9917a7"/><rect class="c" x="147" y="277" fill="#8f15a8"/><rect class="c" x="150" y="277" fill="#8e14a8"/><rect class="c" x="153" y="277" fill="#9315a8"/><rect class="c" x="156" y="277" fill="#9816a8"/><rect class="c" x="159" y="277" fill="#9b16a8"/><rect class="c" x="162" y="277" fill="#9b16a8"/><rect class="c" x="165" y="277" fill="#9916a8"/><rect class="c" x="168" y="277" fill="#9816a8"/><rect class="c" x="171" y="277" fill="#9716a8"/><rect class="c" x="174" y="277" fill="#9416a8"/><rect class="c" x="177" y="277" fill="#8f15a8"/><rect class="c" x="180" y="277" fill="#8a14a8"/><rect class="c" x="183" y="277" fill="#8413a8"/><rect class="c" x="186" y="277" fill="#7f13a8"/><rect class="c" x="189" y="277" fill="#7812a8"/><rect class="c" x="192" y="277" fill="#7110a7"/><rect class="c" x="195" y="277" fill="#6c10a7"/><rect class="c" x="198" y="277" fill="#670fa6"/><rect class="c" x="201" y="277" fill="#630ea6"/><rect class="c" x="204" y="277" fill="#600ea6"/><rect class="c" x="207" y="277" fill="#5e0ea6"/><rect class="c" x="210" y="277" fill="#5d0ea6"/><rect class="c" x="213" y="277" fill="#5c0ea6"/><rect class="c" x="216" y="277" fill="#5c0ea6"/><rect class="c" x="12" y="280" fill="#6a10ac"/><rect class="c" x="15" y="280" fill="#8016a3"/><rect class="c" x="18" y="280" fill="#8218a1"/><rect class="c" x="21" y="280" fill="#871c9a"/><rect class="c" x="24" y="280" fill="#8e1d9b"/><rect class="c" x="27" y="280" fill="#951e9b"/><rect class="c" x="30" y="280" fill="#9a2497"/><rect class="c" x="33" y="280" fill="#a02694"/><rect class="c" x="36" y="280" fill="#a82793"/><rect class="c" x="39" y="280" fill="#ae2c91"/><rect class="c" x="42" y="280" fill="#b3318e"/><rect class="c" x="45" y="280" fill="#ba328b"/><rect class="c" x="48" y="280" fill="#c13589"/><rect class="c" x="51" y="280" fill="#c53d88"/><rect class="c" x="54" y="280" fill="#ce437c"/><rect class="c" x="57" y="280" fill="#d74970"/><rect class="c" x="60" y="280" fill="#df4e66"/><rect class="c" x="63" y="280" fill="#e3555a"/><rect class="c" x="66" y="280" fill="#e65d59"/><rect class="c" x="69" y="280" fill="#e96351"/><rect class="c" x="72" y="280" fill="#eb6846"/><rect class="c" x="75" y="280" fill="#ed6c42"/><rect class="c" x="78" y="280" fill="#ed6f40"/><rect class="c" x="81" y="280" fill="#ee713b"/><rect class="c" x="84" y="280" fill="#ef733a"/><rect class="c" x="87" y="280" fill="#ef6f33"/><rect class="c" x="90" y="280" fill="#ef6b2c"/><rect class="c" x="93" y="280" fill="#ee6b2d"/><rect class="c" x="96" y="280" fill="#ed662d"/><rect class="c" x="99" y="280" fill="#ec612e"/><rect class="c" x="102" y="280" fill="#ec5f2f"/><rect class="c" x="105" y="280" fill="#ec5d30"/><rect class="c" x="108" y="280" fill="#ec623b"/><rect class="c" x="111" y="280" fill="#ea573c"/><rect class="c" x="114" y="280" fill="#e84d42"/><rect class="c" x="117" y="280" fill="#e7494c"/><rect class="c" x="120" y="280" fill="#e34358"/><rect class="c" x="123" y="280" fill="#de3b66"/><rect class="c" x="126" y="280" fill="#d93376"/><rect class="c" x="129" y="280" fill="#d12b84"/><rect class="c" x="132" y="280" fill="#c72591"/><rect class="c" x="135" y="280" fill="#bc209b"/><rect class="c" x="138" y="280" fill="#b11ca2"/><rect class="c" x="141" y="280" fill="#a419a6"/><rect class="c" x="144" y="280" fill="#9917a7"/><rect class="c" x="147" y="280" fill="#8f15a8"/><rect class="c" x="150" y="280" fill="#8e14a8"/><rect class="c" x="153" y="280" fill="#9315a8"/><rect class="c" x="156" y="280" fill="#9916a8"/><rect class="c" x="159" y="280" fill="#9c16a8"/><rect class="c" x="162" y="280" fill="#9b16a8"/><rect class="c" x="165" y="280" fill="#9a16a8"/><rect class="c" x="168" y="280" fill="#9816a8"/><rect class="c" x="171" y="280" fill="#9716a8"/><rect class="c" x="174" y="280" fill="#9416a8"/><rect class="c" x="177" y="280" fill="#8f15a8"/><rect class="c" x="180" y="280" fill="#8a14a8"/><rect class="c" x="183" y="280" fill="#8413a8"/><rect class="c" x="186" y="280" fill="#7f13a8"/><rect class="c" x="189" y="280" fill="#7812a8"/><rect class="c" x="192" y="280" fill="#7110a7"/><rect class="c" x="195" y="280" fill="#6b0fa7"/><rect class="c" x="198" y="280" fill="#660ea6"/><rect class="c" x="201" y="280" fill="#620ea6"/><rect class="c" x="204" y="280" fill="#600ea6"/><rect class="c" x="207" y="280" fill="#5e0ea6"/><rect class="c" x="210" y="280" fill="#5d0ea6"/><rect class="c" x="213" y="280" fill="#5c0ea6"/><rect class="c" x="216" y="280" fill="#5c0ea6"/><rect class="c" x="12" y="283" fill="#9f1f96"/><rect class="c" x="15" y="283" fill="#a01f95"/><rect class="c" x="18" y="283" fill="#b7288a"/><rect class="c" x="21" y="283" fill="#bc2d81"/><rect class="c" x="24" y="283" fill="#c03574"/><rect class="c" x="27" y="283" fill="#c63a6e"/><rect class="c" x="30" y="283" fill="#cb3f69"/><rect class="c" x="33" y="283" fill="#ce495f"/><rect class="c" x="36" y="283" fill="#d35057"/><rect class="c" x="39" y="283" fill="#d85554"/><rect class="c" x="42" y="283" fill="#db5f51"/><rect class="c" x="45" y="283" fill="#de694c"/><rect class="c" x="48" y="283" fill="#e3704b"/><rect class="c" x="51" y="283" fill="#e6794c"/><rect class="c" x="54" y="283" fill="#e8864f"/><rect class="c" x="57" y="283" fill="#ed904b"/><rect class="c" x="60" y="283" fill="#f2984c"/><rect class="c" x="63" y="283" fill="#f4a04b"/><rect class="c" x="66" y="283" fill="#f6a84a"/><rect class="c" x="69" y="283" fill="#f7b054"/><rect class="c" x="72" y="283" fill="#f8b557"/><rect class="c" x="75" y="283" fill="#f8b957"/><rect class="c" x="78" y="283" fill="#f9bc5e"/><rect class="c" x="81" y="283" fill="#f9bb5e"/><rect class="c" x="84" y="283" fill="#f9b656"/><rect class="c" x="87" y="283" fill="#f9b04c"/><rect class="c" x="90" y="283" fill="#f8a43d"/><rect class="c" x="93" y="283" fill="#f7972e"/><rect class="c" x="96" y="283" fill="#f58a2f"/><rect class="c" x="99" y="283" fill="#e15155"/><rect class="c" x="102" y="283" fill="#f38431"/><rect class="c" x="105" y="283" fill="#f5963b"/><rect class="c" x="108" y="283" fill="#f59d4e"/><rect class="c" x="111" y="283" fill="#f6ab6b"/><rect class="c" x="114" y="283" fill="#f39965"/><rect class="c" x="117" y="283" fill="#f08255"/><rect class="c" x="120" y="283" fill="#ee7248"/><rect class="c" x="123" y="283" fill="#e76256"/><rect class="c" x="126" y="283" fill="#dd456c"/><rect class="c" x="129" y="283" fill="#db3c6f"/><rect class="c" x="132" y="283" fill="#ce3280"/><rect class="c" x="135" y="283" fill="#c1298f"/><rect class="c" x="138" y="283" fill="#b51f9e"/><rect class="c" x="141" y="283" fill="#a519a6"/><rect class="c" x="144" y="283" fill="#9917a7"/><rect class="c" x="147" y="283" fill="#8f15a8"/><rect class="c" x="150" y="283" fill="#8e14a8"/><rect class="c" x="153" y="283" fill="#9415a8"/><rect class="c" x="156" y="283" fill="#9916a8"/><rect class="c" x="159" y="283" fill="#9c16a8"/><rect class="c" x="162" y="283" fill="#9c16a8"/><rect class="c" x="165" y="283" fill="#9a16a8"/><rect class="c" x="168" y="283" fill="#9916a8"/><rect class="c" x="171" y="283" fill="#9716a8"/><rect class="c" x="174" y="283" fill="#9416a8"/><rect class="c" x="177" y="283" fill="#8f15a8"/><rect class="c" x="180" y="283" fill="#8a14a8"/><rect class="c" x="183" y="283" fill="#8413a8"/><rect class="c" x="186" y="283" fill="#7f13a8"/><rect class="c" x="189" y="283" fill="#7812a8"/><rect class="c" x="192" y="283" fill="#7110a7"/><rect class="c" x="195" y="283" fill="#6a0fa7"/><rect class="c" x="198" y="283" fill="#650ea6"/><rect class="c" x="201" y="283" fill="#620ea6"/><rect class="c" x="204" y="283" fill="#600ea6"/><rect class="c" x="207" y="283" fill="#5e0ea6"/><rect class="c" x="210" y="283" fill="#5d0ea6"/><rect class="c" x="213" y="283" fill="#5c0ea6"/><rect class="c" x="216" y="283" fill="#5c0ea6"/><rect class="c" x="12" y="286" fill="#d42e80"/><rect class="c" x="15" y="286" fill="#d6307b"/><rect class="c" x="18" y="286" fill="#d83278"/><rect class="c" x="21" y="286" fill="#dd396f"/><rect class="c" x="24" y="286" fill="#e14062"/><rect class="c" x="27" y="286" fill="#e54856"/><rect class="c" x="30" y="286" fill="#e8514b"/><rect class="c" x="33" y="286" fill="#eb5b42"/><rect class="c" x="36" y="286" fill="#ee6537"/><rect class="c" x="39" y="286" fill="#f16e30"/><rect class="c" x="42" y="286" fill="#f3782c"/><rect class="c" x="45" y="286" fill="#f58428"/><rect class="c" x="48" y="286" fill="#f89026"/><rect class="c" x="51" y="286" fill="#fa9e29"/><rect class="c" x="54" y="286" fill="#fbab2d"/><rect class="c" x="57" y="286" fill="#fdb830"/><rect class="c" x="60" y="286" fill="#fdc53c"/><rect class="c" x="63" y="286" fill="#fecf4a"/><rect class="c" x="66" y="286" fill="#fed954"/><rect class="c" x="69" y="286" fill="#ffe05e"/><rect class="c" x="72" y="286" fill="#ffe568"/><rect class="c" x="75" y="286" fill="#ffe873"/><rect class="c" x="78" y="286" fill="#ffeb80"/><rect class="c" x="81" y="286" fill="#ffec87"/><rect class="c" x="84" y="286" fill="#ffe57e"/><rect class="c" x="87" y="286" fill="#fed96e"/><rect class="c" x="90" y="286" fill="#fdcc55"/><rect class="c" x="93" y="286" fill="#fcbd3f"/><rect class="c" x="96" y="286" fill="#faa834"/><rect class="c" x="99" y="286" fill="#dc5e5e"/><rect class="c" x="102" y="286" fill="#e66b5b"/><rect class="c" x="105" y="286" fill="#fbb74e"/><rect class="c" x="108" y="286" fill="#fdd46a"/><rect class="c" x="111" y="286" fill="#fee48e"/><rect class="c" x="114" y="286" fill="#ffea93"/><rect class="c" x="117" y="286" fill="#fdd97b"/><rect class="c" x="120" y="286" fill="#fbc358"/><rect class="c" x="123" y="286" fill="#f9a936"/><rect class="c" x="126" y="286" fill="#ec7c4d"/><rect class="c" x="129" y="286" fill="#e55e56"/><rect class="c" x="132" y="286" fill="#e95f43"/><rect class="c" x="135" y="286" fill="#d54664"/><rect class="c" x="138" y="286" fill="#c6347e"/><rect class="c" x="141" y="286" fill="#c7337d"/><rect class="c" x="144" y="286" fill="#ba2d85"/><rect class="c" x="147" y="286" fill="#af288d"/><rect class="c" x="150" y="286" fill="#ae288d"/><rect class="c" x="153" y="286" fill="#b02691"/><rect class="c" x="156" y="286" fill="#b22595"/><rect class="c" x="159" y="286" fill="#a61ba2"/><rect class="c" x="162" y="286" fill="#a51ba2"/><rect class="c" x="165" y="286" fill="#a41ba2"/><rect class="c" x="168" y="286" fill="#a21ba2"/><rect class="c" x="171" y="286" fill="#a91ea0"/><rect class="c" x="174" y="286" fill="#a21ba4"/><rect class="c" x="177" y="286" fill="#9918a6"/><rect class="c" x="180" y="286" fill="#9417a6"/><rect class="c" x="183" y="286" fill="#8e17a6"/><rect class="c" x="186" y="286" fill="#8e17a5"/><rect class="c" x="189" y="286" fill="#941aa5"/><rect class="c" x="192" y="286" fill="#8c17a6"/><rect class="c" x="195" y="286" fill="#7e14a6"/><rect class="c" x="198" y="286" fill="#670fa6"/><rect class="c" x="201" y="286" fill="#620ea6"/><rect class="c" x="204" y="286" fill="#600ea6"/><rect class="c" x="207" y="286" fill="#5e0ea6"/><rect class="c" x="210" y="286" fill="#5b0ea6"/><rect class="c" x="213" y="286" fill="#5a0ea6"/><rect class="c" x="216" y="286" fill="#5a0ea6"/><rect class="c" x="12" y="289" fill="#d93274"/><rect class="c" x="15" y="289" fill="#d83178"/><rect class="c" x="18" y="289" fill="#db3570"/><rect class="c" x="21" y="289" fill="#df3b68"/><rect class="c" x="24" y="289" fill="#e3435c"/><rect class="c" x="27" y="289" fill="#e74b51"/><rect class="c" x="30" y="289" fill="#e95447"/><rect class="c" x="33" y="289" fill="#ec5e3e"/><rect class="c" x="36" y="289" fill="#ef6834"/><rect class="c" x="39" y="289" fill="#f1712c"/><rect class="c" x="42" y="289" fill="#f37b29"/><rect class="c" x="45" y="289" fill="#f58527"/><rect class="c" x="48" y="289" fill="#f89124"/><rect class="c" x="51" y="289" fill="#fa9f28"/><rect class="c" x="54" y="289" fill="#fbaf30"/><rect class="c" x="57" y="289" fill="#fdbc33"/><rect class="c" x="60" y="289" fill="#fec83f"/><rect class="c" x="63" y="289" fill="#fed454"/><rect class="c" x="66" y="289" fill="#fede62"/><rect class="c" x="69" y="289" fill="#ffe66c"/><rect class="c" x="72" y="289" fill="#ffea77"/><rect class="c" x="75" y="289" fill="#ffed83"/><rect class="c" x="78" y="289" fill="#ffef92"/><rect class="c" x="81" y="289" fill="#fff1a2"/><rect class="c" x="84" y="289" fill="#ffec9c"/><rect class="c" x="87" y="289" fill="#fee186"/><rect class="c" x="90" y="289" fill="#fed56a"/><rect class="c" x="93" y="289" fill="#fdc74d"/><rect class="c" x="96" y="289" fill="#fbb339"/><rect class="c" x="99" y="289" fill="#d56065"/><rect class="c" x="102" y="289" fill="#de6d62"/><rect class="c" x="105" y="289" fill="#fcc560"/><rect class="c" x="108" y="289" fill="#fee289"/><rect class="c" x="111" y="289" fill="#ffeeaa"/><rect class="c" x="114" y="289" fill="#fff2ad"/><rect class="c" x="117" y="289" fill="#ffe985"/><rect class="c" x="120" y="289" fill="#fed961"/><rect class="c" x="123" y="289" fill="#fdc442"/><rect class="c" x="126" y="289" fill="#f9a52f"/><rect class="c" x="129" y="289" fill="#f07e39"/><rect class="c" x="132" y="289" fill="#ef7235"/><rect class="c" x="135" y="289" fill="#f06f2b"/><rect class="c" x="138" y="289" fill="#dd5151"/><rect class="c" x="141" y="289" fill="#da475b"/><rect class="c" x="144" y="289" fill="#e14953"/><rect class="c" x="147" y="289" fill="#de475c"/><rect class="c" x="150" y="289" fill="#d84169"/><rect class="c" x="153" y="289" fill="#da406d"/><rect class="c" x="156" y="289" fill="#d93c76"/><rect class="c" x="159" y="289" fill="#d7387f"/><rect class="c" x="162" y="289" fill="#bb2696"/><rect class="c" x="165" y="289" fill="#b92696"/><rect class="c" x="168" y="289" fill="#c32b92"/><rect class="c" x="171" y="289" fill="#c12994"/><rect class="c" x="174" y="289" fill="#c72b93"/><rect class="c" x="177" y="289" fill="#ba259b"/><rect class="c" x="180" y="289" fill="#aa1fa2"/><rect class="c" x="183" y="289" fill="#a51ea2"/><rect class="c" x="186" y="289" fill="#ae21a0"/><rect class="c" x="189" y="289" fill="#ad21a1"/><rect class="c" x="192" y="289" fill="#b222a2"/><rect class="c" x="195" y="289" fill="#9d1ca6"/><rect class="c" x="198" y="289" fill="#7c14a7"/><rect class="c" x="201" y="289" fill="#640fa7"/><rect class="c" x="204" y="289" fill="#5f0ea6"/><rect class="c" x="207" y="289" fill="#5d0ea6"/><rect class="c" x="210" y="289" fill="#5a0ea6"/><rect class="c" x="213" y="289" fill="#590ea6"/><rect class="c" x="216" y="289" fill="#580ea6"/><rect class="c" x="12" y="292" fill="#de3668"/><rect class="c" x="15" y="292" fill="#de3668"/><rect class="c" x="18" y="292" fill="#de376a"/><rect class="c" x="21" y="292" fill="#e13d62"/><rect class="c" x="24" y="292" fill="#e54557"/><rect class="c" x="27" y="292" fill="#e84d4c"/><rect class="c" x="30" y="292" fill="#eb5642"/><rect class="c" x="33" y="292" fill="#ed6039"/><rect class="c" x="36" y="292" fill="#ef6a30"/><rect class="c" x="39" y="292" fill="#f27429"/><rect class="c" x="42" y="292" fill="#f47e26"/><rect class="c" x="45" y="292" fill="#f68724"/><rect class="c" x="48" y="292" fill="#f89223"/><rect class="c" x="51" y="292" fill="#faa027"/><rect class="c" x="54" y="292" fill="#fbb02f"/><rect class="c" x="57" y="292" fill="#fdc037"/><rect class="c" x="60" y="292" fill="#fecc43"/><rect class="c" x="63" y="292" fill="#fed758"/><rect class="c" x="66" y="292" fill="#ffe36d"/><rect class="c" x="69" y="292" fill="#ffeb7c"/><rect class="c" x="72" y="292" fill="#ffef88"/><rect class="c" x="75" y="292" fill="#fff196"/><rect class="c" x="78" y="292" fill="#fff4a5"/><rect class="c" x="81" y="292" fill="#fff6b6"/><rect class="c" x="84" y="292" fill="#fff4b5"/><rect class="c" x="87" y="292" fill="#ffe99b"/><rect class="c" x="90" y="292" fill="#ffdf77"/><rect class="c" x="93" y="292" fill="#fed254"/><rect class="c" x="96" y="292" fill="#fdbe3e"/><rect class="c" x="99" y="292" fill="#cd626b"/><rect class="c" x="102" y="292" fill="#d6706a"/><rect class="c" x="105" y="292" fill="#fdd372"/><rect class="c" x="108" y="292" fill="#ffeda6"/><rect class="c" x="111" y="292" fill="#fff7c5"/><rect class="c" x="114" y="292" fill="#fff7c5"/><rect class="c" x="117" y="292" fill="#ffef9c"/><rect class="c" x="120" y="292" fill="#ffe06b"/><rect class="c" x="123" y="292" fill="#fdcb4c"/><rect class="c" x="126" y="292" fill="#fcb031"/><rect class="c" x="129" y="292" fill="#f6922a"/><rect class="c" x="132" y="292" fill="#f58427"/><rect class="c" x="135" y="292" fill="#f2752a"/><rect class="c" x="138" y="292" fill="#ed6531"/><rect class="c" x="141" y="292" fill="#e55543"/><rect class="c" x="144" y="292" fill="#e85341"/><rect class="c" x="147" y="292" fill="#e74e4a"/><rect class="c" x="150" y="292" fill="#e74b56"/><rect class="c" x="153" y="292" fill="#e64762"/><rect class="c" x="156" y="292" fill="#e4436b"/><rect class="c" x="159" y="292" fill="#e23f74"/><rect class="c" x="162" y="292" fill="#df3b7e"/><rect class="c" x="165" y="292" fill="#d13289"/><rect class="c" x="168" y="292" fill="#cf308b"/><rect class="c" x="171" y="292" fill="#d8338a"/><rect class="c" x="174" y="292" fill="#d5308e"/><rect class="c" x="177" y="292" fill="#d22e92"/><rect class="c" x="180" y="292" fill="#ca2b97"/><rect class="c" x="183" y="292" fill="#be269d"/><rect class="c" x="186" y="292" fill="#b8249f"/><rect class="c" x="189" y="292" fill="#c1279f"/><rect class="c" x="192" y="292" fill="#ba24a2"/><rect class="c" x="195" y="292" fill="#a11da5"/><rect class="c" x="198" y="292" fill="#8115a7"/><rect class="c" x="201" y="292" fill="#6510a8"/><rect class="c" x="204" y="292" fill="#600fa7"/><rect class="c" x="207" y="292" fill="#5d0ea6"/><rect class="c" x="210" y="292" fill="#5a0ea6"/><rect class="c" x="213" y="292" fill="#580ea6"/><rect class="c" x="216" y="292" fill="#580ea6"/><rect class="c" x="12" y="295" fill="#de3668"/><rect class="c" x="15" y="295" fill="#df3867"/><rect class="c" x="18" y="295" fill="#e03965"/><rect class="c" x="21" y="295" fill="#e33f5e"/><rect class="c" x="24" y="295" fill="#e64754"/><rect class="c" x="27" y="295" fill="#e94f49"/><rect class="c" x="30" y="295" fill="#ec583f"/><rect class="c" x="33" y="295" fill="#ee6236"/><rect class="c" x="36" y="295" fill="#f06c2d"/><rect class="c" x="39" y="295" fill="#f27526"/><rect class="c" x="42" y="295" fill="#f47e23"/><rect class="c" x="45" y="295" fill="#f68822"/><rect class="c" x="48" y="295" fill="#f89120"/><rect class="c" x="51" y="295" fill="#f99b22"/><rect class="c" x="54" y="295" fill="#fbab2a"/><rect class="c" x="57" y="295" fill="#fdba32"/><rect class="c" x="60" y="295" fill="#fec437"/><rect class="c" x="63" y="295" fill="#fed04c"/><rect class="c" x="66" y="295" fill="#fedb61"/><rect class="c" x="69" y="295" fill="#fee474"/><rect class="c" x="72" y="295" fill="#ffe883"/><rect class="c" x="75" y="295" fill="#ffea8f"/><rect class="c" x="78" y="295" fill="#ffec97"/><rect class="c" x="81" y="295" fill="#ffeea7"/><rect class="c" x="84" y="295" fill="#ffefb3"/><rect class="c" x="87" y="295" fill="#ffe89c"/><rect class="c" x="90" y="295" fill="#ffde76"/><rect class="c" x="93" y="295" fill="#fed256"/><rect class="c" x="96" y="295" fill="#fdc03f"/><rect class="c" x="99" y="295" fill="#cd686b"/><rect class="c" x="102" y="295" fill="#cd656c"/><rect class="c" x="105" y="295" fill="#fdd061"/><rect class="c" x="108" y="295" fill="#ffeb9a"/><rect class="c" x="111" y="295" fill="#fff0b6"/><rect class="c" x="114" y="295" fill="#fff0b6"/><rect class="c" x="117" y="295" fill="#ffe78d"/><rect class="c" x="120" y="295" fill="#fedb6f"/><rect class="c" x="123" y="295" fill="#fdc54a"/><rect class="c" x="126" y="295" fill="#fbac32"/><rect class="c" x="129" y="295" fill="#f99826"/><rect class="c" x="132" y="295" fill="#f58526"/><rect class="c" x="135" y="295" fill="#f2752a"/><rect class="c" x="138" y="295" fill="#ee6732"/><rect class="c" x="141" y="295" fill="#eb5c38"/><rect class="c" x="144" y="295" fill="#e9553e"/><rect class="c" x="147" y="295" fill="#e84f47"/><rect class="c" x="150" y="295" fill="#e84b53"/><rect class="c" x="153" y="295" fill="#e7485f"/><rect class="c" x="156" y="295" fill="#e5446a"/><rect class="c" x="159" y="295" fill="#e24073"/><rect class="c" x="162" y="295" fill="#df3c7b"/><rect class="c" x="165" y="295" fill="#dd3882"/><rect class="c" x="168" y="295" fill="#da3686"/><rect class="c" x="171" y="295" fill="#d8328a"/><rect class="c" x="174" y="295" fill="#d5308e"/><rect class="c" x="177" y="295" fill="#d22e92"/><rect class="c" x="180" y="295" fill="#ce2c96"/><rect class="c" x="183" y="295" fill="#cb2a99"/><rect class="c" x="186" y="295" fill="#c6289c"/><rect class="c" x="189" y="295" fill="#bf269f"/><rect class="c" x="192" y="295" fill="#b723a2"/><rect class="c" x="195" y="295" fill="#a11da5"/><rect class="c" x="198" y="295" fill="#7a13a7"/><rect class="c" x="201" y="295" fill="#6710a8"/><rect class="c" x="204" y="295" fill="#610fa7"/><rect class="c" x="207" y="295" fill="#5e0fa7"/><rect class="c" x="210" y="295" fill="#5a0ea6"/><rect class="c" x="213" y="295" fill="#580ea6"/><rect class="c" x="216" y="295" fill="#580ea6"/><rect class="c" x="12" y="298" fill="#e13b64"/><rect class="c" x="15" y="298" fill="#e03966"/><rect class="c" x="18" y="298" fill="#e23c63"/><rect class="c" x="21" y="298" fill="#e4415c"/><rect class="c" x="24" y="298" fill="#e64852"/><rect class="c" x="27" y="298" fill="#e95048"/><rect class="c" x="30" y="298" fill="#ec593e"/><rect class="c" x="33" y="298" fill="#ee6235"/><rect class="c" x="36" y="298" fill="#f06c2c"/><rect class="c" x="39" y="298" fill="#f27426"/><rect class="c" x="42" y="298" fill="#f47d22"/><rect class="c" x="45" y="298" fill="#f68620"/><rect class="c" x="48" y="298" fill="#f88f1f"/><rect class="c" x="51" y="298" fill="#f9961e"/><rect class="c" x="54" y="298" fill="#faa021"/><rect class="c" x="57" y="298" fill="#fcaf29"/><rect class="c" x="60" y="298" fill="#fdb92e"/><rect class="c" x="63" y="298" fill="#fdbd30"/><rect class="c" x="66" y="298" fill="#fdc945"/><rect class="c" x="69" y="298" fill="#fed158"/><rect class="c" x="72" y="298" fill="#fed565"/><rect class="c" x="75" y="298" fill="#fed76d"/><rect class="c" x="78" y="298" fill="#fed972"/><rect class="c" x="81" y="298" fill="#feda76"/><rect class="c" x="84" y="298" fill="#fedb81"/><rect class="c" x="87" y="298" fill="#fed982"/><rect class="c" x="90" y="298" fill="#fed168"/><rect class="c" x="93" y="298" fill="#fdc649"/><rect class="c" x="96" y="298" fill="#fcb63a"/><rect class="c" x="99" y="298" fill="#cc646a"/><rect class="c" x="102" y="298" fill="#cc5e69"/><rect class="c" x="105" y="298" fill="#fcc04b"/><rect class="c" x="108" y="298" fill="#fed871"/><rect class="c" x="111" y="298" fill="#fedc7e"/><rect class="c" x="114" y="298" fill="#fedc7e"/><rect class="c" x="117" y="298" fill="#fed367"/><rect class="c" x="120" y="298" fill="#fdc74a"/><rect class="c" x="123" y="298" fill="#fbb53c"/><rect class="c" x="126" y="298" fill="#f99f2b"/><rect class="c" x="129" y="298" fill="#f78d22"/><rect class="c" x="132" y="298" fill="#f47f26"/><rect class="c" x="135" y="298" fill="#f0702b"/><rect class="c" x="138" y="298" fill="#ed6333"/><rect class="c" x="141" y="298" fill="#ea593d"/><rect class="c" x="144" y="298" fill="#e85244"/><rect class="c" x="147" y="298" fill="#e74c4d"/><rect class="c" x="150" y="298" fill="#e64959"/><rect class="c" x="153" y="298" fill="#e64663"/><rect class="c" x="156" y="298" fill="#e4436d"/><rect class="c" x="159" y="298" fill="#e13f76"/><rect class="c" x="162" y="298" fill="#df3b7d"/><rect class="c" x="165" y="298" fill="#dc3882"/><rect class="c" x="168" y="298" fill="#da3686"/><rect class="c" x="171" y="298" fill="#d8328a"/><rect class="c" x="174" y="298" fill="#d5308e"/><rect class="c" x="177" y="298" fill="#d22e92"/><rect class="c" x="180" y="298" fill="#ce2c95"/><rect class="c" x="183" y="298" fill="#cb2b98"/><rect class="c" x="186" y="298" fill="#c7299b"/><rect class="c" x="189" y="298" fill="#c1269e"/><rect class="c" x="192" y="298" fill="#b723a1"/><rect class="c" x="195" y="298" fill="#a31da5"/><rect class="c" x="198" y="298" fill="#7b13a7"/><rect class="c" x="201" y="298" fill="#660fa7"/><rect class="c" x="204" y="298" fill="#610fa7"/><rect class="c" x="207" y="298" fill="#5f0fa7"/><rect class="c" x="210" y="298" fill="#5b0ea6"/><rect class="c" x="213" y="298" fill="#5b0ea6"/><rect class="c" x="216" y="298" fill="#5a0ea6"/><rect class="c" x="12" y="301" fill="#e44060"/><rect class="c" x="15" y="301" fill="#e44060"/><rect class="c" x="18" y="301" fill="#e33f60"/><rect class="c" x="21" y="301" fill="#e5445a"/><rect class="c" x="24" y="301" fill="#e74a50"/><rect class="c" x="27" y="301" fill="#ea5146"/><rect class="c" x="30" y="301" fill="#ec5a3d"/><rect class="c" x="33" y="301" fill="#ef6334"/><rect class="c" x="36" y="301" fill="#f06c2c"/><rect class="c" x="39" y="301" fill="#f27425"/><rect class="c" x="42" y="301" fill="#f47c22"/><rect class="c" x="45" y="301" fill="#f6851f"/><rect class="c" x="48" y="301" fill="#f88d1e"/><rect class="c" x="51" y="301" fill="#f9941d"/><rect class="c" x="54" y="301" fill="#fa9a1d"/><rect class="c" x="57" y="301" fill="#fba420"/><rect class="c" x="60" y="301" fill="#fcae25"/><rect class="c" x="63" y="301" fill="#fcb227"/><rect class="c" x="66" y="301" fill="#fcb62a"/><rect class="c" x="69" y="301" fill="#fdbe3a"/><rect class="c" x="72" y="301" fill="#fdc243"/><rect class="c" x="75" y="301" fill="#fdc448"/><rect class="c" x="78" y="301" fill="#fdc648"/><rect class="c" x="81" y="301" fill="#fec74a"/><rect class="c" x="84" y="301" fill="#fdc74e"/><rect class="c" x="87" y="301" fill="#fdc550"/><rect class="c" x="90" y="301" fill="#fdc24e"/><rect class="c" x="93" y="301" fill="#fcb93b"/><rect class="c" x="96" y="301" fill="#fbaa30"/><rect class="c" x="99" y="301" fill="#ca5f69"/><rect class="c" x="102" y="301" fill="#ca5765"/><rect class="c" x="105" y="301" fill="#fbaf34"/><rect class="c" x="108" y="301" fill="#fdc54b"/><rect class="c" x="111" y="301" fill="#fdc94d"/><rect class="c" x="114" y="301" fill="#fdc852"/><rect class="c" x="117" y="301" fill="#fcbf41"/><rect class="c" x="120" y="301" fill="#fbb235"/><rect class="c" x="123" y="301" fill="#faa42e"/><rect class="c" x="126" y="301" fill="#f79225"/><rect class="c" x="129" y="301" fill="#f58423"/><rect class="c" x="132" y="301" fill="#f37826"/><rect class="c" x="135" y="301" fill="#ef6c2d"/><rect class="c" x="138" y="301" fill="#ec6036"/><rect class="c" x="141" y="301" fill="#e95640"/><rect class="c" x="144" y="301" fill="#e74f4a"/><rect class="c" x="147" y="301" fill="#e64a53"/><rect class="c" x="150" y="301" fill="#e5475d"/><rect class="c" x="153" y="301" fill="#e44466"/><rect class="c" x="156" y="301" fill="#e24270"/><rect class="c" x="159" y="301" fill="#e03e78"/><rect class="c" x="162" y="301" fill="#de3b7f"/><rect class="c" x="165" y="301" fill="#dc3882"/><rect class="c" x="168" y="301" fill="#da3586"/><rect class="c" x="171" y="301" fill="#d8328a"/><rect class="c" x="174" y="301" fill="#d5308e"/><rect class="c" x="177" y="301" fill="#d22e92"/><rect class="c" x="180" y="301" fill="#cf2c95"/><rect class="c" x="183" y="301" fill="#cc2b98"/><rect class="c" x="186" y="301" fill="#c8299a"/><rect class="c" x="189" y="301" fill="#c2279d"/><rect class="c" x="192" y="301" fill="#b823a1"/><rect class="c" x="195" y="301" fill="#a41da4"/><rect class="c" x="198" y="301" fill="#7c13a6"/><rect class="c" x="201" y="301" fill="#650fa6"/><rect class="c" x="204" y="301" fill="#610ea6"/><rect class="c" x="207" y="301" fill="#5f0ea6"/><rect class="c" x="210" y="301" fill="#5d0ea6"/><rect class="c" x="213" y="301" fill="#5b0ea6"/><rect class="c" x="216" y="301" fill="#5c0ea6"/><rect class="c" x="12" y="304" fill="#e44060"/><rect class="c" x="15" y="304" fill="#e44061"/><rect class="c" x="18" y="304" fill="#e44060"/><rect class="c" x="21" y="304" fill="#e64559"/><rect class="c" x="24" y="304" fill="#e84b50"/><rect class="c" x="27" y="304" fill="#ea5246"/><rect class="c" x="30" y="304" fill="#ec593d"/><rect class="c" x="33" y="304" fill="#ee6235"/><rect class="c" x="36" y="304" fill="#f06a2c"/><rect class="c" x="39" y="304" fill="#f27225"/><rect class="c" x="42" y="304" fill="#f47a22"/><rect class="c" x="45" y="304" fill="#f58320"/><rect class="c" x="48" y="304" fill="#f78a1d"/><rect class="c" x="51" y="304" fill="#f8911c"/><rect class="c" x="54" y="304" fill="#f9971c"/><rect class="c" x="57" y="304" fill="#fa9d1c"/><rect class="c" x="60" y="304" fill="#fba41f"/><rect class="c" x="63" y="304" fill="#fba821"/><rect class="c" x="66" y="304" fill="#fbac23"/><rect class="c" x="69" y="304" fill="#fcae25"/><rect class="c" x="72" y="304" fill="#fcb22b"/><rect class="c" x="75" y="304" fill="#fcb42b"/><rect class="c" x="78" y="304" fill="#fcb52c"/><rect class="c" x="81" y="304" fill="#fdb72d"/><rect class="c" x="84" y="304" fill="#fcb62d"/><rect class="c" x="87" y="304" fill="#fcb42d"/><rect class="c" x="90" y="304" fill="#fcb12c"/><rect class="c" x="93" y="304" fill="#fbac2b"/><rect class="c" x="96" y="304" fill="#fa9f27"/><rect class="c" x="99" y="304" fill="#c85a66"/><rect class="c" x="102" y="304" fill="#c95264"/><rect class="c" x="105" y="304" fill="#f9a129"/><rect class="c" x="108" y="304" fill="#fcb431"/><rect class="c" x="111" y="304" fill="#fcb833"/><rect class="c" x="114" y="304" fill="#fcb533"/><rect class="c" x="117" y="304" fill="#fbac2c"/><rect class="c" x="120" y="304" fill="#f99f27"/><rect class="c" x="123" y="304" fill="#f89525"/><rect class="c" x="126" y="304" fill="#f68822"/><rect class="c" x="129" y="304" fill="#f37d25"/><rect class="c" x="132" y="304" fill="#f17128"/><rect class="c" x="135" y="304" fill="#ee662f"/><rect class="c" x="138" y="304" fill="#eb5c3a"/><rect class="c" x="141" y="304" fill="#e85344"/><rect class="c" x="144" y="304" fill="#e64d4e"/><rect class="c" x="147" y="304" fill="#e54958"/><rect class="c" x="150" y="304" fill="#e34661"/><rect class="c" x="153" y="304" fill="#e2436a"/><rect class="c" x="156" y="304" fill="#e14073"/><rect class="c" x="159" y="304" fill="#e03d7a"/><rect class="c" x="162" y="304" fill="#dd3a7f"/><rect class="c" x="165" y="304" fill="#db3883"/><rect class="c" x="168" y="304" fill="#d93587"/><rect class="c" x="171" y="304" fill="#d7328b"/><rect class="c" x="174" y="304" fill="#d5308f"/><rect class="c" x="177" y="304" fill="#d22e92"/><rect class="c" x="180" y="304" fill="#cf2c95"/><rect class="c" x="183" y="304" fill="#cb2b97"/><rect class="c" x="186" y="304" fill="#c8299a"/><rect class="c" x="189" y="304" fill="#c2279d"/><rect class="c" x="192" y="304" fill="#b723a0"/><rect class="c" x="195" y="304" fill="#a51ea3"/><rect class="c" x="198" y="304" fill="#7e14a5"/><rect class="c" x="201" y="304" fill="#630ea6"/><rect class="c" x="204" y="304" fill="#610ea6"/><rect class="c" x="207" y="304" fill="#5f0ea6"/><rect class="c" x="210" y="304" fill="#5d0ea6"/><rect class="c" x="213" y="304" fill="#5c0ea6"/><rect class="c" x="216" y="304" fill="#5c0ea6"/><rect class="c" x="12" y="307" fill="#e44060"/><rect class="c" x="15" y="307" fill="#e43f62"/><rect class="c" x="18" y="307" fill="#e44062"/><rect class="c" x="21" y="307" fill="#e5445b"/><rect class="c" x="24" y="307" fill="#e84b52"/><rect class="c" x="27" y="307" fill="#ea5148"/><rect class="c" x="30" y="307" fill="#ec5740"/><rect class="c" x="33" y="307" fill="#ee5f38"/><rect class="c" x="36" y="307" fill="#ef672f"/><rect class="c" x="39" y="307" fill="#f16f28"/><rect class="c" x="42" y="307" fill="#f27624"/><rect class="c" x="45" y="307" fill="#f47e21"/><rect class="c" x="48" y="307" fill="#f6861f"/><rect class="c" x="51" y="307" fill="#f78c1c"/><rect class="c" x="54" y="307" fill="#f8921c"/><rect class="c" x="57" y="307" fill="#f9981c"/><rect class="c" x="60" y="307" fill="#fa9d1d"/><rect class="c" x="63" y="307" fill="#faa120"/><rect class="c" x="66" y="307" fill="#faa421"/><rect class="c" x="69" y="307" fill="#faa622"/><rect class="c" x="72" y="307" fill="#faa622"/><rect class="c" x="75" y="307" fill="#fba823"/><rect class="c" x="78" y="307" fill="#fbaa23"/><rect class="c" x="81" y="307" fill="#fbab24"/><rect class="c" x="84" y="307" fill="#fbab24"/><rect class="c" x="87" y="307" fill="#fba823"/><rect class="c" x="90" y="307" fill="#faa521"/><rect class="c" x="93" y="307" fill="#faa021"/><rect class="c" x="96" y="307" fill="#f89524"/><rect class="c" x="99" y="307" fill="#c65463"/><rect class="c" x="102" y="307" fill="#c64e63"/><rect class="c" x="105" y="307" fill="#f79527"/><rect class="c" x="108" y="307" fill="#faa629"/><rect class="c" x="111" y="307" fill="#faa82b"/><rect class="c" x="114" y="307" fill="#faa62a"/><rect class="c" x="117" y="307" fill="#f89b26"/><rect class="c" x="120" y="307" fill="#f79123"/><rect class="c" x="123" y="307" fill="#f68822"/><rect class="c" x="126" y="307" fill="#f48227"/><rect class="c" x="129" y="307" fill="#f2772a"/><rect class="c" x="132" y="307" fill="#f06b2d"/><rect class="c" x="135" y="307" fill="#ed6134"/><rect class="c" x="138" y="307" fill="#ea573f"/><rect class="c" x="141" y="307" fill="#e75049"/><rect class="c" x="144" y="307" fill="#e54a53"/><rect class="c" x="147" y="307" fill="#e3475c"/><rect class="c" x="150" y="307" fill="#e24565"/><rect class="c" x="153" y="307" fill="#e1426e"/><rect class="c" x="156" y="307" fill="#e03f75"/><rect class="c" x="159" y="307" fill="#de3c7c"/><rect class="c" x="162" y="307" fill="#dd3980"/><rect class="c" x="165" y="307" fill="#db3684"/><rect class="c" x="168" y="307" fill="#d93488"/><rect class="c" x="171" y="307" fill="#d7318c"/><rect class="c" x="174" y="307" fill="#d42f8f"/><rect class="c" x="177" y="307" fill="#d12e92"/><rect class="c" x="180" y="307" fill="#ce2c95"/><rect class="c" x="183" y="307" fill="#cb2a98"/><rect class="c" x="186" y="307" fill="#c8299a"/><rect class="c" x="189" y="307" fill="#c1269d"/><rect class="c" x="192" y="307" fill="#b623a0"/><rect class="c" x="195" y="307" fill="#a51ea3"/><rect class="c" x="198" y="307" fill="#8115a5"/><rect class="c" x="201" y="307" fill="#640ea6"/><rect class="c" x="204" y="307" fill="#610ea6"/><rect class="c" x="207" y="307" fill="#5f0ea6"/><rect class="c" x="210" y="307" fill="#5d0ea6"/><rect class="c" x="213" y="307" fill="#5c0ea6"/><rect class="c" x="216" y="307" fill="#5c0ea6"/><rect class="c" x="12" y="310" fill="#e33e66"/><rect class="c" x="15" y="310" fill="#e33f64"/><rect class="c" x="18" y="310" fill="#e33f64"/><rect class="c" x="21" y="310" fill="#e5435e"/><rect class="c" x="24" y="310" fill="#e74a54"/><rect class="c" x="27" y="310" fill="#e9504b"/><rect class="c" x="30" y="310" fill="#eb5642"/><rect class="c" x="33" y="310" fill="#ed5c3b"/><rect class="c" x="36" y="310" fill="#ee6433"/><rect class="c" x="39" y="310" fill="#f06c2c"/><rect class="c" x="42" y="310" fill="#f17227"/><rect class="c" x="45" y="310" fill="#f37924"/><rect class="c" x="48" y="310" fill="#f58121"/><rect class="c" x="51" y="310" fill="#f6871e"/><rect class="c" x="54" y="310" fill="#f78c1c"/><rect class="c" x="57" y="310" fill="#f8921c"/><rect class="c" x="60" y="310" fill="#f9971d"/><rect class="c" x="63" y="310" fill="#f99a1f"/><rect class="c" x="66" y="310" fill="#f99c20"/><rect class="c" x="69" y="310" fill="#f99d20"/><rect class="c" x="72" y="310" fill="#f99d20"/><rect class="c" x="75" y="310" fill="#f99e20"/><rect class="c" x="78" y="310" fill="#f9a021"/><rect class="c" x="81" y="310" fill="#faa122"/><rect class="c" x="84" y="310" fill="#f9a021"/><rect class="c" x="87" y="310" fill="#f99e20"/><rect class="c" x="90" y="310" fill="#f99b1f"/><rect class="c" x="93" y="310" fill="#f89620"/><rect class="c" x="96" y="310" fill="#f68c22"/><rect class="c" x="99" y="310" fill="#c34f62"/><rect class="c" x="102" y="310" fill="#c34a63"/><rect class="c" x="105" y="310" fill="#f58b25"/><rect class="c" x="108" y="310" fill="#f79826"/><rect class="c" x="111" y="310" fill="#f79a28"/><rect class="c" x="114" y="310" fill="#f79627"/><rect class="c" x="117" y="310" fill="#f68d24"/><rect class="c" x="120" y="310" fill="#f48423"/><rect class="c" x="123" y="310" fill="#f37d25"/><rect class="c" x="126" y="310" fill="#f2782a"/><rect class="c" x="129" y="310" fill="#f17130"/><rect class="c" x="132" y="310" fill="#ee6632"/><rect class="c" x="135" y="310" fill="#ec5b39"/><rect class="c" x="138" y="310" fill="#e95344"/><rect class="c" x="141" y="310" fill="#e64c4e"/><rect class="c" x="144" y="310" fill="#e44857"/><rect class="c" x="147" y="310" fill="#e24660"/><rect class="c" x="150" y="310" fill="#e14369"/><rect class="c" x="153" y="310" fill="#e04071"/><rect class="c" x="156" y="310" fill="#df3e78"/><rect class="c" x="159" y="310" fill="#de3b7d"/><rect class="c" x="162" y="310" fill="#dc3882"/><rect class="c" x="165" y="310" fill="#da3586"/><rect class="c" x="168" y="310" fill="#d83389"/><rect class="c" x="171" y="310" fill="#d6318d"/><rect class="c" x="174" y="310" fill="#d32f90"/><rect class="c" x="177" y="310" fill="#d02d93"/><rect class="c" x="180" y="310" fill="#cd2c96"/><rect class="c" x="183" y="310" fill="#ca2a99"/><rect class="c" x="186" y="310" fill="#c7289b"/><rect class="c" x="189" y="310" fill="#c0269e"/><rect class="c" x="192" y="310" fill="#b522a1"/><rect class="c" x="195" y="310" fill="#a61ea3"/><rect class="c" x="198" y="310" fill="#8415a5"/><rect class="c" x="201" y="310" fill="#660fa6"/><rect class="c" x="204" y="310" fill="#610ea6"/><rect class="c" x="207" y="310" fill="#5f0ea6"/><rect class="c" x="210" y="310" fill="#5d0ea6"/><rect class="c" x="213" y="310" fill="#5c0ea6"/><rect class="c" x="216" y="310" fill="#5c0ea6"/><rect class="c" x="12" y="313" fill="#e23c6c"/><rect class="c" x="15" y="313" fill="#e23c6b"/><rect class="c" x="18" y="313" fill="#e33e67"/><rect class="c" x="21" y="313" fill="#e44261"/><rect class="c" x="24" y="313" fill="#e64957"/><rect class="c" x="27" y="313" fill="#e84f4e"/><rect class="c" x="30" y="313" fill="#ea5545"/><rect class="c" x="33" y="313" fill="#ec5b3e"/><rect class="c" x="36" y="313" fill="#ee6137"/><rect class="c" x="39" y="313" fill="#ef6830"/><rect class="c" x="42" y="313" fill="#f06f2b"/><rect class="c" x="45" y="313" fill="#f27527"/><rect class="c" x="48" y="313" fill="#f37c24"/><rect class="c" x="51" y="313" fill="#f58221"/><rect class="c" x="54" y="313" fill="#f6871e"/><rect class="c" x="57" y="313" fill="#f78c1c"/><rect class="c" x="60" y="313" fill="#f7901d"/><rect class="c" x="63" y="313" fill="#f8931e"/><rect class="c" x="66" y="313" fill="#f8941e"/><rect class="c" x="69" y="313" fill="#f8941e"/><rect class="c" x="72" y="313" fill="#f8941e"/><rect class="c" x="75" y="313" fill="#f8941e"/><rect class="c" x="78" y="313" fill="#f8951f"/><rect class="c" x="81" y="313" fill="#f8961f"/><rect class="c" x="84" y="313" fill="#f8951f"/><rect class="c" x="87" y="313" fill="#f7931e"/><rect class="c" x="90" y="313" fill="#f7911e"/><rect class="c" x="93" y="313" fill="#f68c1e"/><rect class="c" x="96" y="313" fill="#f48321"/><rect class="c" x="99" y="313" fill="#c04b62"/><rect class="c" x="102" y="313" fill="#c04562"/><rect class="c" x="105" y="313" fill="#f38024"/><rect class="c" x="108" y="313" fill="#f58a23"/><rect class="c" x="111" y="313" fill="#f58b25"/><rect class="c" x="114" y="313" fill="#f48724"/><rect class="c" x="117" y="313" fill="#f38024"/><rect class="c" x="120" y="313" fill="#f27825"/><rect class="c" x="123" y="313" fill="#f17328"/><rect class="c" x="126" y="313" fill="#f06d2d"/><rect class="c" x="129" y="313" fill="#ee6833"/><rect class="c" x="132" y="313" fill="#ed6038"/><rect class="c" x="135" y="313" fill="#ea573f"/><rect class="c" x="138" y="313" fill="#e84f49"/><rect class="c" x="141" y="313" fill="#e54953"/><rect class="c" x="144" y="313" fill="#e3465c"/><rect class="c" x="147" y="313" fill="#e14564"/><rect class="c" x="150" y="313" fill="#e0426c"/><rect class="c" x="153" y="313" fill="#df3f73"/><rect class="c" x="156" y="313" fill="#de3c79"/><rect class="c" x="159" y="313" fill="#dd397f"/><rect class="c" x="162" y="313" fill="#db3783"/><rect class="c" x="165" y="313" fill="#d93487"/><rect class="c" x="168" y="313" fill="#d7328a"/><rect class="c" x="171" y="313" fill="#d5308e"/><rect class="c" x="174" y="313" fill="#d22e91"/><rect class="c" x="177" y="313" fill="#cf2d94"/><rect class="c" x="180" y="313" fill="#cc2b97"/><rect class="c" x="183" y="313" fill="#c92999"/><rect class="c" x="186" y="313" fill="#c6289b"/><rect class="c" x="189" y="313" fill="#bf259e"/><rect class="c" x="192" y="313" fill="#b422a1"/><rect class="c" x="195" y="313" fill="#a61ea3"/><rect class="c" x="198" y="313" fill="#8716a5"/><rect class="c" x="201" y="313" fill="#680fa6"/><rect class="c" x="204" y="313" fill="#610ea6"/><rect class="c" x="207" y="313" fill="#5f0ea6"/><rect class="c" x="210" y="313" fill="#5d0ea6"/><rect class="c" x="213" y="313" fill="#5c0ea6"/><rect class="c" x="216" y="313" fill="#5c0ea6"/><rect class="c" x="12" y="316" fill="#e23c6c"/><rect class="c" x="15" y="316" fill="#e13b6d"/><rect class="c" x="18" y="316" fill="#e23c6c"/><rect class="c" x="21" y="316" fill="#e34066"/><rect class="c" x="24" y="316" fill="#e5465c"/><rect class="c" x="27" y="316" fill="#e74c52"/><rect class="c" x="30" y="316" fill="#e9524a"/><rect class="c" x="33" y="316" fill="#ea5843"/><rect class="c" x="36" y="316" fill="#ec5e3c"/><rect class="c" x="39" y="316" fill="#ee6436"/><rect class="c" x="42" y="316" fill="#ef6a31"/><rect class="c" x="45" y="316" fill="#f0702c"/><rect class="c" x="48" y="316" fill="#f27627"/><rect class="c" x="51" y="316" fill="#f37b24"/><rect class="c" x="54" y="316" fill="#f48021"/><rect class="c" x="57" y="316" fill="#f5851e"/><rect class="c" x="60" y="316" fill="#f6881e"/><rect class="c" x="63" y="316" fill="#f68a1e"/><rect class="c" x="66" y="316" fill="#f68a1e"/><rect class="c" x="69" y="316" fill="#f68b1e"/><rect class="c" x="72" y="316" fill="#f68b1e"/><rect class="c" x="75" y="316" fill="#f68b1e"/><rect class="c" x="78" y="316" fill="#f68c1e"/><rect class="c" x="81" y="316" fill="#f68c1e"/><rect class="c" x="84" y="316" fill="#f68b1e"/><rect class="c" x="87" y="316" fill="#f6891d"/><rect class="c" x="90" y="316" fill="#f5871d"/><rect class="c" x="93" y="316" fill="#f4841e"/><rect class="c" x="96" y="316" fill="#f27b21"/><rect class="c" x="99" y="316" fill="#bd4662"/><rect class="c" x="102" y="316" fill="#bd4262"/><rect class="c" x="105" y="316" fill="#f17723"/><rect class="c" x="108" y="316" fill="#f37e22"/><rect class="c" x="111" y="316" fill="#f37d23"/><rect class="c" x="114" y="316" fill="#f27b24"/><rect class="c" x="117" y="316" fill="#f17525"/><rect class="c" x="120" y="316" fill="#f06f28"/><rect class="c" x="123" y="316" fill="#ef6a2b"/><rect class="c" x="126" y="316" fill="#ee6530"/><rect class="c" x="129" y="316" fill="#ec5f36"/><rect class="c" x="132" y="316" fill="#eb5a3c"/><rect class="c" x="135" y="316" fill="#e95343"/><rect class="c" x="138" y="316" fill="#e64c4d"/><rect class="c" x="141" y="316" fill="#e44757"/><rect class="c" x="144" y="316" fill="#e24460"/><rect class="c" x="147" y="316" fill="#e04367"/><rect class="c" x="150" y="316" fill="#df416f"/><rect class="c" x="153" y="316" fill="#de3e75"/><rect class="c" x="156" y="316" fill="#dd3b7b"/><rect class="c" x="159" y="316" fill="#dc3880"/><rect class="c" x="162" y="316" fill="#da3684"/><rect class="c" x="165" y="316" fill="#d83488"/><rect class="c" x="168" y="316" fill="#d6328b"/><rect class="c" x="171" y="316" fill="#d4308f"/><rect class="c" x="174" y="316" fill="#d12e92"/><rect class="c" x="177" y="316" fill="#ce2c95"/><rect class="c" x="180" y="316" fill="#cb2b97"/><rect class="c" x="183" y="316" fill="#c8299a"/><rect class="c" x="186" y="316" fill="#c5279c"/><rect class="c" x="189" y="316" fill="#be259e"/><rect class="c" x="192" y="316" fill="#b322a1"/><rect class="c" x="195" y="316" fill="#a71ea3"/><rect class="c" x="198" y="316" fill="#8917a5"/><rect class="c" x="201" y="316" fill="#6a0fa6"/><rect class="c" x="204" y="316" fill="#610ea6"/><rect class="c" x="207" y="316" fill="#5f0ea6"/><rect class="c" x="210" y="316" fill="#5d0ea6"/><rect class="c" x="213" y="316" fill="#5c0ea6"/><rect class="c" x="216" y="316" fill="#5c0ea6"/><rect class="c" x="12" y="319" fill="#dd3776"/><rect class="c" x="15" y="319" fill="#e03a71"/><rect class="c" x="18" y="319" fill="#df3a71"/><rect class="c" x="21" y="319" fill="#e03b6f"/><rect class="c" x="24" y="319" fill="#e24067"/><rect class="c" x="27" y="319" fill="#e4465d"/><rect class="c" x="30" y="319" fill="#e64c55"/><rect class="c" x="33" y="319" fill="#e8524e"/><rect class="c" x="36" y="319" fill="#e95747"/><rect class="c" x="39" y="319" fill="#eb5c41"/><rect class="c" x="42" y="319" fill="#ec623d"/><rect class="c" x="45" y="319" fill="#ee6737"/><rect class="c" x="48" y="319" fill="#ef6c32"/><rect class="c" x="51" y="319" fill="#f0712d"/><rect class="c" x="54" y="319" fill="#f27629"/><rect class="c" x="57" y="319" fill="#f37a26"/><rect class="c" x="60" y="319" fill="#f47d25"/><rect class="c" x="63" y="319" fill="#f47e24"/><rect class="c" x="66" y="319" fill="#f48023"/><rect class="c" x="69" y="319" fill="#f48123"/><rect class="c" x="72" y="319" fill="#f48222"/><rect class="c" x="75" y="319" fill="#f48222"/><rect class="c" x="78" y="319" fill="#f48321"/><rect class="c" x="81" y="319" fill="#f48321"/><rect class="c" x="84" y="319" fill="#f48221"/><rect class="c" x="87" y="319" fill="#f38121"/><rect class="c" x="90" y="319" fill="#f37f21"/><rect class="c" x="93" y="319" fill="#f27c21"/><rect class="c" x="96" y="319" fill="#f07722"/><rect class="c" x="99" y="319" fill="#bb4362"/><rect class="c" x="102" y="319" fill="#bb4064"/><rect class="c" x="105" y="319" fill="#ef7324"/><rect class="c" x="108" y="319" fill="#f17722"/><rect class="c" x="111" y="319" fill="#f17623"/><rect class="c" x="114" y="319" fill="#f07425"/><rect class="c" x="117" y="319" fill="#ef7027"/><rect class="c" x="120" y="319" fill="#ee6a2a"/><rect class="c" x="123" y="319" fill="#ed652e"/><rect class="c" x="126" y="319" fill="#ec6033"/><rect class="c" x="129" y="319" fill="#eb5a39"/><rect class="c" x="132" y="319" fill="#e9553f"/><rect class="c" x="135" y="319" fill="#e84f47"/><rect class="c" x="138" y="319" fill="#e54a51"/><rect class="c" x="141" y="319" fill="#e34659"/><rect class="c" x="144" y="319" fill="#e14261"/><rect class="c" x="147" y="319" fill="#df4269"/><rect class="c" x="150" y="319" fill="#de4070"/><rect class="c" x="153" y="319" fill="#dd3d76"/><rect class="c" x="156" y="319" fill="#dc3a7c"/><rect class="c" x="159" y="319" fill="#db3781"/><rect class="c" x="162" y="319" fill="#d93585"/><rect class="c" x="165" y="319" fill="#d73388"/><rect class="c" x="168" y="319" fill="#d5318c"/><rect class="c" x="171" y="319" fill="#d32f90"/><rect class="c" x="174" y="319" fill="#d12d93"/><rect class="c" x="177" y="319" fill="#ce2c95"/><rect class="c" x="180" y="319" fill="#ca2a98"/><rect class="c" x="183" y="319" fill="#c7289a"/><rect class="c" x="186" y="319" fill="#c4279d"/><rect class="c" x="189" y="319" fill="#be259f"/><rect class="c" x="192" y="319" fill="#b222a1"/><rect class="c" x="195" y="319" fill="#a61ea3"/><rect class="c" x="198" y="319" fill="#8917a5"/><rect class="c" x="201" y="319" fill="#6b10a6"/><rect class="c" x="204" y="319" fill="#610ea6"/><rect class="c" x="207" y="319" fill="#5f0ea6"/><rect class="c" x="210" y="319" fill="#5d0ea6"/><rect class="c" x="213" y="319" fill="#5c0ea6"/><rect class="c" x="216" y="319" fill="#5c0ea6"/><rect class="c" x="12" y="322" fill="#d83280"/><rect class="c" x="15" y="322" fill="#d9337f"/><rect class="c" x="18" y="322" fill="#dc3678"/><rect class="c" x="21" y="322" fill="#dd3876"/><rect class="c" x="24" y="322" fill="#df3a73"/><rect class="c" x="27" y="322" fill="#e03e6c"/><rect class="c" x="30" y="322" fill="#e24364"/><rect class="c" x="33" y="322" fill="#e4485e"/><rect class="c" x="36" y="322" fill="#e64c57"/><rect class="c" x="39" y="322" fill="#e75151"/><rect class="c" x="42" y="322" fill="#e9564b"/><rect class="c" x="45" y="322" fill="#ea5b46"/><rect class="c" x="48" y="322" fill="#ec603f"/><rect class="c" x="51" y="322" fill="#ee6439"/><rect class="c" x="54" y="322" fill="#ef6835"/><rect class="c" x="57" y="322" fill="#f06d31"/><rect class="c" x="60" y="322" fill="#f1702f"/><rect class="c" x="63" y="322" fill="#f1732d"/><rect class="c" x="66" y="322" fill="#f1752c"/><rect class="c" x="69" y="322" fill="#f2782a"/><rect class="c" x="72" y="322" fill="#f27929"/><rect class="c" x="75" y="322" fill="#f27928"/><rect class="c" x="78" y="322" fill="#f27a27"/><rect class="c" x="81" y="322" fill="#f27a27"/><rect class="c" x="84" y="322" fill="#f17927"/><rect class="c" x="87" y="322" fill="#f17827"/><rect class="c" x="90" y="322" fill="#f17727"/><rect class="c" x="93" y="322" fill="#f07527"/><rect class="c" x="96" y="322" fill="#ee7226"/><rect class="c" x="99" y="322" fill="#ba4263"/><rect class="c" x="102" y="322" fill="#b93f65"/><rect class="c" x="105" y="322" fill="#ed7026"/><rect class="c" x="108" y="322" fill="#ef7425"/><rect class="c" x="111" y="322" fill="#ef7325"/><rect class="c" x="114" y="322" fill="#ef7127"/><rect class="c" x="117" y="322" fill="#ee6d2a"/><rect class="c" x="120" y="322" fill="#ed682d"/><rect class="c" x="123" y="322" fill="#eb6330"/><rect class="c" x="126" y="322" fill="#ea5d35"/><rect class="c" x="129" y="322" fill="#e9583c"/><rect class="c" x="132" y="322" fill="#e85342"/><rect class="c" x="135" y="322" fill="#e64e4a"/><rect class="c" x="138" y="322" fill="#e44952"/><rect class="c" x="141" y="322" fill="#e2465a"/><rect class="c" x="144" y="322" fill="#e04262"/><rect class="c" x="147" y="322" fill="#df4069"/><rect class="c" x="150" y="322" fill="#dd3e70"/><rect class="c" x="153" y="322" fill="#dc3c76"/><rect class="c" x="156" y="322" fill="#db397c"/><rect class="c" x="159" y="322" fill="#da3682"/><rect class="c" x="162" y="322" fill="#d83486"/><rect class="c" x="165" y="322" fill="#d63289"/><rect class="c" x="168" y="322" fill="#d4308d"/><rect class="c" x="171" y="322" fill="#d22e90"/><rect class="c" x="174" y="322" fill="#d02c94"/><rect class="c" x="177" y="322" fill="#cd2b96"/><rect class="c" x="180" y="322" fill="#ca2999"/><rect class="c" x="183" y="322" fill="#c6289b"/><rect class="c" x="186" y="322" fill="#c3269d"/><rect class="c" x="189" y="322" fill="#bd249f"/><rect class="c" x="192" y="322" fill="#b221a1"/><rect class="c" x="195" y="322" fill="#a51ea3"/><rect class="c" x="198" y="322" fill="#8917a5"/><rect class="c" x="201" y="322" fill="#6b10a6"/><rect class="c" x="204" y="322" fill="#610ea6"/><rect class="c" x="207" y="322" fill="#5f0ea6"/><rect class="c" x="210" y="322" fill="#5d0ea6"/><rect class="c" x="213" y="322" fill="#5c0ea6"/><rect class="c" x="216" y="322" fill="#5c0ea6"/><rect class="c" x="12" y="325" fill="#d83280"/><rect class="c" x="15" y="325" fill="#d83280"/><rect class="c" x="18" y="325" fill="#d9337f"/><rect class="c" x="21" y="325" fill="#dc3877"/><rect class="c" x="24" y="325" fill="#dd3976"/><rect class="c" x="27" y="325" fill="#de3a74"/><rect class="c" x="30" y="325" fill="#df3b72"/><rect class="c" x="33" y="325" fill="#e34464"/><rect class="c" x="36" y="325" fill="#e34561"/><rect class="c" x="39" y="325" fill="#e4475e"/><rect class="c" x="42" y="325" fill="#e54a5b"/><rect class="c" x="45" y="325" fill="#e9544c"/><rect class="c" x="48" y="325" fill="#ea5748"/><rect class="c" x="51" y="325" fill="#eb5945"/><rect class="c" x="54" y="325" fill="#ed623b"/><rect class="c" x="57" y="325" fill="#ee6438"/><rect class="c" x="60" y="325" fill="#ee6636"/><rect class="c" x="63" y="325" fill="#f06d32"/><rect class="c" x="66" y="325" fill="#f06f30"/><rect class="c" x="69" y="325" fill="#f0712f"/><rect class="c" x="72" y="325" fill="#f0742d"/><rect class="c" x="75" y="325" fill="#f0742c"/><rect class="c" x="78" y="325" fill="#f0752b"/><rect class="c" x="81" y="325" fill="#f0752b"/><rect class="c" x="84" y="325" fill="#f0752b"/><rect class="c" x="87" y="325" fill="#ef712b"/><rect class="c" x="90" y="325" fill="#ef702b"/><rect class="c" x="93" y="325" fill="#ef702b"/><rect class="c" x="96" y="325" fill="#ec6d2a"/><rect class="c" x="99" y="325" fill="#b94164"/><rect class="c" x="102" y="325" fill="#b83f65"/><rect class="c" x="105" y="325" fill="#ec6e28"/><rect class="c" x="108" y="325" fill="#ee7226"/><rect class="c" x="111" y="325" fill="#ee7127"/><rect class="c" x="114" y="325" fill="#ee7127"/><rect class="c" x="117" y="325" fill="#ee6f29"/><rect class="c" x="120" y="325" fill="#eb642f"/><rect class="c" x="123" y="325" fill="#eb6231"/><rect class="c" x="126" y="325" fill="#ea5f33"/><rect class="c" x="129" y="325" fill="#e75441"/><rect class="c" x="132" y="325" fill="#e75144"/><rect class="c" x="135" y="325" fill="#e64e48"/><rect class="c" x="138" y="325" fill="#e54c4c"/><rect class="c" x="141" y="325" fill="#e0445f"/><rect class="c" x="144" y="325" fill="#df4263"/><rect class="c" x="147" y="325" fill="#de4067"/><rect class="c" x="150" y="325" fill="#de3f6a"/><rect class="c" x="153" y="325" fill="#db397a"/><rect class="c" x="156" y="325" fill="#db387e"/><rect class="c" x="159" y="325" fill="#da3781"/><rect class="c" x="162" y="325" fill="#d93583"/><rect class="c" x="165" y="325" fill="#d32f8e"/><rect class="c" x="168" y="325" fill="#d22e90"/><rect class="c" x="171" y="325" fill="#d12d91"/><rect class="c" x="174" y="325" fill="#d02c93"/><rect class="c" x="177" y="325" fill="#cf2c95"/><rect class="c" x="180" y="325" fill="#c5279c"/><rect class="c" x="183" y="325" fill="#c4269d"/><rect class="c" x="186" y="325" fill="#c2259e"/><rect class="c" x="189" y="325" fill="#c1249f"/><rect class="c" x="192" y="325" fill="#ab1fa2"/><rect class="c" x="195" y="325" fill="#a41ea3"/><rect class="c" x="198" y="325" fill="#8115a5"/><rect class="c" x="201" y="325" fill="#6b10a6"/><rect class="c" x="204" y="325" fill="#630ea6"/><rect class="c" x="207" y="325" fill="#5e0ea6"/><rect class="c" x="210" y="325" fill="#5d0ea6"/><rect class="c" x="213" y="325" fill="#5c0ea6"/><rect class="c" x="216" y="325" fill="#5c0ea6"/><rect class="c" x="12" y="328" fill="#d83280"/><rect class="c" x="15" y="328" fill="#d83280"/><rect class="c" x="18" y="328" fill="#d83280"/><rect class="c" x="21" y="328" fill="#db367a"/><rect class="c" x="24" y="328" fill="#de3a74"/><rect class="c" x="27" y="328" fill="#de3a74"/><rect class="c" x="30" y="328" fill="#de3a74"/><rect class="c" x="33" y="328" fill="#e1406a"/><rect class="c" x="36" y="328" fill="#e44660"/><rect class="c" x="39" y="328" fill="#e44660"/><rect class="c" x="42" y="328" fill="#e44660"/><rect class="c" x="45" y="328" fill="#e74e54"/><rect class="c" x="48" y="328" fill="#ea5648"/><rect class="c" x="51" y="328" fill="#ea5648"/><rect class="c" x="54" y="328" fill="#ec5d40"/><rect class="c" x="57" y="328" fill="#ee6438"/><rect class="c" x="60" y="328" fill="#ee6438"/><rect class="c" x="63" y="328" fill="#ef6a34"/><rect class="c" x="66" y="328" fill="#f07030"/><rect class="c" x="69" y="328" fill="#f07030"/><rect class="c" x="72" y="328" fill="#f0722e"/><rect class="c" x="75" y="328" fill="#f0742c"/><rect class="c" x="78" y="328" fill="#f0742c"/><rect class="c" x="81" y="328" fill="#f0742c"/><rect class="c" x="84" y="328" fill="#f0742c"/><rect class="c" x="87" y="328" fill="#ef712c"/><rect class="c" x="90" y="328" fill="#ee6e2c"/><rect class="c" x="93" y="328" fill="#ee6e2c"/><rect class="c" x="96" y="328" fill="#ec6c2b"/><rect class="c" x="99" y="328" fill="#b83f65"/><rect class="c" x="102" y="328" fill="#b83f65"/><rect class="c" x="105" y="328" fill="#ec6e28"/><rect class="c" x="108" y="328" fill="#ee7226"/><rect class="c" x="111" y="328" fill="#ee7127"/><rect class="c" x="114" y="328" fill="#ee7028"/><rect class="c" x="117" y="328" fill="#ee7028"/><rect class="c" x="120" y="328" fill="#ec682d"/><rect class="c" x="123" y="328" fill="#ea6032"/><rect class="c" x="126" y="328" fill="#ea6032"/><rect class="c" x="129" y="328" fill="#e8573d"/><rect class="c" x="132" y="328" fill="#e64e48"/><rect class="c" x="135" y="328" fill="#e64e48"/><rect class="c" x="138" y="328" fill="#e64e48"/><rect class="c" x="141" y="328" fill="#e24758"/><rect class="c" x="144" y="328" fill="#de4068"/><rect class="c" x="147" y="328" fill="#de4068"/><rect class="c" x="150" y="328" fill="#de4068"/><rect class="c" x="153" y="328" fill="#dc3b75"/><rect class="c" x="156" y="328" fill="#da3682"/><rect class="c" x="159" y="328" fill="#da3682"/><rect class="c" x="162" y="328" fill="#da3682"/><rect class="c" x="165" y="328" fill="#d5318b"/><rect class="c" x="168" y="328" fill="#d02c94"/><rect class="c" x="171" y="328" fill="#d02c94"/><rect class="c" x="174" y="328" fill="#d02c94"/><rect class="c" x="177" y="328" fill="#d02c94"/><rect class="c" x="180" y="328" fill="#c8289a"/><rect class="c" x="183" y="328" fill="#c024a0"/><rect class="c" x="186" y="328" fill="#c024a0"/><rect class="c" x="189" y="328" fill="#c024a0"/><rect class="c" x="192" y="328" fill="#af20a2"/><rect class="c" x="195" y="328" fill="#9e1ca4"/><rect class="c" x="198" y="328" fill="#8115a5"/><rect class="c" x="201" y="328" fill="#640ea6"/><rect class="c" x="204" y="328" fill="#640ea6"/><rect class="c" x="207" y="328" fill="#600ea6"/><rect class="c" x="210" y="328" fill="#5c0ea6"/><rect class="c" x="213" y="328" fill="#5c0ea6"/><rect class="c" x="216" y="328" fill="#5c0ea6"/></g></g>
<g clip-path="url(#tc)">
<g filter="url(#b3)">
<ellipse cx="90" cy="209" rx="14" ry="3.8" fill="#fcb020" opacity="0.85"/>
<ellipse cx="123" cy="208" rx="9" ry="3.4" fill="#f8901a" opacity="0.7"/>
<ellipse cx="73" cy="294" rx="27" ry="7" fill="#ffe260" opacity="0.85"/>
<ellipse cx="117" cy="293.5" rx="11" ry="6" fill="#fff0a0" opacity="0.85"/>
</g>
<g filter="url(#b2)">
<ellipse cx="94.2" cy="209.7" rx="3.6" ry="2.6" fill="#fff4a8"/>
<ellipse cx="82" cy="294" rx="13" ry="4.2" fill="#fffad0" opacity="0.9"/>
<ellipse cx="113.5" cy="293.5" rx="5" ry="4.2" fill="#fffef0" opacity="0.9"/>
</g>
<g filter="url(#b1)">
<polygon points="101.3,286.5 103.9,286.5 104.3,326 100.7,326" fill="#8a149e"/>
<polygon points="110,176 113.2,176 112,203 111.2,203" fill="#a41aa6" opacity="0.55"/>
</g>
</g>
<!-- marks -->
<g stroke="#2a1a1a" stroke-width="0.7" fill="none">
<path d="M82.5,209.6 l5.4,5.6 m0,-5.6 l-5.4,5.6"/>
<path d="M116,206.6 l5.4,5.6 m0,-5.6 l-5.4,5.6"/>
<path d="M79.6,292 l5.4,5.6 m0,-5.6 l-5.4,5.6"/>
<path d="M110.8,291.4 l5.4,5.6 m0,-5.6 l-5.4,5.6"/>
</g>
<g class="cal" fill="#2a1018" stroke="#2a1018" stroke-width="0.25">
<text x="34.1" y="200.9" font-size="9.6" textLength="28.8" lengthAdjust="spacingAndGlyphs">As. rec</text>
<text y="202.2" font-size="9.8"><tspan x="162.3" textLength="9.8" lengthAdjust="spacingAndGlyphs">70</tspan><tspan x="175.6" dy="-3.3" font-size="5.4" stroke="none">o</tspan><tspan x="178.6" dy="3.3" textLength="5.5" lengthAdjust="spacingAndGlyphs">C</tspan></text>
<text x="86.8" y="272.8" font-size="9.4" textLength="36" lengthAdjust="spacingAndGlyphs">white PS</text>
<text y="319.7" font-size="9.8"><tspan x="44.2" textLength="14.9" lengthAdjust="spacingAndGlyphs">100</tspan><tspan x="61.9" dy="-3.3" font-size="5.4" stroke="none">o</tspan><tspan x="65.0" dy="3.3" textLength="5.6" lengthAdjust="spacingAndGlyphs">C</tspan></text>
<text y="317.4" font-size="9.8"><tspan x="166.2" textLength="15.6" lengthAdjust="spacingAndGlyphs">110</tspan><tspan x="184.3" dy="-3.3" font-size="5.4" stroke="none">o</tspan><tspan x="187.3" dy="3.3" textLength="5.3" lengthAdjust="spacingAndGlyphs">C</tspan></text>
<text x="104" y="251.7" font-size="8.2" stroke-width="0.35">x</text>
<text x="108.4" y="254.3" font-size="6.1" stroke="none">M5</text>
<text x="89.3" y="219.6" font-size="6.3" stroke="none">M2</text>
<text x="122.2" y="215.7" font-size="6.3" stroke="none">M1</text>
<text x="86.8" y="302" font-size="6.3" stroke="none">M3</text>
<text x="117.4" y="301" font-size="6.3" stroke="none">M4</text>
</g>
<!-- colorbar -->
<rect x="221" y="189" width="15" height="107.5" fill="url(#cb)"/>
<rect x="221" y="296.4" width="15" height="18.9" fill="url(#cg)"/>
<g class="cal" font-size="4.6" fill="#333">
<text x="218" y="184.6">65,0 °C</text>
<text x="218" y="322">18,0 °C</text>
<text x="240.6" y="311.4">20,0</text><line x1="236" y1="309.8" x2="238.5" y2="309.8" stroke="#777" stroke-width="0.4"/><text x="240.6" y="298.0">25,0</text><line x1="236" y1="296.4" x2="238.5" y2="296.4" stroke="#777" stroke-width="0.4"/><text x="240.6" y="284.5">30,0</text><line x1="236" y1="282.9" x2="238.5" y2="282.9" stroke="#777" stroke-width="0.4"/><text x="240.6" y="271.1">35,0</text><line x1="236" y1="269.5" x2="238.5" y2="269.5" stroke="#777" stroke-width="0.4"/><text x="240.6" y="257.7">40,0</text><line x1="236" y1="256.1" x2="238.5" y2="256.1" stroke="#777" stroke-width="0.4"/><text x="240.6" y="244.3">45,0</text><line x1="236" y1="242.7" x2="238.5" y2="242.7" stroke="#777" stroke-width="0.4"/><text x="240.6" y="230.9">50,0</text><line x1="236" y1="229.3" x2="238.5" y2="229.3" stroke="#777" stroke-width="0.4"/><text x="240.6" y="217.4">55,0</text><line x1="236" y1="215.8" x2="238.5" y2="215.8" stroke="#777" stroke-width="0.4"/><text x="240.6" y="204.0">60,0</text><line x1="236" y1="202.4" x2="238.5" y2="202.4" stroke="#777" stroke-width="0.4"/><text x="240.6" y="190.6">65,0</text><line x1="236" y1="189.0" x2="238.5" y2="189.0" stroke="#777" stroke-width="0.4"/></g></g>
<g id="arrow">
<rect x="265" y="258.1" width="123.1" height="3.8" fill="#e2000f"/>
<polygon points="257.2,260 266.4,251.4 266.4,268.6" fill="#e2000f"/>
</g>
<g id="chart"><rect x="325.2" y="33.6" width="212.50000000000006" height="157.8" fill="#fff" stroke="#555" stroke-width="0.8"/><line x1="324.9" y1="191.4" x2="324.9" y2="193.20000000000002" stroke="#555" stroke-width="0.7"/><line x1="348.5" y1="191.4" x2="348.5" y2="194.4" stroke="#555" stroke-width="0.7"/><line x1="372.1" y1="191.4" x2="372.1" y2="193.20000000000002" stroke="#555" stroke-width="0.7"/><line x1="395.7" y1="191.4" x2="395.7" y2="194.4" stroke="#555" stroke-width="0.7"/><line x1="419.3" y1="191.4" x2="419.3" y2="193.20000000000002" stroke="#555" stroke-width="0.7"/><line x1="442.9" y1="191.4" x2="442.9" y2="194.4" stroke="#555" stroke-width="0.7"/><line x1="466.5" y1="191.4" x2="466.5" y2="193.20000000000002" stroke="#555" stroke-width="0.7"/><line x1="490.1" y1="191.4" x2="490.1" y2="194.4" stroke="#555" stroke-width="0.7"/><line x1="513.7" y1="191.4" x2="513.7" y2="193.20000000000002" stroke="#555" stroke-width="0.7"/><line x1="537.3" y1="191.4" x2="537.3" y2="194.4" stroke="#555" stroke-width="0.7"/><text x="348.5" y="201.4" text-anchor="middle" class="tk">0</text><text x="395.7" y="201.4" text-anchor="middle" class="tk">50</text><text x="442.9" y="201.4" text-anchor="middle" class="tk">100</text><text x="490.1" y="201.4" text-anchor="middle" class="tk">150</text><text x="537.3" y="201.4" text-anchor="middle" class="tk">200</text><line x1="323.4" y1="181.8" x2="325.2" y2="181.8" stroke="#555" stroke-width="0.7"/><line x1="322.2" y1="169.3" x2="325.2" y2="169.3" stroke="#555" stroke-width="0.7"/><line x1="323.4" y1="156.8" x2="325.2" y2="156.8" stroke="#555" stroke-width="0.7"/><line x1="322.2" y1="144.4" x2="325.2" y2="144.4" stroke="#555" stroke-width="0.7"/><line x1="323.4" y1="131.9" x2="325.2" y2="131.9" stroke="#555" stroke-width="0.7"/><line x1="322.2" y1="119.5" x2="325.2" y2="119.5" stroke="#555" stroke-width="0.7"/><line x1="323.4" y1="107.0" x2="325.2" y2="107.0" stroke="#555" stroke-width="0.7"/><line x1="322.2" y1="94.5" x2="325.2" y2="94.5" stroke="#555" stroke-width="0.7"/><line x1="323.4" y1="82.1" x2="325.2" y2="82.1" stroke="#555" stroke-width="0.7"/><line x1="322.2" y1="69.6" x2="325.2" y2="69.6" stroke="#555" stroke-width="0.7"/><line x1="323.4" y1="57.2" x2="325.2" y2="57.2" stroke="#555" stroke-width="0.7"/><line x1="322.2" y1="44.7" x2="325.2" y2="44.7" stroke="#555" stroke-width="0.7"/><text x="319.5" y="171.6" text-anchor="end" class="tk">40</text><text x="319.5" y="146.7" text-anchor="end" class="tk">60</text><text x="319.5" y="121.8" text-anchor="end" class="tk">80</text><text x="319.5" y="96.8" text-anchor="end" class="tk">100</text><text x="319.5" y="71.9" text-anchor="end" class="tk">120</text><text x="319.5" y="47.0" text-anchor="end" class="tk">140</text><line x1="345.4" y1="33.6" x2="345.4" y2="35.4" stroke="#555" stroke-width="0.7"/><line x1="366.7" y1="33.6" x2="366.7" y2="35.4" stroke="#555" stroke-width="0.7"/><line x1="388.0" y1="33.6" x2="388.0" y2="35.4" stroke="#555" stroke-width="0.7"/><line x1="409.3" y1="33.6" x2="409.3" y2="35.4" stroke="#555" stroke-width="0.7"/><line x1="430.6" y1="33.6" x2="430.6" y2="35.4" stroke="#555" stroke-width="0.7"/><line x1="451.9" y1="33.6" x2="451.9" y2="35.4" stroke="#555" stroke-width="0.7"/><line x1="473.2" y1="33.6" x2="473.2" y2="35.4" stroke="#555" stroke-width="0.7"/><line x1="494.5" y1="33.6" x2="494.5" y2="35.4" stroke="#555" stroke-width="0.7"/><line x1="515.8" y1="33.6" x2="515.8" y2="35.4" stroke="#555" stroke-width="0.7"/><line x1="535.9000000000001" y1="48.9" x2="537.7" y2="48.9" stroke="#555" stroke-width="0.7"/><line x1="535.9000000000001" y1="64.7" x2="537.7" y2="64.7" stroke="#555" stroke-width="0.7"/><line x1="535.9000000000001" y1="80.4" x2="537.7" y2="80.4" stroke="#555" stroke-width="0.7"/><line x1="535.9000000000001" y1="96.2" x2="537.7" y2="96.2" stroke="#555" stroke-width="0.7"/><line x1="535.9000000000001" y1="112.0" x2="537.7" y2="112.0" stroke="#555" stroke-width="0.7"/><line x1="535.9000000000001" y1="127.8" x2="537.7" y2="127.8" stroke="#555" stroke-width="0.7"/><line x1="535.9000000000001" y1="143.5" x2="537.7" y2="143.5" stroke="#555" stroke-width="0.7"/><line x1="535.9000000000001" y1="159.3" x2="537.7" y2="159.3" stroke="#555" stroke-width="0.7"/><line x1="535.9000000000001" y1="175.1" x2="537.7" y2="175.1" stroke="#555" stroke-width="0.7"/><text transform="translate(302.5,117.6) rotate(-90)" text-anchor="middle" class="ax">Temperature [°C]</text><text x="431.5" y="214.2" text-anchor="middle" class="ax">Time [sec]</text><rect x="347.1" y="184.8" width="3.5" height="3.5" fill="#404040"/><rect x="351.9" y="181.1" width="3.5" height="3.5" fill="#404040"/><rect x="356.6" y="177.9" width="3.5" height="3.5" fill="#404040"/><rect x="361.3" y="173.8" width="3.5" height="3.5" fill="#404040"/><rect x="366.0" y="171.7" width="3.5" height="3.5" fill="#404040"/><rect x="370.8" y="169.9" width="3.5" height="3.5" fill="#404040"/><rect x="375.5" y="168.9" width="3.5" height="3.5" fill="#404040"/><rect x="380.2" y="167.9" width="3.5" height="3.5" fill="#404040"/><rect x="384.9" y="167.1" width="3.5" height="3.5" fill="#404040"/><rect x="389.6" y="166.4" width="3.5" height="3.5" fill="#404040"/><rect x="394.3" y="165.4" width="3.5" height="3.5" fill="#404040"/><rect x="399.1" y="162.7" width="3.5" height="3.5" fill="#404040"/><rect x="403.8" y="164.8" width="3.5" height="3.5" fill="#404040"/><rect x="408.5" y="163.6" width="3.5" height="3.5" fill="#404040"/><rect x="413.2" y="162.6" width="3.5" height="3.5" fill="#404040"/><rect x="417.9" y="161.6" width="3.5" height="3.5" fill="#404040"/><rect x="422.7" y="160.7" width="3.5" height="3.5" fill="#404040"/><rect x="427.4" y="159.8" width="3.5" height="3.5" fill="#404040"/><rect x="432.1" y="158.8" width="3.5" height="3.5" fill="#404040"/><rect x="436.8" y="158.7" width="3.5" height="3.5" fill="#404040"/><rect x="441.5" y="158.8" width="3.5" height="3.5" fill="#404040"/><rect x="446.3" y="156.4" width="3.5" height="3.5" fill="#404040"/><rect x="451.0" y="155.2" width="3.5" height="3.5" fill="#404040"/><rect x="455.7" y="153.6" width="3.5" height="3.5" fill="#404040"/><rect x="460.4" y="152.2" width="3.5" height="3.5" fill="#404040"/><rect x="465.1" y="151.2" width="3.5" height="3.5" fill="#404040"/><rect x="469.9" y="151.6" width="3.5" height="3.5" fill="#404040"/><rect x="474.6" y="151.3" width="3.5" height="3.5" fill="#404040"/><rect x="479.3" y="150.2" width="3.5" height="3.5" fill="#404040"/><rect x="484.0" y="149.7" width="3.5" height="3.5" fill="#404040"/><rect x="488.8" y="150.9" width="3.5" height="3.5" fill="#404040"/><rect x="493.5" y="151.4" width="3.5" height="3.5" fill="#404040"/><rect x="498.2" y="149.4" width="3.5" height="3.5" fill="#404040"/><rect x="502.9" y="149.1" width="3.5" height="3.5" fill="#404040"/><rect x="507.6" y="148.2" width="3.5" height="3.5" fill="#404040"/><rect x="512.3" y="147.9" width="3.5" height="3.5" fill="#404040"/><rect x="517.1" y="147.2" width="3.5" height="3.5" fill="#404040"/><circle cx="348.9" cy="180.7" r="2.05" fill="#e8242a"/><circle cx="353.6" cy="169.8" r="2.05" fill="#e8242a"/><circle cx="358.3" cy="159.4" r="2.05" fill="#e8242a"/><circle cx="363.1" cy="151.4" r="2.05" fill="#e8242a"/><circle cx="367.8" cy="146.6" r="2.05" fill="#e8242a"/><circle cx="372.5" cy="142.6" r="2.05" fill="#e8242a"/><circle cx="377.2" cy="139.9" r="2.05" fill="#e8242a"/><circle cx="381.9" cy="136.8" r="2.05" fill="#e8242a"/><circle cx="386.7" cy="133.0" r="2.05" fill="#e8242a"/><circle cx="391.4" cy="130.4" r="2.05" fill="#e8242a"/><circle cx="396.1" cy="129.5" r="2.05" fill="#e8242a"/><circle cx="400.8" cy="129.6" r="2.05" fill="#e8242a"/><circle cx="405.5" cy="129.6" r="2.05" fill="#e8242a"/><circle cx="410.3" cy="125.8" r="2.05" fill="#e8242a"/><circle cx="415.0" cy="125.1" r="2.05" fill="#e8242a"/><circle cx="419.7" cy="124.7" r="2.05" fill="#e8242a"/><circle cx="433.9" cy="123.4" r="2.05" fill="#e8242a"/><circle cx="443.3" cy="122.3" r="2.05" fill="#e8242a"/><circle cx="452.7" cy="122.3" r="2.05" fill="#e8242a"/><circle cx="462.2" cy="117.2" r="2.05" fill="#e8242a"/><circle cx="471.6" cy="109.7" r="2.05" fill="#e8242a"/><circle cx="481.1" cy="111.3" r="2.05" fill="#e8242a"/><circle cx="490.5" cy="109.7" r="2.05" fill="#e8242a"/><circle cx="499.9" cy="107.5" r="2.05" fill="#e8242a"/><circle cx="509.4" cy="101.0" r="2.05" fill="#e8242a"/><polygon points="348.9,178.1 346.4,182.5 351.3,182.5" fill="#1f5fd8"/><polygon points="353.6,166.8 351.2,171.2 356.1,171.2" fill="#1f5fd8"/><polygon points="358.3,156.2 355.9,160.7 360.8,160.7" fill="#1f5fd8"/><polygon points="363.1,150.1 360.6,154.5 365.5,154.5" fill="#1f5fd8"/><polygon points="367.8,143.8 365.3,148.2 370.2,148.2" fill="#1f5fd8"/><polygon points="372.5,141.2 370.1,145.7 374.9,145.7" fill="#1f5fd8"/><polygon points="377.2,138.1 374.8,142.5 379.7,142.5" fill="#1f5fd8"/><polygon points="381.9,136.4 379.5,140.8 384.4,140.8" fill="#1f5fd8"/><polygon points="386.7,132.2 384.2,136.7 389.1,136.7" fill="#1f5fd8"/><polygon points="391.4,133.9 388.9,138.3 393.8,138.3" fill="#1f5fd8"/><polygon points="396.1,133.9 393.6,138.3 398.5,138.3" fill="#1f5fd8"/><polygon points="400.8,121.5 398.4,126.0 403.3,126.0" fill="#1f5fd8"/><polygon points="405.5,124.2 403.1,128.7 408.0,128.7" fill="#1f5fd8"/><polygon points="410.3,120.6 407.8,125.1 412.7,125.1" fill="#1f5fd8"/><polygon points="415.0,119.8 412.5,124.3 417.4,124.3" fill="#1f5fd8"/><polygon points="424.4,118.0 422.0,122.5 426.9,122.5" fill="#1f5fd8"/><polygon points="433.9,114.2 431.4,118.7 436.3,118.7" fill="#1f5fd8"/><polygon points="452.7,91.8 450.3,96.3 455.2,96.3" fill="#1f5fd8"/><polygon points="348.9,182.1 346.4,177.7 351.3,177.7" fill="#1fa35a"/><polygon points="353.6,177.9 351.2,173.5 356.1,173.5" fill="#1fa35a"/><polygon points="358.3,169.5 355.9,165.1 360.8,165.1" fill="#1fa35a"/><polygon points="363.1,162.2 360.6,157.8 365.5,157.8" fill="#1fa35a"/><polygon points="367.8,155.9 365.3,151.5 370.2,151.5" fill="#1fa35a"/><polygon points="372.5,150.8 370.1,146.3 374.9,146.3" fill="#1fa35a"/><polygon points="377.2,133.1 374.8,128.7 379.7,128.7" fill="#1fa35a"/><polygon points="381.9,125.2 379.5,120.8 384.4,120.8" fill="#1fa35a"/><polygon points="386.7,125.2 384.2,120.8 389.1,120.8" fill="#1fa35a"/><polygon points="391.4,116.7 388.9,112.2 393.8,112.2" fill="#1fa35a"/><polygon points="396.1,115.8 393.6,111.3 398.5,111.3" fill="#1fa35a"/><polygon points="400.8,118.0 398.4,113.5 403.3,113.5" fill="#1fa35a"/><polygon points="405.5,104.0 403.1,99.5 408.0,99.5" fill="#1fa35a"/><polygon points="410.3,91.2 407.8,86.7 412.7,86.7" fill="#1fa35a"/><polygon points="415.0,93.5 412.5,89.1 417.4,89.1" fill="#1fa35a"/><polygon points="419.7,91.2 417.2,86.7 422.1,86.7" fill="#1fa35a"/><polygon points="348.9,178.7 351.2,181.4 348.9,184.1 346.6,181.4" fill="#a35fe0"/><polygon points="353.6,172.2 355.9,174.9 353.6,177.6 351.3,174.9" fill="#a35fe0"/><polygon points="358.3,168.6 360.6,171.3 358.3,174.0 356.0,171.3" fill="#a35fe0"/><polygon points="363.1,160.9 365.4,163.6 363.1,166.3 360.8,163.6" fill="#a35fe0"/><polygon points="367.8,157.1 370.1,159.8 367.8,162.5 365.5,159.8" fill="#a35fe0"/><polygon points="372.5,152.5 374.8,155.2 372.5,157.9 370.2,155.2" fill="#a35fe0"/><polygon points="377.2,147.0 379.5,149.7 377.2,152.4 374.9,149.7" fill="#a35fe0"/><polygon points="381.9,134.5 384.2,137.2 381.9,139.9 379.6,137.2" fill="#a35fe0"/><polygon points="386.7,131.8 389.0,134.5 386.7,137.2 384.4,134.5" fill="#a35fe0"/><polygon points="391.4,121.6 393.7,124.3 391.4,127.0 389.1,124.3" fill="#a35fe0"/><polygon points="396.1,115.7 398.4,118.4 396.1,121.1 393.8,118.4" fill="#a35fe0"/><polygon points="400.8,87.3 403.1,90.0 400.8,92.7 398.5,90.0" fill="#a35fe0"/><polygon points="405.5,91.8 407.8,94.5 405.5,97.2 403.2,94.5" fill="#a35fe0"/><rect x="327" y="35.8" width="65.9" height="49" fill="#fff" stroke="#555" stroke-width="0.8"/><text x="346.7" y="42.4" class="lg">Pure PS</text><text x="346.7" y="51.5" class="lg">As rec.</text><text x="346.7" y="61.4" class="lg">GEPS 70 °C</text><text x="346.7" y="71.6" class="lg">GEPS 100 °C</text><text x="346.7" y="81.7" class="lg">GEPS 110 °C</text><rect x="334.2" y="38.300000000000004" width="3.6" height="3.6" fill="#404040"/><circle cx="336" cy="49.4" r="2.0" fill="#e8242a"/><polygon points="336,57.0 333.6,61.32 338.4,61.32" fill="#1f5fd8"/><polygon points="336,71.80000000000001 333.6,67.48 338.4,67.48" fill="#1fa35a"/><polygon points="336,76.80000000000001 338.21,79.4 336,82.0 333.79,79.4" fill="#a35fe0"/></g>
<g id="table"><rect x="403.1" y="219" width="80.1" height="106.4" fill="#e9ebf5"/><rect x="403.1" y="219" width="80.1" height="32.1" fill="#e6e9f4"/><rect x="403.1" y="251.1" width="80.1" height="14.7" fill="#e4e6f2"/><rect x="403.1" y="265.8" width="80.1" height="14.7" fill="#eceef7"/><rect x="403.1" y="280.5" width="80.1" height="14.8" fill="#e4e6f2"/><rect x="403.1" y="295.3" width="80.1" height="15.3" fill="#eceef7"/><rect x="403.1" y="310.6" width="80.1" height="14.8" fill="#e4e6f2"/><line x1="403.1" y1="251.1" x2="483.2" y2="251.1" stroke="#f6f7fb" stroke-width="0.7"/><line x1="403.1" y1="265.8" x2="483.2" y2="265.8" stroke="#f6f7fb" stroke-width="0.7"/><line x1="403.1" y1="280.5" x2="483.2" y2="280.5" stroke="#f6f7fb" stroke-width="0.7"/><line x1="403.1" y1="295.3" x2="483.2" y2="295.3" stroke="#f6f7fb" stroke-width="0.7"/><line x1="403.1" y1="310.6" x2="483.2" y2="310.6" stroke="#f6f7fb" stroke-width="0.7"/><line x1="441.3" y1="219" x2="441.3" y2="325.4" stroke="#f6f7fb" stroke-width="0.7"/><g class="ser" font-size="11.4" fill="#1a1a1a"><text x="463.5" y="233" text-anchor="middle" font-weight="bold">Temp.</text><text x="463.5" y="247" text-anchor="middle" font-weight="bold">[°C]</text><text x="414.4" y="247" font-weight="bold">Mx</text><text x="414.4" y="262">M1</text><text x="463" y="262" text-anchor="middle">56.1</text><text x="414.4" y="276.9">M2</text><text x="463" y="276.9" text-anchor="middle">55.0</text><text x="414.4" y="291.8">M3</text><text x="463" y="291.8" text-anchor="middle">64.7</text><text x="414.4" y="306.9">M4</text><text x="463" y="306.9" text-anchor="middle">68.5</text><text x="414.4" y="322">M5</text><text x="463" y="322" text-anchor="middle">44.2</text></g></g>
</svg>
</body></html>
